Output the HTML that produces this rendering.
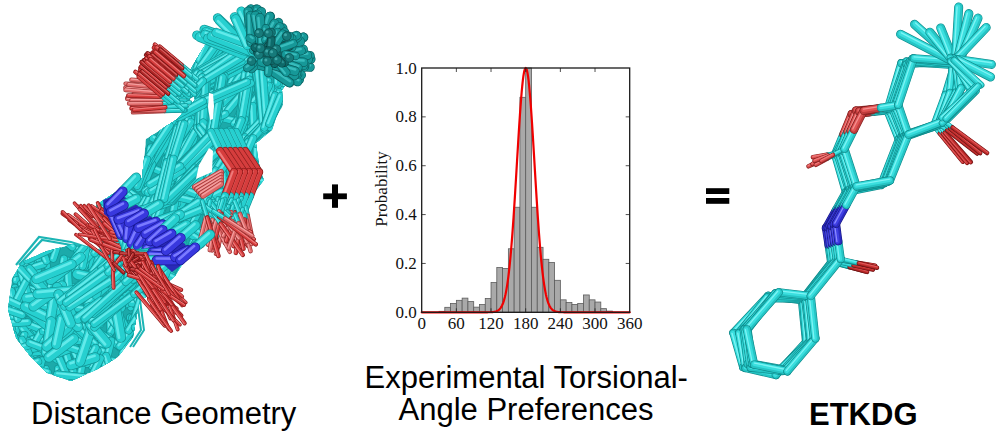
<!DOCTYPE html>
<html><head><meta charset="utf-8">
<style>
html,body{margin:0;padding:0;background:#fff;}
body{width:1000px;height:434px;overflow:hidden;position:relative;}
svg{position:absolute;left:0;top:0;}
.t{font-family:"Liberation Sans",sans-serif;font-size:31px;fill:#000;}
.s{font-family:"Liberation Serif",serif;font-size:17px;fill:#111;}
</style></head><body>
<svg width="1000" height="434" viewBox="0 0 1000 434">
<filter id="bl" filterUnits="userSpaceOnUse" x="0" y="0" width="1000" height="434"><feGaussianBlur stdDeviation="0.45"/></filter>
<g filter="url(#bl)">
<style>path{fill:none;stroke-linecap:round}.k0{stroke:#119595;stroke-width:8px}.k1{stroke:#28d0d0;stroke-width:6.6px}.k2{stroke:#62eaea;stroke-width:2.1px}.k3{stroke:#119595;stroke-width:10.5px}.k4{stroke:#28d0d0;stroke-width:9.1px}.k5{stroke:#62eaea;stroke-width:2.7px}.k6{stroke:#119595;stroke-width:9.5px}.k7{stroke:#28d0d0;stroke-width:8.1px}.k8{stroke:#62eaea;stroke-width:2.5px}.k9{stroke:#086060;stroke-width:9.5px}.k10{stroke:#159898;stroke-width:8.1px}.k11{stroke:#38bcbc;stroke-width:2.5px}.k12{stroke:#086060;stroke-width:8.5px}.k13{stroke:#159898;stroke-width:7.1px}.k14{stroke:#38bcbc;stroke-width:2.2px}.k15{stroke:#063f3f;stroke-width:8.5px}.k16{stroke:#0f6a6a;stroke-width:7.1px}.k17{stroke:#2a8f8f;stroke-width:2.2px}.k18{stroke:#119595;stroke-width:4.5px}.k19{stroke:#28d0d0;stroke-width:3.1px}.k20{stroke:#62eaea;stroke-width:1.2px}.k21{stroke:#a03a3a;stroke-width:4.5px}.k22{stroke:#e06a6a;stroke-width:3.1px}.k23{stroke:#f4a0a0;stroke-width:1.2px}.k24{stroke:#8e1a1a;stroke-width:4.5px}.k25{stroke:#d63e3e;stroke-width:3.1px}.k26{stroke:#ee7a7a;stroke-width:1.2px}.k27{stroke:#6e1010;stroke-width:4.5px}.k28{stroke:#b02828;stroke-width:3.1px}.k29{stroke:#d86060;stroke-width:1.2px}.k30{stroke:#a03a3a;stroke-width:6px}.k31{stroke:#e06a6a;stroke-width:4.6px}.k32{stroke:#f4a0a0;stroke-width:1.6px}.k33{stroke:#8e1a1a;stroke-width:8px}.k34{stroke:#d63e3e;stroke-width:6.6px}.k35{stroke:#ee7a7a;stroke-width:2.1px}.k36{stroke:#8e1a1a;stroke-width:3.9px}.k37{stroke:#d63e3e;stroke-width:2.5px}.k38{stroke:#ee7a7a;stroke-width:1.0px}.k39{stroke:#8e1a1a;stroke-width:3.6px}.k40{stroke:#d63e3e;stroke-width:2.2px}.k41{stroke:#ee7a7a;stroke-width:0.9px}.k42{stroke:#8e1a1a;stroke-width:3.7px}.k43{stroke:#d63e3e;stroke-width:2.3px}.k44{stroke:#8e1a1a;stroke-width:3.8px}.k45{stroke:#d63e3e;stroke-width:2.4px}.k46{stroke:#8e1a1a;stroke-width:4.0px}.k47{stroke:#d63e3e;stroke-width:2.6px}.k48{stroke:#8e1a1a;stroke-width:4.1px}.k49{stroke:#d63e3e;stroke-width:2.7px}.k50{stroke:#ee7a7a;stroke-width:1.1px}.k51{stroke:#8e1a1a;stroke-width:3.4px}.k52{stroke:#d63e3e;stroke-width:2.0px}.k53{stroke:#8e1a1a;stroke-width:3.5px}.k54{stroke:#d63e3e;stroke-width:2.1px}.k55{stroke:#8e1a1a;stroke-width:4.2px}.k56{stroke:#d63e3e;stroke-width:2.8px}.k57{stroke:#119595;stroke-width:10px}.k58{stroke:#28d0d0;stroke-width:8.6px}.k59{stroke:#62eaea;stroke-width:2.6px}.k60{stroke:#1a1a96;stroke-width:10px}.k61{stroke:#3838de;stroke-width:8.6px}.k62{stroke:#7a7aff;stroke-width:2.6px}.k63{stroke:#6e1010;stroke-width:3.8px}.k64{stroke:#b02828;stroke-width:2.4px}.k65{stroke:#d86060;stroke-width:1.0px}.k66{stroke:#0e8888;stroke-width:8.2px}.k67{stroke:#26c4c4;stroke-width:7.0px}.k68{stroke:#3adfdf;stroke-width:4.5px}.k69{stroke:#7ef4f4;stroke-width:1.3px}.k70{stroke:#0e8888;stroke-width:4.5px}.k71{stroke:#26c4c4;stroke-width:3.3px}.k72{stroke:#3adfdf;stroke-width:2.5px}.k73{stroke:#7ef4f4;stroke-width:0.7px}.k74{stroke:#6a1010;stroke-width:4.5px}.k75{stroke:#a82424;stroke-width:3.3px}.k76{stroke:#c83232;stroke-width:2.5px}.k77{stroke:#e87070;stroke-width:0.7px}.k78{stroke:#181880;stroke-width:8.2px}.k79{stroke:#2c2cc0;stroke-width:7.0px}.k80{stroke:#4040e4;stroke-width:4.5px}.k81{stroke:#8a8aff;stroke-width:1.3px}.k82{stroke:#802020;stroke-width:4.5px}.k83{stroke:#c03c3c;stroke-width:3.3px}.k84{stroke:#e05656;stroke-width:2.5px}.k85{stroke:#f59090;stroke-width:0.7px}.k86{stroke:#802020;stroke-width:8.2px}.k87{stroke:#c03c3c;stroke-width:7.0px}.k88{stroke:#e05656;stroke-width:4.5px}.k89{stroke:#f59090;stroke-width:1.3px}.k90{stroke:#0e8888;stroke-width:9px}.k91{stroke:#26c4c4;stroke-width:7.8px}.k92{stroke:#3adfdf;stroke-width:5.0px}.k93{stroke:#7ef4f4;stroke-width:1.4px}.k94{stroke:#0e8888;stroke-width:7px}.k95{stroke:#26c4c4;stroke-width:5.8px}.k96{stroke:#3adfdf;stroke-width:3.9px}.k97{stroke:#7ef4f4;stroke-width:1.1px}</style>
<clipPath id="cl"><polygon points="205,45 222,32 240,22 262,22 280,32 296,45 300,60 292,76 282,90 283,105 276,118 272,130 256,143 259,164 264,180 254,193 248,205 240,230 220,240 198,244 191,246 182,265 175,276 160,290 140,300 137,314 133,337 118,357 98,369 71,381 47,373 31,357 16,338 8,310 12,279 22,262 47,251 74,244 94,248 100,250 96,205 122,188 142,178 146,139 176,120 195,100 190,70"/></clipPath><g clip-path="url(#cl)">
<polygon points="205,45 222,32 240,22 262,22 280,32 296,45 300,60 292,76 282,90 283,105 276,118 272,130 256,143 259,164 264,180 254,193 248,205 240,230 220,240 198,244 191,246 182,265 175,276 160,290 140,300 137,314 133,337 118,357 98,369 71,381 47,373 31,357 16,338 8,310 12,279 22,262 47,251 74,244 94,248 100,250 96,205 122,188 142,178 146,139 176,120 195,100 190,70" fill="#1aaaaa"/>
</g>
<polyline points="16,265 39,237 71,242 96,250" fill="none" stroke="#1fb5b5" stroke-width="2.2"/>
<polyline points="137,300 141,330 130,347" fill="none" stroke="#1fb5b5" stroke-width="2"/>
<polyline points="19,265 42,240 71,245 96,253" fill="none" stroke="#1fb5b5" stroke-width="2.2"/>
<polyline points="140,300 144,330 133,347" fill="none" stroke="#1fb5b5" stroke-width="2"/>
<g clip-path="url(#cl)">
<path class="k0" d="M67.5 301.9L68.2 332.7"/>
<path class="k1" d="M67.5 301.9L68.2 332.7"/>
<path class="k2" d="M66.1 302.0L66.9 332.8"/>
<path class="k0" d="M29.5 340.7L27.5 370.1"/>
<path class="k1" d="M29.5 340.7L27.5 370.1"/>
<path class="k2" d="M28.1 340.6L26.1 370.0"/>
<path class="k0" d="M-1.7 277.0L29.9 277.7"/>
<path class="k1" d="M-1.7 277.0L29.9 277.7"/>
<path class="k2" d="M-1.6 275.7L29.9 276.3"/>
<path class="k0" d="M98.3 310.1L92.0 335.7"/>
<path class="k1" d="M98.3 310.1L92.0 335.7"/>
<path class="k2" d="M97.0 309.8L90.7 335.4"/>
<path class="k0" d="M85.7 253.4L98.9 255.7"/>
<path class="k1" d="M85.7 253.4L98.9 255.7"/>
<path class="k2" d="M86.0 252.1L99.2 254.4"/>
<path class="k0" d="M81.9 338.4L98.0 364.4"/>
<path class="k1" d="M81.9 338.4L98.0 364.4"/>
<path class="k2" d="M80.7 339.1L96.8 365.1"/>
<path class="k0" d="M76.1 323.2L79.6 336.6"/>
<path class="k1" d="M76.1 323.2L79.6 336.6"/>
<path class="k2" d="M74.8 323.5L78.3 336.9"/>
<path class="k0" d="M109.0 282.7L87.5 304.3"/>
<path class="k1" d="M109.0 282.7L87.5 304.3"/>
<path class="k2" d="M108.0 281.7L86.5 303.3"/>
<path class="k0" d="M100.7 276.0L111.6 282.4"/>
<path class="k1" d="M100.7 276.0L111.6 282.4"/>
<path class="k2" d="M101.4 274.8L112.3 281.2"/>
<path class="k0" d="M74.4 245.0L94.6 248.7"/>
<path class="k1" d="M74.4 245.0L94.6 248.7"/>
<path class="k2" d="M74.6 243.6L94.8 247.3"/>
<path class="k0" d="M142.2 299.6L130.8 307.0"/>
<path class="k1" d="M142.2 299.6L130.8 307.0"/>
<path class="k2" d="M141.5 298.5L130.1 305.9"/>
<path class="k0" d="M89.0 343.7L99.8 359.2"/>
<path class="k1" d="M89.0 343.7L99.8 359.2"/>
<path class="k2" d="M87.9 344.5L98.7 360.0"/>
<path class="k0" d="M79.4 300.8L60.1 311.1"/>
<path class="k1" d="M79.4 300.8L60.1 311.1"/>
<path class="k2" d="M78.7 299.6L59.5 309.9"/>
<path class="k0" d="M19.5 339.4L37.7 348.9"/>
<path class="k1" d="M19.5 339.4L37.7 348.9"/>
<path class="k2" d="M20.2 338.2L38.3 347.7"/>
<path class="k0" d="M42.7 386.5L75.8 382.4"/>
<path class="k1" d="M42.7 386.5L75.8 382.4"/>
<path class="k2" d="M42.5 385.1L75.6 381.1"/>
<path class="k0" d="M110.3 279.0L130.7 275.9"/>
<path class="k1" d="M110.3 279.0L130.7 275.9"/>
<path class="k2" d="M110.1 277.7L130.5 274.5"/>
<path class="k0" d="M120.8 331.9L135.5 328.3"/>
<path class="k1" d="M120.8 331.9L135.5 328.3"/>
<path class="k2" d="M120.4 330.6L135.2 327.0"/>
<path class="k0" d="M90.0 352.7L93.1 366.3"/>
<path class="k1" d="M90.0 352.7L93.1 366.3"/>
<path class="k2" d="M88.7 353.0L91.8 366.6"/>
<path class="k0" d="M93.1 256.4L81.8 279.4"/>
<path class="k1" d="M93.1 256.4L81.8 279.4"/>
<path class="k2" d="M91.8 255.8L80.5 278.9"/>
<path class="k0" d="M22.4 311.9L15.7 331.3"/>
<path class="k1" d="M22.4 311.9L15.7 331.3"/>
<path class="k2" d="M21.1 311.5L14.4 330.9"/>
<path class="k0" d="M87.3 272.9L100.8 284.1"/>
<path class="k1" d="M87.3 272.9L100.8 284.1"/>
<path class="k2" d="M88.2 271.9L101.7 283.0"/>
<path class="k0" d="M34.3 330.0L22.6 360.7"/>
<path class="k1" d="M34.3 330.0L22.6 360.7"/>
<path class="k2" d="M33.1 329.5L21.3 360.2"/>
<path class="k0" d="M130.6 317.2L134.0 331.1"/>
<path class="k1" d="M130.6 317.2L134.0 331.1"/>
<path class="k2" d="M129.3 317.5L132.7 331.5"/>
<path class="k0" d="M84.9 266.2L68.8 273.4"/>
<path class="k1" d="M84.9 266.2L68.8 273.4"/>
<path class="k2" d="M84.4 265.0L68.2 272.1"/>
<path class="k0" d="M115.6 308.9L131.5 337.2"/>
<path class="k1" d="M115.6 308.9L131.5 337.2"/>
<path class="k2" d="M114.4 309.6L130.3 337.8"/>
<path class="k0" d="M76.9 324.4L66.9 339.5"/>
<path class="k1" d="M76.9 324.4L66.9 339.5"/>
<path class="k2" d="M75.8 323.6L65.8 338.8"/>
<path class="k0" d="M56.0 234.7L77.7 244.1"/>
<path class="k1" d="M56.0 234.7L77.7 244.1"/>
<path class="k2" d="M56.5 233.5L78.3 242.9"/>
<path class="k0" d="M14.9 288.0L26.6 312.6"/>
<path class="k1" d="M14.9 288.0L26.6 312.6"/>
<path class="k2" d="M13.7 288.5L25.3 313.1"/>
<path class="k0" d="M76.7 249.4L98.6 254.4"/>
<path class="k1" d="M76.7 249.4L98.6 254.4"/>
<path class="k2" d="M77.0 248.1L98.9 253.0"/>
<path class="k0" d="M41.0 281.9L66.2 275.4"/>
<path class="k1" d="M41.0 281.9L66.2 275.4"/>
<path class="k2" d="M40.7 280.5L65.9 274.1"/>
<path class="k0" d="M67.9 338.8L76.8 349.1"/>
<path class="k1" d="M67.9 338.8L76.8 349.1"/>
<path class="k2" d="M66.9 339.7L75.8 350.0"/>
<path class="k0" d="M54.2 284.4L81.8 290.3"/>
<path class="k1" d="M54.2 284.4L81.8 290.3"/>
<path class="k2" d="M54.4 283.1L82.0 289.0"/>
<path class="k0" d="M97.9 342.6L113.2 364.9"/>
<path class="k1" d="M97.9 342.6L113.2 364.9"/>
<path class="k2" d="M96.8 343.4L112.1 365.7"/>
<path class="k0" d="M63.1 340.5L62.1 366.2"/>
<path class="k1" d="M63.1 340.5L62.1 366.2"/>
<path class="k2" d="M61.7 340.4L60.7 366.1"/>
<path class="k0" d="M59.4 314.2L55.3 327.6"/>
<path class="k1" d="M59.4 314.2L55.3 327.6"/>
<path class="k2" d="M58.1 313.8L54.0 327.2"/>
<path class="k0" d="M18.6 259.9L16.1 280.3"/>
<path class="k1" d="M18.6 259.9L16.1 280.3"/>
<path class="k2" d="M17.2 259.8L14.8 280.2"/>
<path class="k0" d="M110.0 308.7L110.5 332.6"/>
<path class="k1" d="M110.0 308.7L110.5 332.6"/>
<path class="k2" d="M108.7 308.7L109.1 332.6"/>
<path class="k0" d="M72.7 300.2L82.9 320.3"/>
<path class="k1" d="M72.7 300.2L82.9 320.3"/>
<path class="k2" d="M71.5 300.8L81.7 320.9"/>
<path class="k0" d="M36.5 325.8L32.6 352.1"/>
<path class="k1" d="M36.5 325.8L32.6 352.1"/>
<path class="k2" d="M35.1 325.6L31.3 351.9"/>
<path class="k0" d="M65.0 358.9L80.9 380.7"/>
<path class="k1" d="M65.0 358.9L80.9 380.7"/>
<path class="k2" d="M63.9 359.7L79.7 381.5"/>
<path class="k0" d="M25.8 246.6L35.0 266.3"/>
<path class="k1" d="M25.8 246.6L35.0 266.3"/>
<path class="k2" d="M24.5 247.2L33.8 266.9"/>
<path class="k0" d="M144.1 273.1L123.5 288.9"/>
<path class="k1" d="M144.1 273.1L123.5 288.9"/>
<path class="k2" d="M143.2 272.0L122.6 287.8"/>
<path class="k0" d="M112.9 341.0L128.2 354.5"/>
<path class="k1" d="M112.9 341.0L128.2 354.5"/>
<path class="k2" d="M113.8 339.9L129.1 353.5"/>
<path class="k0" d="M78.1 276.2L96.8 282.6"/>
<path class="k1" d="M78.1 276.2L96.8 282.6"/>
<path class="k2" d="M78.6 274.9L97.2 281.3"/>
<path class="k0" d="M70.0 362.7L71.4 386.1"/>
<path class="k1" d="M70.0 362.7L71.4 386.1"/>
<path class="k2" d="M68.6 362.8L70.1 386.2"/>
<path class="k0" d="M104.1 335.7L97.6 347.7"/>
<path class="k1" d="M104.1 335.7L97.6 347.7"/>
<path class="k2" d="M102.9 335.1L96.4 347.1"/>
<path class="k0" d="M11.9 328.7L0.5 352.4"/>
<path class="k1" d="M11.9 328.7L0.5 352.4"/>
<path class="k2" d="M10.7 328.1L-0.7 351.8"/>
<path class="k0" d="M84.5 323.7L84.8 336.3"/>
<path class="k1" d="M84.5 323.7L84.8 336.3"/>
<path class="k2" d="M83.1 323.8L83.4 336.3"/>
<path class="k0" d="M111.4 256.5L137.5 277.6"/>
<path class="k1" d="M111.4 256.5L137.5 277.6"/>
<path class="k2" d="M112.2 255.4L138.4 276.5"/>
<path class="k0" d="M76.5 316.8L84.1 342.8"/>
<path class="k1" d="M76.5 316.8L84.1 342.8"/>
<path class="k2" d="M75.2 317.2L82.8 343.2"/>
<path class="k0" d="M18.4 295.6L41.4 312.6"/>
<path class="k1" d="M18.4 295.6L41.4 312.6"/>
<path class="k2" d="M19.2 294.5L42.2 311.5"/>
<path class="k0" d="M40.8 342.0L27.1 361.0"/>
<path class="k1" d="M40.8 342.0L27.1 361.0"/>
<path class="k2" d="M39.7 341.2L26.0 360.2"/>
<path class="k0" d="M94.7 334.5L89.7 361.4"/>
<path class="k1" d="M94.7 334.5L89.7 361.4"/>
<path class="k2" d="M93.3 334.3L88.3 361.2"/>
<path class="k0" d="M42.7 288.0L24.4 300.1"/>
<path class="k1" d="M42.7 288.0L24.4 300.1"/>
<path class="k2" d="M42.0 286.9L23.7 298.9"/>
<path class="k0" d="M17.3 369.2L41.8 367.6"/>
<path class="k1" d="M17.3 369.2L41.8 367.6"/>
<path class="k2" d="M17.2 367.9L41.7 366.3"/>
<path class="k0" d="M148.5 300.4L134.8 304.2"/>
<path class="k1" d="M148.5 300.4L134.8 304.2"/>
<path class="k2" d="M148.1 299.1L134.4 302.9"/>
<path class="k0" d="M24.8 287.9L47.9 293.8"/>
<path class="k1" d="M24.8 287.9L47.9 293.8"/>
<path class="k2" d="M25.1 286.6L48.2 292.5"/>
<path class="k0" d="M127.9 276.7L109.3 283.2"/>
<path class="k1" d="M127.9 276.7L109.3 283.2"/>
<path class="k2" d="M127.4 275.4L108.9 282.0"/>
<path class="k0" d="M16.6 290.8L8.2 306.8"/>
<path class="k1" d="M16.6 290.8L8.2 306.8"/>
<path class="k2" d="M15.4 290.2L7.0 306.1"/>
<path class="k0" d="M120.6 298.6L139.7 295.3"/>
<path class="k1" d="M120.6 298.6L139.7 295.3"/>
<path class="k2" d="M120.4 297.2L139.4 293.9"/>
<path class="k0" d="M34.0 304.0L10.6 317.2"/>
<path class="k1" d="M34.0 304.0L10.6 317.2"/>
<path class="k2" d="M33.4 302.8L9.9 316.0"/>
<path class="k0" d="M70.8 362.2L61.2 372.3"/>
<path class="k1" d="M70.8 362.2L61.2 372.3"/>
<path class="k2" d="M69.8 361.3L60.3 371.4"/>
<path class="k0" d="M29.0 300.7L37.4 323.6"/>
<path class="k1" d="M29.0 300.7L37.4 323.6"/>
<path class="k2" d="M27.8 301.2L36.1 324.1"/>
<path class="k0" d="M29.8 297.9L19.5 322.6"/>
<path class="k1" d="M29.8 297.9L19.5 322.6"/>
<path class="k2" d="M28.6 297.3L18.2 322.0"/>
<path class="k0" d="M83.0 269.3L99.9 285.7"/>
<path class="k1" d="M83.0 269.3L99.9 285.7"/>
<path class="k2" d="M83.9 268.3L100.8 284.7"/>
<path class="k0" d="M87.9 255.6L84.0 267.1"/>
<path class="k1" d="M87.9 255.6L84.0 267.1"/>
<path class="k2" d="M86.6 255.2L82.7 266.7"/>
<path class="k0" d="M46.1 313.9L67.0 314.1"/>
<path class="k1" d="M46.1 313.9L67.0 314.1"/>
<path class="k2" d="M46.2 312.5L67.0 312.7"/>
<path class="k0" d="M118.5 310.1L121.8 325.5"/>
<path class="k1" d="M118.5 310.1L121.8 325.5"/>
<path class="k2" d="M117.2 310.4L120.5 325.8"/>
<path class="k0" d="M138.3 290.5L141.0 312.7"/>
<path class="k1" d="M138.3 290.5L141.0 312.7"/>
<path class="k2" d="M136.9 290.6L139.6 312.9"/>
<path class="k0" d="M19.1 290.5L19.0 304.8"/>
<path class="k1" d="M19.1 290.5L19.0 304.8"/>
<path class="k2" d="M17.8 290.4L17.6 304.8"/>
<path class="k0" d="M53.3 223.6L72.5 245.6"/>
<path class="k1" d="M53.3 223.6L72.5 245.6"/>
<path class="k2" d="M52.3 224.5L71.5 246.5"/>
<path class="k0" d="M30.7 329.2L37.5 345.2"/>
<path class="k1" d="M30.7 329.2L37.5 345.2"/>
<path class="k2" d="M29.4 329.7L36.3 345.7"/>
<path class="k0" d="M78.5 296.9L71.1 319.0"/>
<path class="k1" d="M78.5 296.9L71.1 319.0"/>
<path class="k2" d="M77.3 296.5L69.8 318.5"/>
<path class="k0" d="M41.7 256.2L33.4 265.5"/>
<path class="k1" d="M41.7 256.2L33.4 265.5"/>
<path class="k2" d="M40.7 255.3L32.4 264.6"/>
<path class="k0" d="M97.7 351.0L92.2 366.5"/>
<path class="k1" d="M97.7 351.0L92.2 366.5"/>
<path class="k2" d="M96.5 350.5L90.9 366.0"/>
<path class="k0" d="M99.1 318.5L90.3 340.7"/>
<path class="k1" d="M99.1 318.5L90.3 340.7"/>
<path class="k2" d="M97.8 318.0L89.0 340.2"/>
<path class="k0" d="M96.8 247.0L79.2 255.6"/>
<path class="k1" d="M96.8 247.0L79.2 255.6"/>
<path class="k2" d="M96.2 245.7L78.6 254.4"/>
<path class="k0" d="M11.4 317.9L43.0 330.3"/>
<path class="k1" d="M11.4 317.9L43.0 330.3"/>
<path class="k2" d="M11.9 316.6L43.5 329.1"/>
<path class="k0" d="M30.0 334.3L41.8 352.4"/>
<path class="k1" d="M30.0 334.3L41.8 352.4"/>
<path class="k2" d="M28.8 335.1L40.7 353.1"/>
<path class="k0" d="M149.0 307.9L133.3 321.6"/>
<path class="k1" d="M149.0 307.9L133.3 321.6"/>
<path class="k2" d="M148.1 306.9L132.4 320.6"/>
<path class="k0" d="M22.5 327.8L37.8 345.1"/>
<path class="k1" d="M22.5 327.8L37.8 345.1"/>
<path class="k2" d="M21.5 328.7L36.8 346.0"/>
<path class="k0" d="M127.7 303.4L99.8 313.5"/>
<path class="k1" d="M127.7 303.4L99.8 313.5"/>
<path class="k2" d="M127.2 302.1L99.3 312.2"/>
<path class="k0" d="M118.3 318.6L110.3 332.7"/>
<path class="k1" d="M118.3 318.6L110.3 332.7"/>
<path class="k2" d="M117.1 318.0L109.1 332.1"/>
<path class="k0" d="M5.7 245.5L28.8 268.3"/>
<path class="k1" d="M5.7 245.5L28.8 268.3"/>
<path class="k2" d="M6.7 244.5L29.7 267.3"/>
<path class="k0" d="M131.6 303.1L153.8 301.1"/>
<path class="k1" d="M131.6 303.1L153.8 301.1"/>
<path class="k2" d="M131.5 301.7L153.7 299.7"/>
<path class="k0" d="M83.0 285.5L71.6 308.7"/>
<path class="k1" d="M83.0 285.5L71.6 308.7"/>
<path class="k2" d="M81.8 284.9L70.3 308.1"/>
<path class="k0" d="M56.8 279.2L65.6 292.9"/>
<path class="k1" d="M56.8 279.2L65.6 292.9"/>
<path class="k2" d="M55.6 280.0L64.5 293.7"/>
<path class="k0" d="M17.9 310.6L31.7 309.3"/>
<path class="k1" d="M17.9 310.6L31.7 309.3"/>
<path class="k2" d="M17.7 309.2L31.5 308.0"/>
<path class="k0" d="M95.9 249.2L75.0 270.4"/>
<path class="k1" d="M95.9 249.2L75.0 270.4"/>
<path class="k2" d="M94.9 248.2L74.1 269.4"/>
<path class="k0" d="M45.9 369.2L31.6 375.2"/>
<path class="k1" d="M45.9 369.2L31.6 375.2"/>
<path class="k2" d="M45.4 367.9L31.1 373.9"/>
<path class="k0" d="M44.1 300.7L54.9 327.4"/>
<path class="k1" d="M44.1 300.7L54.9 327.4"/>
<path class="k2" d="M42.8 301.2L53.6 327.9"/>
<path class="k0" d="M51.7 341.3L70.1 344.2"/>
<path class="k1" d="M51.7 341.3L70.1 344.2"/>
<path class="k2" d="M51.9 339.9L70.3 342.8"/>
<path class="k0" d="M23.6 288.1L41.2 298.7"/>
<path class="k1" d="M23.6 288.1L41.2 298.7"/>
<path class="k2" d="M24.3 286.9L41.9 297.5"/>
<path class="k0" d="M108.6 336.5L101.7 361.1"/>
<path class="k1" d="M108.6 336.5L101.7 361.1"/>
<path class="k2" d="M107.3 336.2L100.4 360.8"/>
<path class="k0" d="M110.9 255.7L110.8 284.4"/>
<path class="k1" d="M110.9 255.7L110.8 284.4"/>
<path class="k2" d="M109.5 255.7L109.4 284.4"/>
<path class="k0" d="M33.3 262.8L44.3 283.2"/>
<path class="k1" d="M33.3 262.8L44.3 283.2"/>
<path class="k2" d="M32.1 263.5L43.1 283.8"/>
<path class="k0" d="M130.2 317.5L159.9 319.7"/>
<path class="k1" d="M130.2 317.5L159.9 319.7"/>
<path class="k2" d="M130.3 316.2L160.0 318.3"/>
<path class="k0" d="M-4.9 324.2L27.7 322.2"/>
<path class="k1" d="M-4.9 324.2L27.7 322.2"/>
<path class="k2" d="M-4.9 322.8L27.6 320.9"/>
<path class="k0" d="M58.2 368.8L57.6 393.9"/>
<path class="k1" d="M58.2 368.8L57.6 393.9"/>
<path class="k2" d="M56.8 368.7L56.2 393.9"/>
<path class="k0" d="M58.3 296.2L70.6 318.1"/>
<path class="k1" d="M58.3 296.2L70.6 318.1"/>
<path class="k2" d="M57.1 296.8L69.4 318.8"/>
<path class="k0" d="M67.8 264.8L41.9 284.3"/>
<path class="k1" d="M67.8 264.8L41.9 284.3"/>
<path class="k2" d="M67.0 263.7L41.0 283.2"/>
<path class="k0" d="M91.1 348.8L108.0 344.5"/>
<path class="k1" d="M91.1 348.8L108.0 344.5"/>
<path class="k2" d="M90.8 347.5L107.6 343.1"/>
<path class="k0" d="M110.7 284.8L115.7 296.9"/>
<path class="k1" d="M110.7 284.8L115.7 296.9"/>
<path class="k2" d="M109.4 285.3L114.5 297.4"/>
<path class="k0" d="M57.6 302.5L71.2 306.5"/>
<path class="k1" d="M57.6 302.5L71.2 306.5"/>
<path class="k2" d="M58.0 301.2L71.6 305.2"/>
<path class="k0" d="M25.8 339.5L47.8 340.9"/>
<path class="k1" d="M25.8 339.5L47.8 340.9"/>
<path class="k2" d="M25.9 338.1L47.9 339.6"/>
<path class="k0" d="M33.9 228.7L27.2 247.5"/>
<path class="k1" d="M33.9 228.7L27.2 247.5"/>
<path class="k2" d="M32.6 228.2L25.9 247.1"/>
<path class="k0" d="M25.8 283.6L16.1 306.5"/>
<path class="k1" d="M25.8 283.6L16.1 306.5"/>
<path class="k2" d="M24.5 283.1L14.9 305.9"/>
<path class="k0" d="M67.7 345.6L58.2 357.2"/>
<path class="k1" d="M67.7 345.6L58.2 357.2"/>
<path class="k2" d="M66.6 344.7L57.1 356.3"/>
<path class="k0" d="M40.3 234.6L46.7 265.6"/>
<path class="k1" d="M40.3 234.6L46.7 265.6"/>
<path class="k2" d="M39.0 234.9L45.4 265.9"/>
<path class="k0" d="M110.0 317.3L125.3 337.7"/>
<path class="k1" d="M110.0 317.3L125.3 337.7"/>
<path class="k2" d="M109.0 318.1L124.2 338.5"/>
<path class="k0" d="M96.9 331.1L120.6 347.0"/>
<path class="k1" d="M96.9 331.1L120.6 347.0"/>
<path class="k2" d="M97.7 329.9L121.4 345.9"/>
<path class="k0" d="M43.4 264.1L13.5 273.6"/>
<path class="k1" d="M43.4 264.1L13.5 273.6"/>
<path class="k2" d="M43.0 262.8L13.1 272.3"/>
<path class="k0" d="M43.0 288.2L38.3 304.4"/>
<path class="k1" d="M43.0 288.2L38.3 304.4"/>
<path class="k2" d="M41.7 287.8L37.0 304.1"/>
<path class="k0" d="M48.3 342.4L35.2 353.4"/>
<path class="k1" d="M48.3 342.4L35.2 353.4"/>
<path class="k2" d="M47.4 341.3L34.3 352.4"/>
<path class="k0" d="M141.1 297.9L153.3 313.1"/>
<path class="k1" d="M141.1 297.9L153.3 313.1"/>
<path class="k2" d="M140.0 298.7L152.3 314.0"/>
<path class="k0" d="M100.9 359.1L122.5 362.5"/>
<path class="k1" d="M100.9 359.1L122.5 362.5"/>
<path class="k2" d="M101.2 357.8L122.7 361.2"/>
<path class="k0" d="M127.2 290.3L103.5 308.3"/>
<path class="k1" d="M127.2 290.3L103.5 308.3"/>
<path class="k2" d="M126.4 289.2L102.7 307.3"/>
<path class="k0" d="M60.4 321.0L50.3 342.9"/>
<path class="k1" d="M60.4 321.0L50.3 342.9"/>
<path class="k2" d="M59.1 320.5L49.1 342.3"/>
<path class="k0" d="M54.6 287.8L73.7 287.4"/>
<path class="k1" d="M54.6 287.8L73.7 287.4"/>
<path class="k2" d="M54.6 286.4L73.7 286.1"/>
<path class="k0" d="M88.2 285.6L74.9 309.2"/>
<path class="k1" d="M88.2 285.6L74.9 309.2"/>
<path class="k2" d="M87.0 284.9L73.7 308.5"/>
<path class="k0" d="M28.9 352.6L60.8 349.4"/>
<path class="k1" d="M28.9 352.6L60.8 349.4"/>
<path class="k2" d="M28.8 351.2L60.6 348.0"/>
<path class="k0" d="M92.2 324.9L89.0 352.0"/>
<path class="k1" d="M92.2 324.9L89.0 352.0"/>
<path class="k2" d="M90.8 324.7L87.6 351.8"/>
<path class="k0" d="M38.3 243.6L46.5 261.0"/>
<path class="k1" d="M38.3 243.6L46.5 261.0"/>
<path class="k2" d="M37.1 244.2L45.3 261.6"/>
<path class="k0" d="M136.5 264.2L135.4 296.4"/>
<path class="k1" d="M136.5 264.2L135.4 296.4"/>
<path class="k2" d="M135.2 264.2L134.0 296.3"/>
<path class="k0" d="M61.3 348.1L70.1 362.5"/>
<path class="k1" d="M61.3 348.1L70.1 362.5"/>
<path class="k2" d="M60.2 348.8L68.9 363.2"/>
<path class="k0" d="M149.0 334.6L141.4 353.1"/>
<path class="k1" d="M149.0 334.6L141.4 353.1"/>
<path class="k2" d="M147.7 334.1L140.1 352.5"/>
<path class="k0" d="M55.5 271.9L54.2 301.4"/>
<path class="k1" d="M55.5 271.9L54.2 301.4"/>
<path class="k2" d="M54.1 271.9L52.8 301.4"/>
<path class="k0" d="M111.1 272.2L110.5 302.6"/>
<path class="k1" d="M111.1 272.2L110.5 302.6"/>
<path class="k2" d="M109.8 272.2L109.1 302.6"/>
<path class="k0" d="M86.2 248.6L82.6 266.5"/>
<path class="k1" d="M86.2 248.6L82.6 266.5"/>
<path class="k2" d="M84.9 248.4L81.3 266.2"/>
<path class="k0" d="M6.5 301.7L0.2 319.1"/>
<path class="k1" d="M6.5 301.7L0.2 319.1"/>
<path class="k2" d="M5.2 301.3L-1.1 318.7"/>
<path class="k0" d="M60.9 314.3L65.9 327.2"/>
<path class="k1" d="M60.9 314.3L65.9 327.2"/>
<path class="k2" d="M59.6 314.8L64.7 327.7"/>
<path class="k0" d="M3.5 335.4L21.0 354.6"/>
<path class="k1" d="M3.5 335.4L21.0 354.6"/>
<path class="k2" d="M2.5 336.3L20.0 355.5"/>
<path class="k0" d="M33.3 338.9L9.9 353.7"/>
<path class="k1" d="M33.3 338.9L9.9 353.7"/>
<path class="k2" d="M32.5 337.8L9.2 352.6"/>
<path class="k0" d="M69.5 362.0L77.2 381.2"/>
<path class="k1" d="M69.5 362.0L77.2 381.2"/>
<path class="k2" d="M68.2 362.5L76.0 381.7"/>
<path class="k0" d="M59.3 373.6L42.1 388.5"/>
<path class="k1" d="M59.3 373.6L42.1 388.5"/>
<path class="k2" d="M58.4 372.6L41.2 387.5"/>
<path class="k0" d="M59.8 231.3L53.6 256.6"/>
<path class="k1" d="M59.8 231.3L53.6 256.6"/>
<path class="k2" d="M58.5 230.9L52.3 256.3"/>
<path class="k0" d="M68.0 341.2L89.2 340.3"/>
<path class="k1" d="M68.0 341.2L89.2 340.3"/>
<path class="k2" d="M67.9 339.9L89.1 339.0"/>
<path class="k0" d="M28.5 341.3L15.4 350.0"/>
<path class="k1" d="M28.5 341.3L15.4 350.0"/>
<path class="k2" d="M27.7 340.1L14.6 348.9"/>
<path class="k0" d="M21.2 283.7L40.1 308.9"/>
<path class="k1" d="M21.2 283.7L40.1 308.9"/>
<path class="k2" d="M20.1 284.5L39.0 309.7"/>
<path class="k0" d="M64.4 330.9L77.0 357.1"/>
<path class="k1" d="M64.4 330.9L77.0 357.1"/>
<path class="k2" d="M63.2 331.5L75.8 357.7"/>
<path class="k0" d="M24.1 228.8L29.7 250.7"/>
<path class="k1" d="M24.1 228.8L29.7 250.7"/>
<path class="k2" d="M22.8 229.1L28.4 251.0"/>
<path class="k0" d="M112.2 275.8L127.9 281.7"/>
<path class="k1" d="M112.2 275.8L127.9 281.7"/>
<path class="k2" d="M112.7 274.5L128.4 280.4"/>
<path class="k0" d="M40.8 332.5L29.8 351.3"/>
<path class="k1" d="M40.8 332.5L29.8 351.3"/>
<path class="k2" d="M39.6 331.8L28.7 350.6"/>
<path class="k0" d="M127.0 278.1L141.4 307.5"/>
<path class="k1" d="M127.0 278.1L141.4 307.5"/>
<path class="k2" d="M125.7 278.7L140.2 308.1"/>
<path class="k0" d="M85.8 347.4L79.3 378.9"/>
<path class="k1" d="M85.8 347.4L79.3 378.9"/>
<path class="k2" d="M84.5 347.1L78.0 378.6"/>
<path class="k0" d="M42.9 315.5L59.7 315.3"/>
<path class="k1" d="M42.9 315.5L59.7 315.3"/>
<path class="k2" d="M42.9 314.1L59.7 313.9"/>
<path class="k0" d="M129.3 278.8L111.1 301.4"/>
<path class="k1" d="M129.3 278.8L111.1 301.4"/>
<path class="k2" d="M128.3 277.9L110.0 300.5"/>
<path class="k0" d="M67.9 260.7L67.1 276.2"/>
<path class="k1" d="M67.9 260.7L67.1 276.2"/>
<path class="k2" d="M66.6 260.7L65.7 276.1"/>
<path class="k0" d="M19.0 266.0L28.1 294.4"/>
<path class="k1" d="M19.0 266.0L28.1 294.4"/>
<path class="k2" d="M17.7 266.4L26.8 294.8"/>
<path class="k0" d="M24.3 334.8L15.0 356.6"/>
<path class="k1" d="M24.3 334.8L15.0 356.6"/>
<path class="k2" d="M23.1 334.2L13.8 356.1"/>
<path class="k0" d="M6.7 352.7L38.5 347.7"/>
<path class="k1" d="M6.7 352.7L38.5 347.7"/>
<path class="k2" d="M6.5 351.3L38.3 346.4"/>
<path class="k0" d="M14.0 238.9L30.7 261.1"/>
<path class="k1" d="M14.0 238.9L30.7 261.1"/>
<path class="k2" d="M12.9 239.7L29.6 262.0"/>
<path class="k0" d="M11.5 291.0L17.7 318.8"/>
<path class="k1" d="M11.5 291.0L17.7 318.8"/>
<path class="k2" d="M10.2 291.3L16.3 319.1"/>
<path class="k0" d="M71.0 307.3L92.0 310.5"/>
<path class="k1" d="M71.0 307.3L92.0 310.5"/>
<path class="k2" d="M71.3 306.0L92.2 309.2"/>
<path class="k0" d="M129.2 252.4L118.7 272.7"/>
<path class="k1" d="M129.2 252.4L118.7 272.7"/>
<path class="k2" d="M128.0 251.7L117.5 272.0"/>
<path class="k0" d="M52.0 283.1L42.9 303.4"/>
<path class="k1" d="M52.0 283.1L42.9 303.4"/>
<path class="k2" d="M50.7 282.5L41.6 302.9"/>
<path class="k0" d="M117.4 277.4L97.2 294.8"/>
<path class="k1" d="M117.4 277.4L97.2 294.8"/>
<path class="k2" d="M116.5 276.4L96.3 293.8"/>
<path class="k0" d="M95.3 346.0L107.5 347.0"/>
<path class="k1" d="M95.3 346.0L107.5 347.0"/>
<path class="k2" d="M95.4 344.6L107.6 345.6"/>
<path class="k0" d="M49.9 337.8L63.2 343.7"/>
<path class="k1" d="M49.9 337.8L63.2 343.7"/>
<path class="k2" d="M50.5 336.6L63.7 342.4"/>
<path class="k0" d="M131.0 330.0L122.4 354.4"/>
<path class="k1" d="M131.0 330.0L122.4 354.4"/>
<path class="k2" d="M129.7 329.6L121.1 353.9"/>
<path class="k0" d="M136.0 335.8L145.2 358.2"/>
<path class="k1" d="M136.0 335.8L145.2 358.2"/>
<path class="k2" d="M134.8 336.3L144.0 358.7"/>
<path class="k0" d="M14.2 249.9L11.9 269.0"/>
<path class="k1" d="M14.2 249.9L11.9 269.0"/>
<path class="k2" d="M12.9 249.7L10.5 268.8"/>
<path class="k0" d="M151.6 313.0L131.9 322.5"/>
<path class="k1" d="M151.6 313.0L131.9 322.5"/>
<path class="k2" d="M151.0 311.8L131.3 321.3"/>
<path class="k0" d="M61.5 233.1L53.2 258.7"/>
<path class="k1" d="M61.5 233.1L53.2 258.7"/>
<path class="k2" d="M60.2 232.7L52.0 258.3"/>
<path class="k0" d="M103.6 247.3L108.9 268.8"/>
<path class="k1" d="M103.6 247.3L108.9 268.8"/>
<path class="k2" d="M102.3 247.6L107.6 269.2"/>
<path class="k0" d="M61.9 340.1L68.3 360.5"/>
<path class="k1" d="M61.9 340.1L68.3 360.5"/>
<path class="k2" d="M60.6 340.5L67.0 360.9"/>
<path class="k0" d="M68.8 324.4L84.6 337.5"/>
<path class="k1" d="M68.8 324.4L84.6 337.5"/>
<path class="k2" d="M69.7 323.4L85.5 336.5"/>
<path class="k0" d="M37.1 292.8L62.4 295.8"/>
<path class="k1" d="M37.1 292.8L62.4 295.8"/>
<path class="k2" d="M37.2 291.4L62.5 294.5"/>
<path class="k0" d="M37.2 345.8L58.1 360.3"/>
<path class="k1" d="M37.2 345.8L58.1 360.3"/>
<path class="k2" d="M38.0 344.7L58.9 359.2"/>
<path class="k0" d="M43.1 331.3L59.6 331.8"/>
<path class="k1" d="M43.1 331.3L59.6 331.8"/>
<path class="k2" d="M43.1 329.9L59.6 330.4"/>
<path class="k0" d="M42.2 275.3L57.6 276.2"/>
<path class="k1" d="M42.2 275.3L57.6 276.2"/>
<path class="k2" d="M42.3 274.0L57.7 274.9"/>
<path class="k0" d="M88.5 274.4L76.0 295.6"/>
<path class="k1" d="M88.5 274.4L76.0 295.6"/>
<path class="k2" d="M87.3 273.7L74.8 294.9"/>
<path class="k0" d="M132.2 318.0L148.5 319.1"/>
<path class="k1" d="M132.2 318.0L148.5 319.1"/>
<path class="k2" d="M132.3 316.6L148.6 317.7"/>
<path class="k0" d="M17.0 259.6L8.0 276.7"/>
<path class="k1" d="M17.0 259.6L8.0 276.7"/>
<path class="k2" d="M15.7 259.0L6.8 276.1"/>
<path class="k0" d="M41.8 360.5L38.1 375.0"/>
<path class="k1" d="M41.8 360.5L38.1 375.0"/>
<path class="k2" d="M40.4 360.1L36.8 374.7"/>
<path class="k0" d="M140.3 299.4L130.9 330.1"/>
<path class="k1" d="M140.3 299.4L130.9 330.1"/>
<path class="k2" d="M139.0 299.0L129.6 329.8"/>
<path class="k0" d="M21.9 339.8L28.6 352.9"/>
<path class="k1" d="M21.9 339.8L28.6 352.9"/>
<path class="k2" d="M20.7 340.4L27.4 353.5"/>
<path class="k0" d="M116.2 265.3L131.2 284.7"/>
<path class="k1" d="M116.2 265.3L131.2 284.7"/>
<path class="k2" d="M115.1 266.1L130.2 285.6"/>
<path class="k0" d="M67.6 242.6L96.8 241.2"/>
<path class="k1" d="M67.6 242.6L96.8 241.2"/>
<path class="k2" d="M67.5 241.3L96.7 239.8"/>
<path class="k0" d="M32.9 344.0L8.6 351.9"/>
<path class="k1" d="M32.9 344.0L8.6 351.9"/>
<path class="k2" d="M32.5 342.8L8.2 350.6"/>
<path class="k0" d="M85.6 345.1L106.5 353.1"/>
<path class="k1" d="M85.6 345.1L106.5 353.1"/>
<path class="k2" d="M86.1 343.8L106.9 351.8"/>
<path class="k0" d="M25.9 281.6L17.0 298.9"/>
<path class="k1" d="M25.9 281.6L17.0 298.9"/>
<path class="k2" d="M24.7 281.0L15.8 298.3"/>
<path class="k0" d="M9.7 257.5L29.8 278.7"/>
<path class="k1" d="M9.7 257.5L29.8 278.7"/>
<path class="k2" d="M8.7 258.4L28.8 279.6"/>
<path class="k0" d="M111.2 340.6L105.2 365.1"/>
<path class="k1" d="M111.2 340.6L105.2 365.1"/>
<path class="k2" d="M109.9 340.3L103.9 364.8"/>
<path class="k0" d="M78.7 285.2L62.3 303.2"/>
<path class="k1" d="M78.7 285.2L62.3 303.2"/>
<path class="k2" d="M77.7 284.2L61.2 302.3"/>
<path class="k0" d="M63.8 258.8L58.3 289.1"/>
<path class="k1" d="M63.8 258.8L58.3 289.1"/>
<path class="k2" d="M62.4 258.5L57.0 288.8"/>
<path class="k0" d="M66.5 282.2L56.2 313.2"/>
<path class="k1" d="M66.5 282.2L56.2 313.2"/>
<path class="k2" d="M65.2 281.8L54.9 312.8"/>
<path class="k0" d="M51.6 301.9L47.6 320.5"/>
<path class="k1" d="M51.6 301.9L47.6 320.5"/>
<path class="k2" d="M50.2 301.6L46.2 320.3"/>
<path class="k0" d="M9.7 330.7L6.7 355.7"/>
<path class="k1" d="M9.7 330.7L6.7 355.7"/>
<path class="k2" d="M8.4 330.5L5.3 355.5"/>
<path class="k0" d="M118.5 271.0L107.0 284.1"/>
<path class="k1" d="M118.5 271.0L107.0 284.1"/>
<path class="k2" d="M117.5 270.1L106.0 283.2"/>
<path class="k0" d="M129.4 256.9L123.9 278.7"/>
<path class="k1" d="M129.4 256.9L123.9 278.7"/>
<path class="k2" d="M128.1 256.6L122.6 278.4"/>
<path class="k0" d="M69.0 321.2L94.5 343.7"/>
<path class="k1" d="M69.0 321.2L94.5 343.7"/>
<path class="k2" d="M69.9 320.2L95.4 342.7"/>
<path class="k0" d="M106.2 355.9L113.1 376.0"/>
<path class="k1" d="M106.2 355.9L113.1 376.0"/>
<path class="k2" d="M104.9 356.3L111.8 376.4"/>
<path class="k0" d="M127.0 260.7L114.6 268.5"/>
<path class="k1" d="M127.0 260.7L114.6 268.5"/>
<path class="k2" d="M126.3 259.5L113.9 267.4"/>
<path class="k0" d="M-0.5 307.2L22.0 314.9"/>
<path class="k1" d="M-0.5 307.2L22.0 314.9"/>
<path class="k2" d="M-0.1 306.0L22.5 313.6"/>
<path class="k0" d="M29.6 268.4L43.5 285.0"/>
<path class="k1" d="M29.6 268.4L43.5 285.0"/>
<path class="k2" d="M28.6 269.2L42.5 285.9"/>
<path class="k0" d="M56.3 307.4L78.7 318.1"/>
<path class="k1" d="M56.3 307.4L78.7 318.1"/>
<path class="k2" d="M56.9 306.1L79.3 316.9"/>
<path class="k0" d="M132.1 263.7L137.5 292.3"/>
<path class="k1" d="M132.1 263.7L137.5 292.3"/>
<path class="k2" d="M130.7 264.0L136.1 292.6"/>
<path class="k0" d="M38.2 361.5L22.7 366.5"/>
<path class="k1" d="M38.2 361.5L22.7 366.5"/>
<path class="k2" d="M37.7 360.2L22.2 365.2"/>
<path class="k0" d="M122.4 272.7L128.9 297.8"/>
<path class="k1" d="M122.4 272.7L128.9 297.8"/>
<path class="k2" d="M121.1 273.0L127.6 298.2"/>
<path class="k0" d="M109.2 310.6L100.2 324.1"/>
<path class="k1" d="M109.2 310.6L100.2 324.1"/>
<path class="k2" d="M108.1 309.9L99.0 323.3"/>
<path class="k0" d="M13.4 334.6L18.4 351.9"/>
<path class="k1" d="M13.4 334.6L18.4 351.9"/>
<path class="k2" d="M12.1 334.9L17.1 352.3"/>
<path class="k0" d="M56.4 352.2L69.7 382.0"/>
<path class="k1" d="M56.4 352.2L69.7 382.0"/>
<path class="k2" d="M55.1 352.8L68.5 382.6"/>
<path class="k0" d="M61.2 237.5L72.3 247.1"/>
<path class="k1" d="M61.2 237.5L72.3 247.1"/>
<path class="k2" d="M62.1 236.5L73.2 246.1"/>
<path class="k0" d="M114.2 263.8L93.2 280.1"/>
<path class="k1" d="M114.2 263.8L93.2 280.1"/>
<path class="k2" d="M113.3 262.7L92.3 279.1"/>
<path class="k0" d="M124.9 284.6L112.2 291.7"/>
<path class="k1" d="M124.9 284.6L112.2 291.7"/>
<path class="k2" d="M124.3 283.4L111.6 290.5"/>
<path class="k0" d="M46.3 239.4L21.5 262.0"/>
<path class="k1" d="M46.3 239.4L21.5 262.0"/>
<path class="k2" d="M45.4 238.4L20.5 261.0"/>
<path class="k0" d="M70.1 307.9L62.0 316.9"/>
<path class="k1" d="M70.1 307.9L62.0 316.9"/>
<path class="k2" d="M69.1 307.0L61.0 316.0"/>
<path class="k0" d="M89.1 306.9L86.9 320.7"/>
<path class="k1" d="M89.1 306.9L86.9 320.7"/>
<path class="k2" d="M87.7 306.7L85.5 320.5"/>
<path class="k0" d="M29.6 343.0L56.0 352.8"/>
<path class="k1" d="M29.6 343.0L56.0 352.8"/>
<path class="k2" d="M30.1 341.7L56.4 351.5"/>
<path class="k0" d="M100.5 358.4L86.0 387.5"/>
<path class="k1" d="M100.5 358.4L86.0 387.5"/>
<path class="k2" d="M99.3 357.8L84.8 386.9"/>
<path class="k0" d="M84.9 245.5L65.1 270.6"/>
<path class="k1" d="M84.9 245.5L65.1 270.6"/>
<path class="k2" d="M83.8 244.7L64.0 269.8"/>
<path class="k0" d="M36.6 305.3L59.7 305.5"/>
<path class="k1" d="M36.6 305.3L59.7 305.5"/>
<path class="k2" d="M36.6 304.0L59.7 304.2"/>
<path class="k0" d="M134.0 327.3L119.6 346.2"/>
<path class="k1" d="M134.0 327.3L119.6 346.2"/>
<path class="k2" d="M132.9 326.5L118.5 345.3"/>
<path class="k0" d="M80.5 349.8L97.7 350.8"/>
<path class="k1" d="M80.5 349.8L97.7 350.8"/>
<path class="k2" d="M80.6 348.5L97.7 349.4"/>
<path class="k0" d="M74.1 347.5L58.1 353.7"/>
<path class="k1" d="M74.1 347.5L58.1 353.7"/>
<path class="k2" d="M73.6 346.2L57.6 352.4"/>
<path class="k0" d="M78.2 257.1L68.5 271.9"/>
<path class="k1" d="M78.2 257.1L68.5 271.9"/>
<path class="k2" d="M77.1 256.3L67.4 271.2"/>
<path class="k0" d="M-3.6 294.6L19.4 305.3"/>
<path class="k1" d="M-3.6 294.6L19.4 305.3"/>
<path class="k2" d="M-3.1 293.4L20.0 304.0"/>
<path class="k0" d="M95.5 347.9L87.1 363.6"/>
<path class="k1" d="M95.5 347.9L87.1 363.6"/>
<path class="k2" d="M94.3 347.3L85.9 363.0"/>
<path class="k0" d="M143.6 307.0L128.6 330.5"/>
<path class="k1" d="M143.6 307.0L128.6 330.5"/>
<path class="k2" d="M142.4 306.2L127.5 329.8"/>
<path class="k0" d="M72.6 326.9L55.0 350.1"/>
<path class="k1" d="M72.6 326.9L55.0 350.1"/>
<path class="k2" d="M71.5 326.1L53.9 349.3"/>
<path class="k0" d="M122.2 305.0L107.4 310.5"/>
<path class="k1" d="M122.2 305.0L107.4 310.5"/>
<path class="k2" d="M121.7 303.7L106.9 309.2"/>
<path class="k0" d="M49.6 249.6L26.9 260.3"/>
<path class="k1" d="M49.6 249.6L26.9 260.3"/>
<path class="k2" d="M49.0 248.3L26.3 259.1"/>
<path class="k0" d="M67.6 270.9L68.8 287.6"/>
<path class="k1" d="M67.6 270.9L68.8 287.6"/>
<path class="k2" d="M66.2 271.0L67.4 287.7"/>
<path class="k0" d="M63.0 345.1L83.8 352.4"/>
<path class="k1" d="M63.0 345.1L83.8 352.4"/>
<path class="k2" d="M63.5 343.8L84.3 351.1"/>
<path class="k0" d="M24.6 365.2L47.6 372.5"/>
<path class="k1" d="M24.6 365.2L47.6 372.5"/>
<path class="k2" d="M25.0 363.9L48.0 371.3"/>
<path class="k0" d="M57.0 374.6L84.6 377.3"/>
<path class="k1" d="M57.0 374.6L84.6 377.3"/>
<path class="k2" d="M57.1 373.3L84.7 375.9"/>
<path class="k0" d="M139.1 316.0L153.7 335.1"/>
<path class="k1" d="M139.1 316.0L153.7 335.1"/>
<path class="k2" d="M138.0 316.8L152.7 336.0"/>
<path class="k0" d="M27.5 297.8L45.0 306.2"/>
<path class="k1" d="M27.5 297.8L45.0 306.2"/>
<path class="k2" d="M28.1 296.5L45.6 305.0"/>
<path class="k0" d="M134.9 327.5L159.4 323.1"/>
<path class="k1" d="M134.9 327.5L159.4 323.1"/>
<path class="k2" d="M134.7 326.2L159.2 321.8"/>
<path class="k3" d="M95.1 357.5L71.1 365.0"/>
<path class="k4" d="M95.1 357.5L71.1 365.0"/>
<path class="k5" d="M94.6 355.8L70.5 363.3"/>
<path class="k3" d="M26.6 298.3L54.6 294.1"/>
<path class="k4" d="M26.6 298.3L54.6 294.1"/>
<path class="k5" d="M26.4 296.5L54.3 292.3"/>
<path class="k3" d="M25.8 307.8L48.3 326.3"/>
<path class="k4" d="M25.8 307.8L48.3 326.3"/>
<path class="k5" d="M26.9 306.4L49.4 324.9"/>
<path class="k3" d="M92.6 323.8L80.0 361.6"/>
<path class="k4" d="M92.6 323.8L80.0 361.6"/>
<path class="k5" d="M90.9 323.2L78.3 361.0"/>
<path class="k3" d="M120.6 307.3L87.3 317.7"/>
<path class="k4" d="M120.6 307.3L87.3 317.7"/>
<path class="k5" d="M120.1 305.6L86.8 316.0"/>
<path class="k3" d="M34.9 280.9L59.5 307.2"/>
<path class="k4" d="M34.9 280.9L59.5 307.2"/>
<path class="k5" d="M33.6 282.2L58.2 308.4"/>
<path class="k3" d="M25.1 306.7L49.9 318.7"/>
<path class="k4" d="M25.1 306.7L49.9 318.7"/>
<path class="k5" d="M25.9 305.0L50.7 317.1"/>
<path class="k3" d="M53.8 306.0L78.0 326.7"/>
<path class="k4" d="M53.8 306.0L78.0 326.7"/>
<path class="k5" d="M54.9 304.7L79.2 325.4"/>
<path class="k3" d="M54.8 292.4L50.6 317.8"/>
<path class="k4" d="M54.8 292.4L50.6 317.8"/>
<path class="k5" d="M53.0 292.1L48.8 317.5"/>
<path class="k3" d="M51.1 321.5L46.2 352.4"/>
<path class="k4" d="M51.1 321.5L46.2 352.4"/>
<path class="k5" d="M49.4 321.2L44.4 352.1"/>
<path class="k3" d="M88.6 307.6L92.7 330.5"/>
<path class="k4" d="M88.6 307.6L92.7 330.5"/>
<path class="k5" d="M86.8 307.9L90.9 330.8"/>
<path class="k3" d="M114.0 298.8L120.8 337.4"/>
<path class="k4" d="M114.0 298.8L120.8 337.4"/>
<path class="k5" d="M112.2 299.1L119.0 337.7"/>
<path class="k3" d="M112.4 265.4L126.0 291.8"/>
<path class="k4" d="M112.4 265.4L126.0 291.8"/>
<path class="k5" d="M110.8 266.2L124.4 292.6"/>
<path class="k3" d="M102.8 259.5L96.0 294.6"/>
<path class="k4" d="M102.8 259.5L96.0 294.6"/>
<path class="k5" d="M101.1 259.1L94.2 294.3"/>
<path class="k3" d="M67.5 327.4L46.7 346.4"/>
<path class="k4" d="M67.5 327.4L46.7 346.4"/>
<path class="k5" d="M66.3 326.1L45.5 345.0"/>
<path class="k3" d="M80.5 257.1L50.8 279.7"/>
<path class="k4" d="M80.5 257.1L50.8 279.7"/>
<path class="k5" d="M79.5 255.7L49.7 278.3"/>
<path class="k3" d="M61.8 285.7L33.5 306.3"/>
<path class="k4" d="M61.8 285.7L33.5 306.3"/>
<path class="k5" d="M60.7 284.3L32.5 304.8"/>
<path class="k3" d="M99.2 259.2L91.2 286.2"/>
<path class="k4" d="M99.2 259.2L91.2 286.2"/>
<path class="k5" d="M97.5 258.7L89.5 285.7"/>
<path class="k3" d="M83.3 275.3L116.4 277.5"/>
<path class="k4" d="M83.3 275.3L116.4 277.5"/>
<path class="k5" d="M83.4 273.5L116.5 275.7"/>
<path class="k3" d="M57.2 287.3L71.4 314.1"/>
<path class="k4" d="M57.2 287.3L71.4 314.1"/>
<path class="k5" d="M55.6 288.1L69.9 314.9"/>
<path class="k3" d="M73.6 338.8L48.8 357.3"/>
<path class="k4" d="M73.6 338.8L48.8 357.3"/>
<path class="k5" d="M72.5 337.4L47.8 355.9"/>
<path class="k3" d="M77.3 274.2L115.9 283.0"/>
<path class="k4" d="M77.3 274.2L115.9 283.0"/>
<path class="k5" d="M77.7 272.5L116.3 281.3"/>
<path class="k3" d="M37.7 294.0L72.4 290.6"/>
<path class="k4" d="M37.7 294.0L72.4 290.6"/>
<path class="k5" d="M37.5 292.2L72.2 288.8"/>
<path class="k3" d="M90.4 324.3L106.5 343.2"/>
<path class="k4" d="M90.4 324.3L106.5 343.2"/>
<path class="k5" d="M89.0 325.4L105.1 344.4"/>
<path class="k3" d="M101.5 301.2L77.7 318.6"/>
<path class="k4" d="M101.5 301.2L77.7 318.6"/>
<path class="k5" d="M100.4 299.7L76.6 317.1"/>
<path class="k3" d="M61.8 318.5L56.2 344.4"/>
<path class="k4" d="M61.8 318.5L56.2 344.4"/>
<path class="k5" d="M60.1 318.2L54.5 344.1"/>
<path class="k3" d="M71.4 264.3L36.6 279.0"/>
<path class="k4" d="M71.4 264.3L36.6 279.0"/>
<path class="k5" d="M70.7 262.7L35.9 277.4"/>
<path class="k3" d="M58.6 294.4L70.5 323.2"/>
<path class="k4" d="M58.6 294.4L70.5 323.2"/>
<path class="k5" d="M56.9 295.1L68.8 323.9"/>
<path class="k0" d="M215.2 240.6L223.9 212.7"/>
<path class="k1" d="M215.2 240.6L223.9 212.7"/>
<path class="k2" d="M213.9 240.2L222.6 212.3"/>
<path class="k0" d="M186.5 187.5L217.5 214.0"/>
<path class="k1" d="M186.5 187.5L217.5 214.0"/>
<path class="k2" d="M187.4 186.5L218.4 212.9"/>
<path class="k0" d="M181.2 249.2L187.2 211.1"/>
<path class="k1" d="M181.2 249.2L187.2 211.1"/>
<path class="k2" d="M179.8 249.0L185.8 210.9"/>
<path class="k0" d="M122.7 187.9L153.4 208.0"/>
<path class="k1" d="M122.7 187.9L153.4 208.0"/>
<path class="k2" d="M123.4 186.8L154.2 206.8"/>
<path class="k0" d="M116.8 190.3L147.6 211.5"/>
<path class="k1" d="M116.8 190.3L147.6 211.5"/>
<path class="k2" d="M117.6 189.2L148.3 210.4"/>
<path class="k0" d="M130.0 224.3L145.9 198.9"/>
<path class="k1" d="M130.0 224.3L145.9 198.9"/>
<path class="k2" d="M128.8 223.6L144.7 198.2"/>
<path class="k0" d="M122.9 256.9L158.5 280.4"/>
<path class="k1" d="M122.9 256.9L158.5 280.4"/>
<path class="k2" d="M123.7 255.8L159.2 279.3"/>
<path class="k0" d="M191.2 224.5L202.5 187.0"/>
<path class="k1" d="M191.2 224.5L202.5 187.0"/>
<path class="k2" d="M189.9 224.1L201.2 186.6"/>
<path class="k0" d="M245.6 239.6L250.5 213.0"/>
<path class="k1" d="M245.6 239.6L250.5 213.0"/>
<path class="k2" d="M244.3 239.3L249.2 212.7"/>
<path class="k0" d="M213.2 220.4L247.6 245.3"/>
<path class="k1" d="M213.2 220.4L247.6 245.3"/>
<path class="k2" d="M214.0 219.3L248.4 244.2"/>
<path class="k0" d="M223.9 226.2L241.2 237.1"/>
<path class="k1" d="M223.9 226.2L241.2 237.1"/>
<path class="k2" d="M224.6 225.0L241.9 235.9"/>
<path class="k0" d="M180.7 209.5L187.2 182.2"/>
<path class="k1" d="M180.7 209.5L187.2 182.2"/>
<path class="k2" d="M179.4 209.1L185.9 181.9"/>
<path class="k0" d="M107.0 213.4L111.1 192.5"/>
<path class="k1" d="M107.0 213.4L111.1 192.5"/>
<path class="k2" d="M105.6 213.1L109.7 192.2"/>
<path class="k0" d="M134.4 181.4L154.2 194.0"/>
<path class="k1" d="M134.4 181.4L154.2 194.0"/>
<path class="k2" d="M135.1 180.3L154.9 192.9"/>
<path class="k0" d="M148.5 264.1L153.1 230.7"/>
<path class="k1" d="M148.5 264.1L153.1 230.7"/>
<path class="k2" d="M147.1 263.9L151.8 230.5"/>
<path class="k0" d="M127.9 283.8L150.7 305.0"/>
<path class="k1" d="M127.9 283.8L150.7 305.0"/>
<path class="k2" d="M128.9 282.8L151.6 304.0"/>
<path class="k0" d="M113.8 187.4L131.4 198.1"/>
<path class="k1" d="M113.8 187.4L131.4 198.1"/>
<path class="k2" d="M114.5 186.2L132.1 196.9"/>
<path class="k0" d="M103.8 236.0L108.9 210.4"/>
<path class="k1" d="M103.8 236.0L108.9 210.4"/>
<path class="k2" d="M102.5 235.7L107.6 210.1"/>
<path class="k0" d="M227.7 256.1L251.0 222.7"/>
<path class="k1" d="M227.7 256.1L251.0 222.7"/>
<path class="k2" d="M226.6 255.3L249.8 221.9"/>
<path class="k0" d="M148.1 279.8L169.2 251.1"/>
<path class="k1" d="M148.1 279.8L169.2 251.1"/>
<path class="k2" d="M147.0 279.0L168.1 250.3"/>
<path class="k0" d="M91.1 208.3L104.9 182.6"/>
<path class="k1" d="M91.1 208.3L104.9 182.6"/>
<path class="k2" d="M89.9 207.7L103.7 181.9"/>
<path class="k0" d="M147.9 266.8L157.8 247.5"/>
<path class="k1" d="M147.9 266.8L157.8 247.5"/>
<path class="k2" d="M146.7 266.2L156.5 246.8"/>
<path class="k0" d="M188.6 268.8L206.3 234.6"/>
<path class="k1" d="M188.6 268.8L206.3 234.6"/>
<path class="k2" d="M187.4 268.2L205.1 233.9"/>
<path class="k0" d="M126.6 282.5L131.7 257.9"/>
<path class="k1" d="M126.6 282.5L131.7 257.9"/>
<path class="k2" d="M125.2 282.2L130.4 257.6"/>
<path class="k0" d="M143.1 210.9L157.3 183.7"/>
<path class="k1" d="M143.1 210.9L157.3 183.7"/>
<path class="k2" d="M141.9 210.3L156.1 183.0"/>
<path class="k0" d="M152.0 236.2L165.6 199.6"/>
<path class="k1" d="M152.0 236.2L165.6 199.6"/>
<path class="k2" d="M150.7 235.7L164.4 199.1"/>
<path class="k0" d="M90.9 192.5L108.5 206.8"/>
<path class="k1" d="M90.9 192.5L108.5 206.8"/>
<path class="k2" d="M91.8 191.4L109.4 205.7"/>
<path class="k0" d="M233.3 222.6L257.2 187.8"/>
<path class="k1" d="M233.3 222.6L257.2 187.8"/>
<path class="k2" d="M232.2 221.9L256.1 187.1"/>
<path class="k0" d="M144.0 281.7L169.6 302.7"/>
<path class="k1" d="M144.0 281.7L169.6 302.7"/>
<path class="k2" d="M144.8 280.6L170.4 301.7"/>
<path class="k0" d="M92.8 271.1L117.3 237.7"/>
<path class="k1" d="M92.8 271.1L117.3 237.7"/>
<path class="k2" d="M91.7 270.3L116.2 236.9"/>
<path class="k0" d="M189.3 251.3L197.9 229.9"/>
<path class="k1" d="M189.3 251.3L197.9 229.9"/>
<path class="k2" d="M188.1 250.8L196.6 229.4"/>
<path class="k0" d="M156.5 248.7L171.2 223.2"/>
<path class="k1" d="M156.5 248.7L171.2 223.2"/>
<path class="k2" d="M155.4 248.0L170.1 222.5"/>
<path class="k0" d="M230.1 258.7L247.1 228.3"/>
<path class="k1" d="M230.1 258.7L247.1 228.3"/>
<path class="k2" d="M229.0 258.0L245.9 227.6"/>
<path class="k0" d="M112.2 247.7L127.7 224.6"/>
<path class="k1" d="M112.2 247.7L127.7 224.6"/>
<path class="k2" d="M111.1 246.9L126.6 223.8"/>
<path class="k0" d="M142.1 272.2L175.1 298.9"/>
<path class="k1" d="M142.1 272.2L175.1 298.9"/>
<path class="k2" d="M143.0 271.1L176.0 297.9"/>
<path class="k0" d="M109.7 212.3L117.6 190.1"/>
<path class="k1" d="M109.7 212.3L117.6 190.1"/>
<path class="k2" d="M108.4 211.8L116.3 189.6"/>
<path class="k0" d="M107.6 199.5L120.8 182.4"/>
<path class="k1" d="M107.6 199.5L120.8 182.4"/>
<path class="k2" d="M106.5 198.6L119.8 181.6"/>
<path class="k0" d="M130.9 287.3L139.6 268.9"/>
<path class="k1" d="M130.9 287.3L139.6 268.9"/>
<path class="k2" d="M129.7 286.7L138.4 268.3"/>
<path class="k0" d="M160.3 249.8L164.6 227.5"/>
<path class="k1" d="M160.3 249.8L164.6 227.5"/>
<path class="k2" d="M159.0 249.5L163.2 227.2"/>
<path class="k0" d="M150.3 264.2L178.8 279.5"/>
<path class="k1" d="M150.3 264.2L178.8 279.5"/>
<path class="k2" d="M150.9 263.0L179.5 278.3"/>
<path class="k0" d="M116.4 229.5L131.8 209.2"/>
<path class="k1" d="M116.4 229.5L131.8 209.2"/>
<path class="k2" d="M115.3 228.7L130.7 208.4"/>
<path class="k0" d="M136.4 249.7L145.8 209.5"/>
<path class="k1" d="M136.4 249.7L145.8 209.5"/>
<path class="k2" d="M135.0 249.3L144.5 209.2"/>
<path class="k0" d="M121.9 271.7L135.0 240.3"/>
<path class="k1" d="M121.9 271.7L135.0 240.3"/>
<path class="k2" d="M120.7 271.2L133.7 239.8"/>
<path class="k0" d="M188.1 198.1L208.3 209.6"/>
<path class="k1" d="M188.1 198.1L208.3 209.6"/>
<path class="k2" d="M188.8 196.9L208.9 208.5"/>
<path class="k0" d="M192.4 228.9L215.0 242.7"/>
<path class="k1" d="M192.4 228.9L215.0 242.7"/>
<path class="k2" d="M193.1 227.8L215.7 241.6"/>
<path class="k0" d="M140.1 275.5L159.2 234.9"/>
<path class="k1" d="M140.1 275.5L159.2 234.9"/>
<path class="k2" d="M138.9 275.0L157.9 234.3"/>
<path class="k0" d="M147.5 226.3L156.8 206.6"/>
<path class="k1" d="M147.5 226.3L156.8 206.6"/>
<path class="k2" d="M146.3 225.8L155.6 206.0"/>
<path class="k0" d="M133.9 239.7L141.3 209.2"/>
<path class="k1" d="M133.9 239.7L141.3 209.2"/>
<path class="k2" d="M132.6 239.4L139.9 208.9"/>
<path class="k0" d="M140.6 258.7L159.4 271.8"/>
<path class="k1" d="M140.6 258.7L159.4 271.8"/>
<path class="k2" d="M141.4 257.6L160.2 270.7"/>
<path class="k0" d="M187.6 223.0L205.8 189.0"/>
<path class="k1" d="M187.6 223.0L205.8 189.0"/>
<path class="k2" d="M186.4 222.3L204.6 188.3"/>
<path class="k0" d="M177.5 225.9L201.3 241.3"/>
<path class="k1" d="M177.5 225.9L201.3 241.3"/>
<path class="k2" d="M178.2 224.8L202.0 240.1"/>
<path class="k0" d="M178.4 276.3L195.2 243.0"/>
<path class="k1" d="M178.4 276.3L195.2 243.0"/>
<path class="k2" d="M177.2 275.7L194.0 242.3"/>
<path class="k0" d="M192.2 223.7L208.5 193.0"/>
<path class="k1" d="M192.2 223.7L208.5 193.0"/>
<path class="k2" d="M191.0 223.1L207.3 192.3"/>
<path class="k0" d="M221.0 244.1L239.7 208.2"/>
<path class="k1" d="M221.0 244.1L239.7 208.2"/>
<path class="k2" d="M219.8 243.5L238.5 207.5"/>
<path class="k0" d="M147.4 242.4L158.0 206.5"/>
<path class="k1" d="M147.4 242.4L158.0 206.5"/>
<path class="k2" d="M146.1 242.0L156.7 206.1"/>
<path class="k0" d="M113.3 255.5L132.3 225.9"/>
<path class="k1" d="M113.3 255.5L132.3 225.9"/>
<path class="k2" d="M112.2 254.8L131.2 225.2"/>
<path class="k0" d="M94.5 253.1L119.1 217.5"/>
<path class="k1" d="M94.5 253.1L119.1 217.5"/>
<path class="k2" d="M93.4 252.4L118.0 216.7"/>
<path class="k0" d="M171.0 260.9L182.0 240.0"/>
<path class="k1" d="M171.0 260.9L182.0 240.0"/>
<path class="k2" d="M169.8 260.2L180.8 239.4"/>
<path class="k0" d="M137.9 260.0L177.0 280.0"/>
<path class="k1" d="M137.9 260.0L177.0 280.0"/>
<path class="k2" d="M138.5 258.8L177.7 278.8"/>
<path class="k0" d="M214.6 222.2L251.5 241.2"/>
<path class="k1" d="M214.6 222.2L251.5 241.2"/>
<path class="k2" d="M215.3 221.0L252.1 240.0"/>
<path class="k0" d="M94.1 242.9L106.3 200.2"/>
<path class="k1" d="M94.1 242.9L106.3 200.2"/>
<path class="k2" d="M92.8 242.5L105.0 199.8"/>
<path class="k0" d="M104.6 223.7L109.4 191.3"/>
<path class="k1" d="M104.6 223.7L109.4 191.3"/>
<path class="k2" d="M103.2 223.5L108.0 191.1"/>
<path class="k0" d="M129.2 265.0L154.7 283.8"/>
<path class="k1" d="M129.2 265.0L154.7 283.8"/>
<path class="k2" d="M130.0 263.9L155.5 282.7"/>
<path class="k0" d="M114.2 183.6L131.4 198.3"/>
<path class="k1" d="M114.2 183.6L131.4 198.3"/>
<path class="k2" d="M115.1 182.6L132.3 197.3"/>
<path class="k0" d="M153.5 267.9L165.1 239.9"/>
<path class="k1" d="M153.5 267.9L165.1 239.9"/>
<path class="k2" d="M152.3 267.4L163.8 239.4"/>
<path class="k0" d="M83.4 185.2L112.9 208.9"/>
<path class="k1" d="M83.4 185.2L112.9 208.9"/>
<path class="k2" d="M84.3 184.2L113.8 207.8"/>
<path class="k0" d="M107.2 234.9L134.2 252.8"/>
<path class="k1" d="M107.2 234.9L134.2 252.8"/>
<path class="k2" d="M108.0 233.8L134.9 251.6"/>
<path class="k0" d="M225.9 237.8L248.9 252.9"/>
<path class="k1" d="M225.9 237.8L248.9 252.9"/>
<path class="k2" d="M226.7 236.7L249.7 251.8"/>
<path class="k0" d="M124.4 257.7L134.9 231.4"/>
<path class="k1" d="M124.4 257.7L134.9 231.4"/>
<path class="k2" d="M123.2 257.2L133.6 230.9"/>
<path class="k0" d="M165.6 274.9L178.5 243.3"/>
<path class="k1" d="M165.6 274.9L178.5 243.3"/>
<path class="k2" d="M164.3 274.4L177.2 242.7"/>
<path class="k0" d="M211.2 208.1L229.1 188.3"/>
<path class="k1" d="M211.2 208.1L229.1 188.3"/>
<path class="k2" d="M210.2 207.2L228.1 187.4"/>
<path class="k0" d="M228.7 92.7L243.2 64.3"/>
<path class="k1" d="M228.7 92.7L243.2 64.3"/>
<path class="k2" d="M227.5 92.1L242.0 63.7"/>
<path class="k0" d="M189.6 126.9L205.1 103.8"/>
<path class="k1" d="M189.6 126.9L205.1 103.8"/>
<path class="k2" d="M188.5 126.1L204.0 103.0"/>
<path class="k0" d="M215.2 79.9L234.8 57.2"/>
<path class="k1" d="M215.2 79.9L234.8 57.2"/>
<path class="k2" d="M214.2 79.0L233.7 56.3"/>
<path class="k0" d="M187.4 106.2L211.6 83.8"/>
<path class="k1" d="M187.4 106.2L211.6 83.8"/>
<path class="k2" d="M186.5 105.2L210.7 82.8"/>
<path class="k0" d="M226.8 190.2L221.8 146.4"/>
<path class="k1" d="M226.8 190.2L221.8 146.4"/>
<path class="k2" d="M225.4 190.4L220.4 146.5"/>
<path class="k0" d="M137.2 160.9L145.0 126.8"/>
<path class="k1" d="M137.2 160.9L145.0 126.8"/>
<path class="k2" d="M135.9 160.6L143.7 126.5"/>
<path class="k0" d="M189.3 88.3L208.8 97.1"/>
<path class="k1" d="M189.3 88.3L208.8 97.1"/>
<path class="k2" d="M189.8 87.1L209.3 95.9"/>
<path class="k0" d="M254.5 116.3L268.3 84.4"/>
<path class="k1" d="M254.5 116.3L268.3 84.4"/>
<path class="k2" d="M253.2 115.7L267.0 83.8"/>
<path class="k0" d="M235.9 122.2L251.2 88.5"/>
<path class="k1" d="M235.9 122.2L251.2 88.5"/>
<path class="k2" d="M234.6 121.6L250.0 87.9"/>
<path class="k0" d="M275.2 109.2L270.8 85.7"/>
<path class="k1" d="M275.2 109.2L270.8 85.7"/>
<path class="k2" d="M273.9 109.4L269.5 85.9"/>
<path class="k0" d="M176.0 104.4L195.3 74.4"/>
<path class="k1" d="M176.0 104.4L195.3 74.4"/>
<path class="k2" d="M174.9 103.7L194.2 73.7"/>
<path class="k0" d="M211.4 207.3L245.3 197.2"/>
<path class="k1" d="M211.4 207.3L245.3 197.2"/>
<path class="k2" d="M211.0 206.0L244.9 195.9"/>
<path class="k0" d="M230.5 73.0L268.0 81.0"/>
<path class="k1" d="M230.5 73.0L268.0 81.0"/>
<path class="k2" d="M230.8 71.7L268.3 79.7"/>
<path class="k0" d="M202.7 169.1L211.2 148.8"/>
<path class="k1" d="M202.7 169.1L211.2 148.8"/>
<path class="k2" d="M201.4 168.6L210.0 148.2"/>
<path class="k0" d="M236.0 79.2L263.3 49.8"/>
<path class="k1" d="M236.0 79.2L263.3 49.8"/>
<path class="k2" d="M235.0 78.3L262.3 48.9"/>
<path class="k0" d="M201.0 202.2L221.4 191.9"/>
<path class="k1" d="M201.0 202.2L221.4 191.9"/>
<path class="k2" d="M200.4 201.0L220.8 190.6"/>
<path class="k0" d="M219.4 76.5L236.0 43.1"/>
<path class="k1" d="M219.4 76.5L236.0 43.1"/>
<path class="k2" d="M218.2 75.9L234.8 42.5"/>
<path class="k0" d="M242.4 73.8L246.5 46.0"/>
<path class="k1" d="M242.4 73.8L246.5 46.0"/>
<path class="k2" d="M241.0 73.6L245.2 45.8"/>
<path class="k0" d="M156.7 220.7L168.1 190.9"/>
<path class="k1" d="M156.7 220.7L168.1 190.9"/>
<path class="k2" d="M155.4 220.2L166.8 190.5"/>
<path class="k0" d="M188.5 172.3L212.3 143.7"/>
<path class="k1" d="M188.5 172.3L212.3 143.7"/>
<path class="k2" d="M187.4 171.4L211.3 142.9"/>
<path class="k0" d="M192.1 194.4L212.0 158.1"/>
<path class="k1" d="M192.1 194.4L212.0 158.1"/>
<path class="k2" d="M190.9 193.7L210.9 157.5"/>
<path class="k0" d="M258.5 107.6L268.9 85.8"/>
<path class="k1" d="M258.5 107.6L268.9 85.8"/>
<path class="k2" d="M257.3 107.0L267.6 85.3"/>
<path class="k0" d="M181.5 137.4L210.4 149.6"/>
<path class="k1" d="M181.5 137.4L210.4 149.6"/>
<path class="k2" d="M182.1 136.1L210.9 148.3"/>
<path class="k0" d="M216.0 116.2L252.4 125.6"/>
<path class="k1" d="M216.0 116.2L252.4 125.6"/>
<path class="k2" d="M216.3 114.9L252.8 124.2"/>
<path class="k0" d="M195.7 66.6L211.2 45.1"/>
<path class="k1" d="M195.7 66.6L211.2 45.1"/>
<path class="k2" d="M194.6 65.8L210.1 44.3"/>
<path class="k0" d="M256.3 160.6L257.5 120.6"/>
<path class="k1" d="M256.3 160.6L257.5 120.6"/>
<path class="k2" d="M254.9 160.6L256.1 120.6"/>
<path class="k0" d="M176.5 99.8L185.0 65.4"/>
<path class="k1" d="M176.5 99.8L185.0 65.4"/>
<path class="k2" d="M175.2 99.4L183.7 65.0"/>
<path class="k0" d="M214.3 205.4L244.7 216.1"/>
<path class="k1" d="M214.3 205.4L244.7 216.1"/>
<path class="k2" d="M214.8 204.2L245.2 214.8"/>
<path class="k0" d="M168.7 185.8L185.4 157.8"/>
<path class="k1" d="M168.7 185.8L185.4 157.8"/>
<path class="k2" d="M167.5 185.1L184.2 157.1"/>
<path class="k0" d="M189.1 77.4L203.5 58.5"/>
<path class="k1" d="M189.1 77.4L203.5 58.5"/>
<path class="k2" d="M188.0 76.6L202.4 57.6"/>
<path class="k0" d="M266.6 69.4L271.2 44.8"/>
<path class="k1" d="M266.6 69.4L271.2 44.8"/>
<path class="k2" d="M265.3 69.1L269.9 44.6"/>
<path class="k0" d="M220.8 158.1L230.4 135.3"/>
<path class="k1" d="M220.8 158.1L230.4 135.3"/>
<path class="k2" d="M219.6 157.6L229.1 134.8"/>
<path class="k0" d="M188.0 112.3L209.9 81.3"/>
<path class="k1" d="M188.0 112.3L209.9 81.3"/>
<path class="k2" d="M186.9 111.5L208.8 80.5"/>
<path class="k0" d="M175.4 192.5L197.7 187.7"/>
<path class="k1" d="M175.4 192.5L197.7 187.7"/>
<path class="k2" d="M175.1 191.2L197.4 186.3"/>
<path class="k0" d="M197.8 83.8L196.7 56.6"/>
<path class="k1" d="M197.8 83.8L196.7 56.6"/>
<path class="k2" d="M196.5 83.8L195.4 56.7"/>
<path class="k0" d="M224.1 98.3L235.3 73.6"/>
<path class="k1" d="M224.1 98.3L235.3 73.6"/>
<path class="k2" d="M222.9 97.8L234.1 73.0"/>
<path class="k0" d="M172.6 146.2L196.2 112.0"/>
<path class="k1" d="M172.6 146.2L196.2 112.0"/>
<path class="k2" d="M171.5 145.4L195.1 111.3"/>
<path class="k0" d="M209.8 160.8L244.2 176.1"/>
<path class="k1" d="M209.8 160.8L244.2 176.1"/>
<path class="k2" d="M210.4 159.6L244.7 174.8"/>
<path class="k0" d="M238.8 173.0L229.7 130.5"/>
<path class="k1" d="M238.8 173.0L229.7 130.5"/>
<path class="k2" d="M237.5 173.2L228.4 130.8"/>
<path class="k0" d="M193.3 195.7L202.7 159.8"/>
<path class="k1" d="M193.3 195.7L202.7 159.8"/>
<path class="k2" d="M192.0 195.4L201.4 159.5"/>
<path class="k0" d="M179.2 83.6L211.4 72.0"/>
<path class="k1" d="M179.2 83.6L211.4 72.0"/>
<path class="k2" d="M178.8 82.4L210.9 70.7"/>
<path class="k0" d="M174.7 75.5L216.9 85.8"/>
<path class="k1" d="M174.7 75.5L216.9 85.8"/>
<path class="k2" d="M175.0 74.1L217.3 84.5"/>
<path class="k0" d="M238.9 68.4L251.4 36.7"/>
<path class="k1" d="M238.9 68.4L251.4 36.7"/>
<path class="k2" d="M237.6 67.9L250.2 36.2"/>
<path class="k0" d="M178.9 207.6L200.0 177.7"/>
<path class="k1" d="M178.9 207.6L200.0 177.7"/>
<path class="k2" d="M177.8 206.8L198.9 176.9"/>
<path class="k0" d="M148.4 192.4L177.3 203.3"/>
<path class="k1" d="M148.4 192.4L177.3 203.3"/>
<path class="k2" d="M148.9 191.1L177.8 202.0"/>
<path class="k0" d="M233.7 61.2L263.7 48.9"/>
<path class="k1" d="M233.7 61.2L263.7 48.9"/>
<path class="k2" d="M233.2 60.0L263.2 47.6"/>
<path class="k0" d="M164.6 173.6L178.6 153.1"/>
<path class="k1" d="M164.6 173.6L178.6 153.1"/>
<path class="k2" d="M163.5 172.9L177.5 152.4"/>
<path class="k0" d="M230.3 40.2L271.6 50.1"/>
<path class="k1" d="M230.3 40.2L271.6 50.1"/>
<path class="k2" d="M230.6 38.9L271.9 48.8"/>
<path class="k0" d="M180.2 100.6L181.8 56.2"/>
<path class="k1" d="M180.2 100.6L181.8 56.2"/>
<path class="k2" d="M178.8 100.5L180.4 56.2"/>
<path class="k0" d="M222.0 153.8L247.0 166.2"/>
<path class="k1" d="M222.0 153.8L247.0 166.2"/>
<path class="k2" d="M222.6 152.6L247.6 165.0"/>
<path class="k0" d="M163.2 184.2L171.1 165.0"/>
<path class="k1" d="M163.2 184.2L171.1 165.0"/>
<path class="k2" d="M161.9 183.7L169.8 164.5"/>
<path class="k0" d="M152.6 202.7L163.2 181.5"/>
<path class="k1" d="M152.6 202.7L163.2 181.5"/>
<path class="k2" d="M151.3 202.1L162.0 180.9"/>
<path class="k0" d="M153.1 138.3L186.6 153.4"/>
<path class="k1" d="M153.1 138.3L186.6 153.4"/>
<path class="k2" d="M153.6 137.0L187.1 152.1"/>
<path class="k0" d="M282.6 88.4L304.0 67.2"/>
<path class="k1" d="M282.6 88.4L304.0 67.2"/>
<path class="k2" d="M281.6 87.5L303.1 66.3"/>
<path class="k0" d="M186.3 111.4L201.0 89.9"/>
<path class="k1" d="M186.3 111.4L201.0 89.9"/>
<path class="k2" d="M185.2 110.7L199.9 89.2"/>
<path class="k0" d="M256.9 144.1L254.4 118.3"/>
<path class="k1" d="M256.9 144.1L254.4 118.3"/>
<path class="k2" d="M255.6 144.2L253.0 118.5"/>
<path class="k0" d="M278.3 86.1L283.9 55.4"/>
<path class="k1" d="M278.3 86.1L283.9 55.4"/>
<path class="k2" d="M276.9 85.9L282.6 55.1"/>
<path class="k0" d="M171.9 218.6L178.8 182.9"/>
<path class="k1" d="M171.9 218.6L178.8 182.9"/>
<path class="k2" d="M170.6 218.4L177.4 182.7"/>
<path class="k0" d="M182.3 141.7L181.0 121.2"/>
<path class="k1" d="M182.3 141.7L181.0 121.2"/>
<path class="k2" d="M181.0 141.8L179.6 121.3"/>
<path class="k0" d="M171.5 45.8L208.0 57.2"/>
<path class="k1" d="M171.5 45.8L208.0 57.2"/>
<path class="k2" d="M171.9 44.5L208.4 55.9"/>
<path class="k0" d="M229.8 174.0L265.9 182.6"/>
<path class="k1" d="M229.8 174.0L265.9 182.6"/>
<path class="k2" d="M230.1 172.7L266.2 181.3"/>
<path class="k0" d="M210.6 137.3L230.6 97.3"/>
<path class="k1" d="M210.6 137.3L230.6 97.3"/>
<path class="k2" d="M209.3 136.7L229.4 96.7"/>
<path class="k0" d="M190.6 114.4L208.0 90.4"/>
<path class="k1" d="M190.6 114.4L208.0 90.4"/>
<path class="k2" d="M189.5 113.6L206.9 89.6"/>
<path class="k0" d="M157.4 197.6L166.0 158.8"/>
<path class="k1" d="M157.4 197.6L166.0 158.8"/>
<path class="k2" d="M156.1 197.3L164.6 158.5"/>
<path class="k0" d="M191.1 85.3L210.4 95.2"/>
<path class="k1" d="M191.1 85.3L210.4 95.2"/>
<path class="k2" d="M191.7 84.1L211.0 94.0"/>
<path class="k0" d="M160.2 139.5L170.9 113.0"/>
<path class="k1" d="M160.2 139.5L170.9 113.0"/>
<path class="k2" d="M159.0 139.0L169.6 112.5"/>
<path class="k0" d="M279.2 68.9L298.6 60.7"/>
<path class="k1" d="M279.2 68.9L298.6 60.7"/>
<path class="k2" d="M278.7 67.7L298.1 59.5"/>
<path class="k0" d="M171.1 180.6L184.8 145.0"/>
<path class="k1" d="M171.1 180.6L184.8 145.0"/>
<path class="k2" d="M169.8 180.1L183.6 144.5"/>
<path class="k0" d="M203.4 81.5L195.7 40.5"/>
<path class="k1" d="M203.4 81.5L195.7 40.5"/>
<path class="k2" d="M202.1 81.8L194.4 40.8"/>
<path class="k0" d="M250.2 72.9L246.2 50.2"/>
<path class="k1" d="M250.2 72.9L246.2 50.2"/>
<path class="k2" d="M248.9 73.1L244.9 50.4"/>
<path class="k0" d="M205.4 128.0L243.2 141.1"/>
<path class="k1" d="M205.4 128.0L243.2 141.1"/>
<path class="k2" d="M205.8 126.7L243.7 139.8"/>
<path class="k0" d="M171.9 60.7L191.9 51.6"/>
<path class="k1" d="M171.9 60.7L191.9 51.6"/>
<path class="k2" d="M171.4 59.4L191.3 50.4"/>
<path class="k0" d="M178.2 177.2L200.8 169.0"/>
<path class="k1" d="M178.2 177.2L200.8 169.0"/>
<path class="k2" d="M177.8 175.9L200.3 167.7"/>
<path class="k0" d="M194.8 160.6L190.9 118.4"/>
<path class="k1" d="M194.8 160.6L190.9 118.4"/>
<path class="k2" d="M193.5 160.7L189.6 118.5"/>
<path class="k0" d="M227.8 110.9L243.5 91.7"/>
<path class="k1" d="M227.8 110.9L243.5 91.7"/>
<path class="k2" d="M226.7 110.0L242.4 90.9"/>
<path class="k0" d="M135.1 183.7L152.7 163.2"/>
<path class="k1" d="M135.1 183.7L152.7 163.2"/>
<path class="k2" d="M134.1 182.8L151.7 162.3"/>
<path class="k0" d="M185.9 87.7L203.6 50.5"/>
<path class="k1" d="M185.9 87.7L203.6 50.5"/>
<path class="k2" d="M184.7 87.1L202.3 49.9"/>
<path class="k0" d="M230.6 174.3L229.2 146.4"/>
<path class="k1" d="M230.6 174.3L229.2 146.4"/>
<path class="k2" d="M229.3 174.4L227.8 146.5"/>
<path class="k0" d="M182.8 189.0L211.3 200.4"/>
<path class="k1" d="M182.8 189.0L211.3 200.4"/>
<path class="k2" d="M183.3 187.7L211.8 199.1"/>
<path class="k0" d="M221.2 102.5L246.6 67.3"/>
<path class="k1" d="M221.2 102.5L246.6 67.3"/>
<path class="k2" d="M220.1 101.7L245.5 66.5"/>
<path class="k0" d="M166.3 150.7L165.7 107.4"/>
<path class="k1" d="M166.3 150.7L165.7 107.4"/>
<path class="k2" d="M164.9 150.7L164.4 107.4"/>
<path class="k0" d="M177.8 155.1L202.5 119.1"/>
<path class="k1" d="M177.8 155.1L202.5 119.1"/>
<path class="k2" d="M176.7 154.3L201.4 118.3"/>
<path class="k0" d="M171.3 64.5L199.6 49.5"/>
<path class="k1" d="M171.3 64.5L199.6 49.5"/>
<path class="k2" d="M170.7 63.3L198.9 48.3"/>
<path class="k0" d="M140.8 163.3L175.1 177.5"/>
<path class="k1" d="M140.8 163.3L175.1 177.5"/>
<path class="k2" d="M141.3 162.1L175.6 176.2"/>
<path class="k0" d="M234.3 123.6L257.8 96.7"/>
<path class="k1" d="M234.3 123.6L257.8 96.7"/>
<path class="k2" d="M233.2 122.7L256.8 95.8"/>
<path class="k0" d="M206.7 63.7L221.2 47.8"/>
<path class="k1" d="M206.7 63.7L221.2 47.8"/>
<path class="k2" d="M205.7 62.8L220.2 46.8"/>
<path class="k0" d="M226.2 61.7L226.1 35.9"/>
<path class="k1" d="M226.2 61.7L226.1 35.9"/>
<path class="k2" d="M224.8 61.7L224.8 35.9"/>
<path class="k0" d="M166.7 194.6L194.8 201.4"/>
<path class="k1" d="M166.7 194.6L194.8 201.4"/>
<path class="k2" d="M167.1 193.3L195.1 200.1"/>
<path class="k0" d="M277.4 82.8L277.6 50.2"/>
<path class="k1" d="M277.4 82.8L277.6 50.2"/>
<path class="k2" d="M276.0 82.8L276.3 50.2"/>
<path class="k0" d="M190.0 89.2L199.6 59.6"/>
<path class="k1" d="M190.0 89.2L199.6 59.6"/>
<path class="k2" d="M188.7 88.8L198.3 59.2"/>
<path class="k0" d="M181.6 175.9L194.0 137.9"/>
<path class="k1" d="M181.6 175.9L194.0 137.9"/>
<path class="k2" d="M180.4 175.5L192.7 137.5"/>
<path class="k0" d="M251.4 197.4L256.3 165.9"/>
<path class="k1" d="M251.4 197.4L256.3 165.9"/>
<path class="k2" d="M250.1 197.2L255.0 165.7"/>
<path class="k0" d="M243.8 62.6L264.8 32.9"/>
<path class="k1" d="M243.8 62.6L264.8 32.9"/>
<path class="k2" d="M242.7 61.8L263.7 32.1"/>
<path class="k0" d="M194.3 157.7L236.4 147.7"/>
<path class="k1" d="M194.3 157.7L236.4 147.7"/>
<path class="k2" d="M194.0 156.4L236.1 146.4"/>
<path class="k0" d="M231.1 57.0L255.0 45.6"/>
<path class="k1" d="M231.1 57.0L255.0 45.6"/>
<path class="k2" d="M230.5 55.8L254.5 44.4"/>
<path class="k0" d="M189.3 126.6L182.8 89.8"/>
<path class="k1" d="M189.3 126.6L182.8 89.8"/>
<path class="k2" d="M188.0 126.9L181.5 90.1"/>
<path class="k0" d="M224.9 66.5L254.4 57.3"/>
<path class="k1" d="M224.9 66.5L254.4 57.3"/>
<path class="k2" d="M224.5 65.2L254.0 56.0"/>
<path class="k0" d="M194.6 128.1L215.8 90.0"/>
<path class="k1" d="M194.6 128.1L215.8 90.0"/>
<path class="k2" d="M193.4 127.4L214.6 89.3"/>
<path class="k0" d="M235.1 133.7L249.5 118.5"/>
<path class="k1" d="M235.1 133.7L249.5 118.5"/>
<path class="k2" d="M234.1 132.8L248.5 117.5"/>
<path class="k0" d="M278.1 144.9L284.7 110.1"/>
<path class="k1" d="M278.1 144.9L284.7 110.1"/>
<path class="k2" d="M276.7 144.7L283.3 109.8"/>
<path class="k0" d="M192.6 129.3L225.4 114.0"/>
<path class="k1" d="M192.6 129.3L225.4 114.0"/>
<path class="k2" d="M192.0 128.1L224.8 112.8"/>
<path class="k0" d="M251.2 215.5L248.4 194.3"/>
<path class="k1" d="M251.2 215.5L248.4 194.3"/>
<path class="k2" d="M249.9 215.7L247.0 194.5"/>
<path class="k0" d="M223.0 103.1L242.8 82.9"/>
<path class="k1" d="M223.0 103.1L242.8 82.9"/>
<path class="k2" d="M222.0 102.2L241.8 81.9"/>
<path class="k0" d="M178.6 140.8L190.8 122.1"/>
<path class="k1" d="M178.6 140.8L190.8 122.1"/>
<path class="k2" d="M177.4 140.1L189.7 121.3"/>
<path class="k0" d="M240.0 53.4L265.6 44.2"/>
<path class="k1" d="M240.0 53.4L265.6 44.2"/>
<path class="k2" d="M239.5 52.1L265.2 43.0"/>
<path class="k0" d="M212.5 123.8L206.4 95.6"/>
<path class="k1" d="M212.5 123.8L206.4 95.6"/>
<path class="k2" d="M211.2 124.1L205.1 95.9"/>
<path class="k0" d="M212.3 210.3L236.3 201.8"/>
<path class="k1" d="M212.3 210.3L236.3 201.8"/>
<path class="k2" d="M211.9 209.0L235.8 200.5"/>
<path class="k0" d="M275.0 68.3L298.3 39.4"/>
<path class="k1" d="M275.0 68.3L298.3 39.4"/>
<path class="k2" d="M273.9 67.4L297.3 38.5"/>
<path class="k0" d="M246.2 140.9L277.8 133.4"/>
<path class="k1" d="M246.2 140.9L277.8 133.4"/>
<path class="k2" d="M245.9 139.5L277.5 132.1"/>
<path class="k0" d="M199.5 60.2L214.8 24.1"/>
<path class="k1" d="M199.5 60.2L214.8 24.1"/>
<path class="k2" d="M198.2 59.6L213.6 23.6"/>
<path class="k0" d="M207.7 94.6L248.8 80.8"/>
<path class="k1" d="M207.7 94.6L248.8 80.8"/>
<path class="k2" d="M207.2 93.3L248.3 79.5"/>
<path class="k0" d="M174.7 192.9L191.1 166.1"/>
<path class="k1" d="M174.7 192.9L191.1 166.1"/>
<path class="k2" d="M173.6 192.2L189.9 165.4"/>
<path class="k0" d="M201.6 69.4L216.8 47.9"/>
<path class="k1" d="M201.6 69.4L216.8 47.9"/>
<path class="k2" d="M200.5 68.6L215.6 47.1"/>
<path class="k0" d="M225.7 207.2L251.1 176.8"/>
<path class="k1" d="M225.7 207.2L251.1 176.8"/>
<path class="k2" d="M224.6 206.3L250.1 175.9"/>
<path class="k0" d="M173.7 199.4L184.6 165.8"/>
<path class="k1" d="M173.7 199.4L184.6 165.8"/>
<path class="k2" d="M172.4 199.0L183.3 165.3"/>
<path class="k0" d="M144.2 181.2L150.7 147.5"/>
<path class="k1" d="M144.2 181.2L150.7 147.5"/>
<path class="k2" d="M142.8 180.9L149.3 147.3"/>
<path class="k0" d="M189.7 112.9L219.2 101.2"/>
<path class="k1" d="M189.7 112.9L219.2 101.2"/>
<path class="k2" d="M189.2 111.7L218.6 99.9"/>
<path class="k0" d="M140.6 212.9L173.2 200.9"/>
<path class="k1" d="M140.6 212.9L173.2 200.9"/>
<path class="k2" d="M140.1 211.6L172.7 199.6"/>
<path class="k0" d="M186.1 221.4L194.9 202.9"/>
<path class="k1" d="M186.1 221.4L194.9 202.9"/>
<path class="k2" d="M184.9 220.8L193.7 202.3"/>
<path class="k0" d="M228.5 188.9L236.2 149.8"/>
<path class="k1" d="M228.5 188.9L236.2 149.8"/>
<path class="k2" d="M227.1 188.6L234.8 149.6"/>
<path class="k0" d="M253.8 131.0L252.8 105.9"/>
<path class="k1" d="M253.8 131.0L252.8 105.9"/>
<path class="k2" d="M252.5 131.1L251.4 106.0"/>
<path class="k0" d="M203.5 89.3L215.8 64.6"/>
<path class="k1" d="M203.5 89.3L215.8 64.6"/>
<path class="k2" d="M202.2 88.7L214.6 64.0"/>
<path class="k0" d="M252.3 132.2L274.9 107.1"/>
<path class="k1" d="M252.3 132.2L274.9 107.1"/>
<path class="k2" d="M251.3 131.3L273.9 106.2"/>
<path class="k0" d="M227.9 149.4L263.0 167.8"/>
<path class="k1" d="M227.9 149.4L263.0 167.8"/>
<path class="k2" d="M228.6 148.2L263.7 166.6"/>
<path class="k0" d="M192.5 162.8L215.9 152.1"/>
<path class="k1" d="M192.5 162.8L215.9 152.1"/>
<path class="k2" d="M192.0 161.5L215.4 150.9"/>
<path class="k0" d="M224.8 149.1L248.5 140.2"/>
<path class="k1" d="M224.8 149.1L248.5 140.2"/>
<path class="k2" d="M224.3 147.9L248.0 138.9"/>
<path class="k0" d="M177.1 164.7L198.4 125.6"/>
<path class="k1" d="M177.1 164.7L198.4 125.6"/>
<path class="k2" d="M175.9 164.0L197.2 124.9"/>
<path class="k0" d="M186.8 176.5L202.6 152.6"/>
<path class="k1" d="M186.8 176.5L202.6 152.6"/>
<path class="k2" d="M185.7 175.7L201.4 151.9"/>
<path class="k0" d="M199.6 68.0L217.0 43.6"/>
<path class="k1" d="M199.6 68.0L217.0 43.6"/>
<path class="k2" d="M198.4 67.2L215.9 42.8"/>
<path class="k0" d="M248.6 58.8L207.3 81.9"/>
<path class="k1" d="M248.6 58.8L207.3 81.9"/>
<path class="k2" d="M247.9 57.6L206.6 80.7"/>
<path class="k0" d="M207.3 81.9L193.3 89.1"/>
<path class="k1" d="M207.3 81.9L193.3 89.1"/>
<path class="k2" d="M206.7 80.7L192.7 87.9"/>
<path class="k0" d="M244.8 65.7L204.0 83.7"/>
<path class="k1" d="M244.8 65.7L204.0 83.7"/>
<path class="k2" d="M244.2 64.4L203.5 82.5"/>
<path class="k0" d="M204.0 83.7L189.5 93.9"/>
<path class="k1" d="M204.0 83.7L189.5 93.9"/>
<path class="k2" d="M203.3 82.6L188.8 92.8"/>
<path class="k0" d="M241.9 68.0L202.7 87.8"/>
<path class="k1" d="M241.9 68.0L202.7 87.8"/>
<path class="k2" d="M241.3 66.8L202.0 86.6"/>
<path class="k0" d="M202.7 87.8L190.2 95.0"/>
<path class="k1" d="M202.7 87.8L190.2 95.0"/>
<path class="k2" d="M202.0 86.6L189.5 93.8"/>
<path class="k0" d="M243.5 61.9L204.0 84.8"/>
<path class="k1" d="M243.5 61.9L204.0 84.8"/>
<path class="k2" d="M242.8 60.7L203.4 83.6"/>
<path class="k0" d="M204.0 84.8L189.2 91.4"/>
<path class="k1" d="M204.0 84.8L189.2 91.4"/>
<path class="k2" d="M203.5 83.6L188.6 90.1"/>
<path class="k0" d="M244.0 62.8L205.3 82.5"/>
<path class="k1" d="M244.0 62.8L205.3 82.5"/>
<path class="k2" d="M243.4 61.6L204.7 81.3"/>
<path class="k0" d="M205.3 82.5L192.4 91.6"/>
<path class="k1" d="M205.3 82.5L192.4 91.6"/>
<path class="k2" d="M204.5 81.4L191.6 90.5"/>
<path class="k0" d="M247.7 60.1L205.8 82.6"/>
<path class="k1" d="M247.7 60.1L205.8 82.6"/>
<path class="k2" d="M247.0 58.9L205.2 81.4"/>
<path class="k0" d="M205.8 82.6L192.4 92.1"/>
<path class="k1" d="M205.8 82.6L192.4 92.1"/>
<path class="k2" d="M205.0 81.5L191.6 91.0"/>
<path class="k0" d="M241.5 61.3L200.1 80.7"/>
<path class="k1" d="M241.5 61.3L200.1 80.7"/>
<path class="k2" d="M240.9 60.1L199.6 79.5"/>
<path class="k0" d="M200.1 80.7L187.7 88.8"/>
<path class="k1" d="M200.1 80.7L187.7 88.8"/>
<path class="k2" d="M199.4 79.5L186.9 87.6"/>
<path class="k0" d="M203.2 85.0L197.2 127.5"/>
<path class="k1" d="M203.2 85.0L197.2 127.5"/>
<path class="k2" d="M201.9 84.8L195.9 127.3"/>
<path class="k0" d="M197.2 127.5L207.8 143.2"/>
<path class="k1" d="M197.2 127.5L207.8 143.2"/>
<path class="k2" d="M196.1 128.2L206.7 143.9"/>
<path class="k0" d="M204.9 81.9L200.0 125.4"/>
<path class="k1" d="M204.9 81.9L200.0 125.4"/>
<path class="k2" d="M203.5 81.7L198.7 125.2"/>
<path class="k0" d="M200.0 125.4L214.4 136.0"/>
<path class="k1" d="M200.0 125.4L214.4 136.0"/>
<path class="k2" d="M200.8 124.3L215.2 134.9"/>
<path class="k0" d="M204.0 86.1L200.5 127.5"/>
<path class="k1" d="M204.0 86.1L200.5 127.5"/>
<path class="k2" d="M202.6 86.0L199.1 127.4"/>
<path class="k0" d="M200.5 127.5L211.9 140.4"/>
<path class="k1" d="M200.5 127.5L211.9 140.4"/>
<path class="k2" d="M199.5 128.4L210.9 141.3"/>
<path class="k0" d="M205.9 85.5L201.4 125.5"/>
<path class="k1" d="M205.9 85.5L201.4 125.5"/>
<path class="k2" d="M204.6 85.4L200.0 125.3"/>
<path class="k0" d="M201.4 125.5L214.0 138.2"/>
<path class="k1" d="M201.4 125.5L214.0 138.2"/>
<path class="k2" d="M200.4 126.4L213.0 139.1"/>
<path class="k0" d="M206.5 81.5L205.0 126.4"/>
<path class="k1" d="M206.5 81.5L205.0 126.4"/>
<path class="k2" d="M205.1 81.4L203.7 126.3"/>
<path class="k0" d="M205.0 126.4L215.4 136.4"/>
<path class="k1" d="M205.0 126.4L215.4 136.4"/>
<path class="k2" d="M206.0 125.4L216.4 135.4"/>
<path class="k0" d="M200.7 86.2L200.3 126.6"/>
<path class="k1" d="M200.7 86.2L200.3 126.6"/>
<path class="k2" d="M199.3 86.2L199.0 126.5"/>
<path class="k0" d="M200.3 126.6L209.3 139.6"/>
<path class="k1" d="M200.3 126.6L209.3 139.6"/>
<path class="k2" d="M199.2 127.3L208.2 140.3"/>
<path class="k0" d="M205.5 77.6L203.1 122.5"/>
<path class="k1" d="M205.5 77.6L203.1 122.5"/>
<path class="k2" d="M204.2 77.6L201.8 122.5"/>
<path class="k0" d="M203.1 122.5L213.1 133.8"/>
<path class="k1" d="M203.1 122.5L213.1 133.8"/>
<path class="k2" d="M202.1 123.5L212.1 134.7"/>
<path class="k0" d="M221.3 77.2L210.8 133.1"/>
<path class="k1" d="M221.3 77.2L210.8 133.1"/>
<path class="k2" d="M220.0 77.0L209.5 132.8"/>
<path class="k0" d="M220.6 72.9L208.9 132.8"/>
<path class="k1" d="M220.6 72.9L208.9 132.8"/>
<path class="k2" d="M219.3 72.6L207.6 132.6"/>
<path class="k0" d="M224.4 75.7L214.8 134.0"/>
<path class="k1" d="M224.4 75.7L214.8 134.0"/>
<path class="k2" d="M223.1 75.5L213.5 133.8"/>
<path class="k0" d="M221.0 75.0L209.9 133.2"/>
<path class="k1" d="M221.0 75.0L209.9 133.2"/>
<path class="k2" d="M219.7 74.8L208.6 133.0"/>
<path class="k0" d="M222.2 77.5L213.6 134.2"/>
<path class="k1" d="M222.2 77.5L213.6 134.2"/>
<path class="k2" d="M220.8 77.3L212.3 134.0"/>
<path class="k0" d="M222.5 81.6L212.1 139.9"/>
<path class="k1" d="M222.5 81.6L212.1 139.9"/>
<path class="k2" d="M221.2 81.3L210.8 139.6"/>
<path class="k0" d="M222.6 77.3L212.9 135.4"/>
<path class="k1" d="M222.6 77.3L212.9 135.4"/>
<path class="k2" d="M221.2 77.1L211.5 135.2"/>
<path class="k0" d="M247.8 74.2L239.4 122.5"/>
<path class="k1" d="M247.8 74.2L239.4 122.5"/>
<path class="k2" d="M246.5 74.0L238.0 122.3"/>
<path class="k0" d="M239.4 122.5L231.4 142.5"/>
<path class="k1" d="M239.4 122.5L231.4 142.5"/>
<path class="k2" d="M238.1 122.0L230.1 142.0"/>
<path class="k0" d="M231.4 142.5L226.7 157.5"/>
<path class="k1" d="M231.4 142.5L226.7 157.5"/>
<path class="k2" d="M230.1 142.1L225.4 157.0"/>
<path class="k0" d="M244.9 76.7L239.3 124.9"/>
<path class="k1" d="M244.9 76.7L239.3 124.9"/>
<path class="k2" d="M243.5 76.5L237.9 124.8"/>
<path class="k0" d="M239.3 124.9L230.3 141.5"/>
<path class="k1" d="M239.3 124.9L230.3 141.5"/>
<path class="k2" d="M238.1 124.3L229.2 140.9"/>
<path class="k0" d="M230.3 141.5L223.7 160.5"/>
<path class="k1" d="M230.3 141.5L223.7 160.5"/>
<path class="k2" d="M229.1 141.1L222.5 160.0"/>
<path class="k0" d="M251.3 74.6L243.9 126.2"/>
<path class="k1" d="M251.3 74.6L243.9 126.2"/>
<path class="k2" d="M249.9 74.4L242.6 126.0"/>
<path class="k0" d="M243.9 126.2L237.1 142.4"/>
<path class="k1" d="M243.9 126.2L237.1 142.4"/>
<path class="k2" d="M242.7 125.7L235.9 141.9"/>
<path class="k0" d="M237.1 142.4L229.2 160.8"/>
<path class="k1" d="M237.1 142.4L229.2 160.8"/>
<path class="k2" d="M235.9 141.9L227.9 160.2"/>
<path class="k0" d="M244.4 78.9L239.2 123.5"/>
<path class="k1" d="M244.4 78.9L239.2 123.5"/>
<path class="k2" d="M243.1 78.7L237.8 123.4"/>
<path class="k0" d="M239.2 123.5L232.7 143.5"/>
<path class="k1" d="M239.2 123.5L232.7 143.5"/>
<path class="k2" d="M237.9 123.1L231.4 143.1"/>
<path class="k0" d="M232.7 143.5L224.6 160.2"/>
<path class="k1" d="M232.7 143.5L224.6 160.2"/>
<path class="k2" d="M231.5 142.9L223.4 159.6"/>
<path class="k0" d="M250.6 72.9L244.8 119.2"/>
<path class="k1" d="M250.6 72.9L244.8 119.2"/>
<path class="k2" d="M249.2 72.7L243.5 119.0"/>
<path class="k0" d="M244.8 119.2L236.4 140.1"/>
<path class="k1" d="M244.8 119.2L236.4 140.1"/>
<path class="k2" d="M243.6 118.7L235.1 139.6"/>
<path class="k0" d="M236.4 140.1L230.2 154.4"/>
<path class="k1" d="M236.4 140.1L230.2 154.4"/>
<path class="k2" d="M235.1 139.5L229.0 153.8"/>
<path class="k0" d="M244.9 73.7L241.1 119.4"/>
<path class="k1" d="M244.9 73.7L241.1 119.4"/>
<path class="k2" d="M243.6 73.5L239.7 119.3"/>
<path class="k0" d="M241.1 119.4L231.5 140.0"/>
<path class="k1" d="M241.1 119.4L231.5 140.0"/>
<path class="k2" d="M239.9 118.8L230.2 139.4"/>
<path class="k0" d="M231.5 140.0L224.4 154.6"/>
<path class="k1" d="M231.5 140.0L224.4 154.6"/>
<path class="k2" d="M230.2 139.4L223.2 154.1"/>
<path class="k0" d="M249.9 71.9L241.5 120.2"/>
<path class="k1" d="M249.9 71.9L241.5 120.2"/>
<path class="k2" d="M248.6 71.7L240.2 120.0"/>
<path class="k0" d="M241.5 120.2L234.1 138.9"/>
<path class="k1" d="M241.5 120.2L234.1 138.9"/>
<path class="k2" d="M240.2 119.7L232.9 138.4"/>
<path class="k0" d="M234.1 138.9L229.0 155.7"/>
<path class="k1" d="M234.1 138.9L229.0 155.7"/>
<path class="k2" d="M232.8 138.5L227.7 155.3"/>
<path class="k0" d="M256.6 64.8L261.3 120.4"/>
<path class="k1" d="M256.6 64.8L261.3 120.4"/>
<path class="k2" d="M255.3 64.9L259.9 120.5"/>
<path class="k0" d="M261.3 120.4L245.1 137.2"/>
<path class="k1" d="M261.3 120.4L245.1 137.2"/>
<path class="k2" d="M260.3 119.5L244.1 136.2"/>
<path class="k0" d="M245.1 137.2L241.3 152.6"/>
<path class="k1" d="M245.1 137.2L241.3 152.6"/>
<path class="k2" d="M243.8 136.8L240.0 152.2"/>
<path class="k0" d="M255.8 73.2L264.5 130.4"/>
<path class="k1" d="M255.8 73.2L264.5 130.4"/>
<path class="k2" d="M254.5 73.4L263.2 130.6"/>
<path class="k0" d="M264.5 130.4L246.2 143.9"/>
<path class="k1" d="M264.5 130.4L246.2 143.9"/>
<path class="k2" d="M263.7 129.3L245.4 142.8"/>
<path class="k0" d="M246.2 143.9L240.6 160.9"/>
<path class="k1" d="M246.2 143.9L240.6 160.9"/>
<path class="k2" d="M245.0 143.4L239.3 160.5"/>
<path class="k0" d="M255.8 71.7L265.9 126.7"/>
<path class="k1" d="M255.8 71.7L265.9 126.7"/>
<path class="k2" d="M254.4 71.9L264.6 126.9"/>
<path class="k0" d="M265.9 126.7L247.1 144.4"/>
<path class="k1" d="M265.9 126.7L247.1 144.4"/>
<path class="k2" d="M265.0 125.7L246.2 143.4"/>
<path class="k0" d="M247.1 144.4L241.7 157.0"/>
<path class="k1" d="M247.1 144.4L241.7 157.0"/>
<path class="k2" d="M245.9 143.9L240.5 156.4"/>
<path class="k0" d="M255.7 69.3L264.3 125.8"/>
<path class="k1" d="M255.7 69.3L264.3 125.8"/>
<path class="k2" d="M254.3 69.5L262.9 126.0"/>
<path class="k0" d="M264.3 125.8L248.2 139.4"/>
<path class="k1" d="M264.3 125.8L248.2 139.4"/>
<path class="k2" d="M263.4 124.8L247.3 138.4"/>
<path class="k0" d="M248.2 139.4L240.0 155.8"/>
<path class="k1" d="M248.2 139.4L240.0 155.8"/>
<path class="k2" d="M247.0 138.8L238.8 155.2"/>
<path class="k0" d="M258.9 66.0L266.1 120.7"/>
<path class="k1" d="M258.9 66.0L266.1 120.7"/>
<path class="k2" d="M257.6 66.2L264.7 120.8"/>
<path class="k0" d="M266.1 120.7L248.1 139.4"/>
<path class="k1" d="M266.1 120.7L248.1 139.4"/>
<path class="k2" d="M265.1 119.7L247.1 138.5"/>
<path class="k0" d="M248.1 139.4L242.4 152.8"/>
<path class="k1" d="M248.1 139.4L242.4 152.8"/>
<path class="k2" d="M246.8 138.9L241.2 152.3"/>
<path class="k0" d="M257.8 69.5L263.2 126.7"/>
<path class="k1" d="M257.8 69.5L263.2 126.7"/>
<path class="k2" d="M256.5 69.6L261.8 126.9"/>
<path class="k0" d="M263.2 126.7L248.2 142.0"/>
<path class="k1" d="M263.2 126.7L248.2 142.0"/>
<path class="k2" d="M262.2 125.8L247.3 141.0"/>
<path class="k0" d="M248.2 142.0L239.1 156.5"/>
<path class="k1" d="M248.2 142.0L239.1 156.5"/>
<path class="k2" d="M247.1 141.3L238.0 155.8"/>
<path class="k0" d="M262.3 64.8L266.6 122.5"/>
<path class="k1" d="M262.3 64.8L266.6 122.5"/>
<path class="k2" d="M260.9 64.9L265.2 122.6"/>
<path class="k0" d="M266.6 122.5L253.2 138.1"/>
<path class="k1" d="M266.6 122.5L253.2 138.1"/>
<path class="k2" d="M265.5 121.6L252.1 137.2"/>
<path class="k0" d="M253.2 138.1L245.8 154.7"/>
<path class="k1" d="M253.2 138.1L245.8 154.7"/>
<path class="k2" d="M251.9 137.5L244.5 154.1"/>
<path class="k0" d="M283.1 90.0L270.4 119.6"/>
<path class="k1" d="M283.1 90.0L270.4 119.6"/>
<path class="k2" d="M281.8 89.5L269.2 119.0"/>
<path class="k0" d="M275.8 96.4L264.4 129.4"/>
<path class="k1" d="M275.8 96.4L264.4 129.4"/>
<path class="k2" d="M274.5 95.9L263.1 129.0"/>
<path class="k0" d="M279.0 96.8L270.0 127.1"/>
<path class="k1" d="M279.0 96.8L270.0 127.1"/>
<path class="k2" d="M277.7 96.4L268.7 126.7"/>
<path class="k0" d="M277.5 91.3L265.6 122.7"/>
<path class="k1" d="M277.5 91.3L265.6 122.7"/>
<path class="k2" d="M276.2 90.8L264.3 122.3"/>
<path class="k0" d="M279.3 92.2L268.6 122.1"/>
<path class="k1" d="M279.3 92.2L268.6 122.1"/>
<path class="k2" d="M278.0 91.8L267.3 121.6"/>
<path class="k0" d="M275.1 95.3L264.4 127.5"/>
<path class="k1" d="M275.1 95.3L264.4 127.5"/>
<path class="k2" d="M273.8 94.8L263.1 127.0"/>
<path class="k0" d="M280.9 95.9L269.2 123.7"/>
<path class="k1" d="M280.9 95.9L269.2 123.7"/>
<path class="k2" d="M279.6 95.4L268.0 123.1"/>
<path class="k0" d="M197.5 88.6L169.8 124.1"/>
<path class="k1" d="M197.5 88.6L169.8 124.1"/>
<path class="k2" d="M196.4 87.8L168.8 123.3"/>
<path class="k0" d="M169.8 124.1L150.8 160.0"/>
<path class="k1" d="M169.8 124.1L150.8 160.0"/>
<path class="k2" d="M168.6 123.5L149.6 159.3"/>
<path class="k0" d="M150.8 160.0L142.8 184.8"/>
<path class="k1" d="M150.8 160.0L142.8 184.8"/>
<path class="k2" d="M149.5 159.6L141.5 184.4"/>
<path class="k0" d="M198.0 86.9L174.5 121.9"/>
<path class="k1" d="M198.0 86.9L174.5 121.9"/>
<path class="k2" d="M196.8 86.1L173.3 121.2"/>
<path class="k0" d="M174.5 121.9L155.3 158.4"/>
<path class="k1" d="M174.5 121.9L155.3 158.4"/>
<path class="k2" d="M173.3 121.3L154.1 157.8"/>
<path class="k0" d="M155.3 158.4L144.9 181.9"/>
<path class="k1" d="M155.3 158.4L144.9 181.9"/>
<path class="k2" d="M154.1 157.9L143.6 181.4"/>
<path class="k0" d="M197.4 92.0L172.4 131.7"/>
<path class="k1" d="M197.4 92.0L172.4 131.7"/>
<path class="k2" d="M196.3 91.3L171.3 130.9"/>
<path class="k0" d="M172.4 131.7L152.2 164.3"/>
<path class="k1" d="M172.4 131.7L152.2 164.3"/>
<path class="k2" d="M171.2 130.9L151.0 163.6"/>
<path class="k0" d="M152.2 164.3L142.7 187.2"/>
<path class="k1" d="M152.2 164.3L142.7 187.2"/>
<path class="k2" d="M150.9 163.8L141.4 186.7"/>
<path class="k0" d="M192.8 89.6L167.5 127.0"/>
<path class="k1" d="M192.8 89.6L167.5 127.0"/>
<path class="k2" d="M191.6 88.9L166.4 126.3"/>
<path class="k0" d="M167.5 127.0L148.3 159.8"/>
<path class="k1" d="M167.5 127.0L148.3 159.8"/>
<path class="k2" d="M166.3 126.3L147.2 159.1"/>
<path class="k0" d="M148.3 159.8L139.7 184.3"/>
<path class="k1" d="M148.3 159.8L139.7 184.3"/>
<path class="k2" d="M147.1 159.3L138.4 183.8"/>
<path class="k0" d="M196.5 89.9L169.0 129.6"/>
<path class="k1" d="M196.5 89.9L169.0 129.6"/>
<path class="k2" d="M195.4 89.1L167.9 128.9"/>
<path class="k0" d="M169.0 129.6L148.3 164.3"/>
<path class="k1" d="M169.0 129.6L148.3 164.3"/>
<path class="k2" d="M167.9 128.9L147.2 163.6"/>
<path class="k0" d="M148.3 164.3L138.4 188.1"/>
<path class="k1" d="M148.3 164.3L138.4 188.1"/>
<path class="k2" d="M147.1 163.7L137.1 187.6"/>
<path class="k0" d="M191.7 82.0L168.0 121.1"/>
<path class="k1" d="M191.7 82.0L168.0 121.1"/>
<path class="k2" d="M190.6 81.3L166.9 120.4"/>
<path class="k0" d="M168.0 121.1L150.7 156.6"/>
<path class="k1" d="M168.0 121.1L150.7 156.6"/>
<path class="k2" d="M166.8 120.5L149.5 156.0"/>
<path class="k0" d="M150.7 156.6L137.0 181.9"/>
<path class="k1" d="M150.7 156.6L137.0 181.9"/>
<path class="k2" d="M149.5 155.9L135.8 181.2"/>
<path class="k0" d="M193.8 89.3L169.6 125.5"/>
<path class="k1" d="M193.8 89.3L169.6 125.5"/>
<path class="k2" d="M192.6 88.5L168.5 124.8"/>
<path class="k0" d="M169.6 125.5L147.1 159.4"/>
<path class="k1" d="M169.6 125.5L147.1 159.4"/>
<path class="k2" d="M168.5 124.8L146.0 158.7"/>
<path class="k0" d="M147.1 159.4L137.1 185.8"/>
<path class="k1" d="M147.1 159.4L137.1 185.8"/>
<path class="k2" d="M145.9 159.0L135.8 185.3"/>
<path class="k0" d="M209.3 141.6L181.6 170.3"/>
<path class="k1" d="M209.3 141.6L181.6 170.3"/>
<path class="k2" d="M208.3 140.7L180.6 169.4"/>
<path class="k0" d="M181.6 170.3L150.2 190.1"/>
<path class="k1" d="M181.6 170.3L150.2 190.1"/>
<path class="k2" d="M180.8 169.1L149.4 189.0"/>
<path class="k0" d="M206.0 139.2L176.6 170.0"/>
<path class="k1" d="M206.0 139.2L176.6 170.0"/>
<path class="k2" d="M205.0 138.3L175.6 169.1"/>
<path class="k0" d="M176.6 170.0L148.2 187.5"/>
<path class="k1" d="M176.6 170.0L148.2 187.5"/>
<path class="k2" d="M175.9 168.9L147.4 186.4"/>
<path class="k0" d="M207.6 136.6L177.5 166.5"/>
<path class="k1" d="M207.6 136.6L177.5 166.5"/>
<path class="k2" d="M206.7 135.6L176.6 165.5"/>
<path class="k0" d="M177.5 166.5L148.2 185.8"/>
<path class="k1" d="M177.5 166.5L148.2 185.8"/>
<path class="k2" d="M176.8 165.3L147.5 184.6"/>
<path class="k0" d="M206.0 139.1L175.0 169.8"/>
<path class="k1" d="M206.0 139.1L175.0 169.8"/>
<path class="k2" d="M205.0 138.1L174.1 168.8"/>
<path class="k0" d="M175.0 169.8L145.2 191.3"/>
<path class="k1" d="M175.0 169.8L145.2 191.3"/>
<path class="k2" d="M174.2 168.7L144.4 190.2"/>
<path class="k0" d="M209.3 139.2L175.5 171.5"/>
<path class="k1" d="M209.3 139.2L175.5 171.5"/>
<path class="k2" d="M208.4 138.2L174.6 170.5"/>
<path class="k0" d="M175.5 171.5L147.9 192.4"/>
<path class="k1" d="M175.5 171.5L147.9 192.4"/>
<path class="k2" d="M174.7 170.4L147.1 191.3"/>
<path class="k0" d="M212.9 140.4L182.3 169.8"/>
<path class="k1" d="M212.9 140.4L182.3 169.8"/>
<path class="k2" d="M211.9 139.4L181.4 168.8"/>
<path class="k0" d="M182.3 169.8L151.5 191.2"/>
<path class="k1" d="M182.3 169.8L151.5 191.2"/>
<path class="k2" d="M181.6 168.7L150.8 190.1"/>
<path class="k0" d="M210.7 134.1L180.2 166.1"/>
<path class="k1" d="M210.7 134.1L180.2 166.1"/>
<path class="k2" d="M209.7 133.2L179.2 165.2"/>
<path class="k0" d="M180.2 166.1L149.8 184.3"/>
<path class="k1" d="M180.2 166.1L149.8 184.3"/>
<path class="k2" d="M179.5 165.0L149.1 183.2"/>
<path class="k0" d="M230.8 141.8L198.2 170.0"/>
<path class="k1" d="M230.8 141.8L198.2 170.0"/>
<path class="k2" d="M229.9 140.8L197.3 169.0"/>
<path class="k0" d="M198.2 170.0L166.9 200.9"/>
<path class="k1" d="M198.2 170.0L166.9 200.9"/>
<path class="k2" d="M197.3 169.0L165.9 199.9"/>
<path class="k0" d="M237.1 138.1L202.0 169.1"/>
<path class="k1" d="M237.1 138.1L202.0 169.1"/>
<path class="k2" d="M236.2 137.1L201.1 168.1"/>
<path class="k0" d="M202.0 169.1L171.9 201.2"/>
<path class="k1" d="M202.0 169.1L171.9 201.2"/>
<path class="k2" d="M201.0 168.1L170.9 200.2"/>
<path class="k0" d="M227.7 138.9L195.0 167.8"/>
<path class="k1" d="M227.7 138.9L195.0 167.8"/>
<path class="k2" d="M226.8 137.9L194.1 166.8"/>
<path class="k0" d="M195.0 167.8L166.1 199.6"/>
<path class="k1" d="M195.0 167.8L166.1 199.6"/>
<path class="k2" d="M194.0 166.9L165.1 198.7"/>
<path class="k0" d="M234.3 138.0L203.7 168.4"/>
<path class="k1" d="M234.3 138.0L203.7 168.4"/>
<path class="k2" d="M233.3 137.1L202.7 167.4"/>
<path class="k0" d="M203.7 168.4L170.2 201.1"/>
<path class="k1" d="M203.7 168.4L170.2 201.1"/>
<path class="k2" d="M202.7 167.4L169.2 200.1"/>
<path class="k0" d="M231.4 137.6L200.9 165.3"/>
<path class="k1" d="M231.4 137.6L200.9 165.3"/>
<path class="k2" d="M230.5 136.6L199.9 164.3"/>
<path class="k0" d="M200.9 165.3L170.6 195.9"/>
<path class="k1" d="M200.9 165.3L170.6 195.9"/>
<path class="k2" d="M199.9 164.4L169.6 195.0"/>
<path class="k0" d="M230.8 141.6L198.9 169.4"/>
<path class="k1" d="M230.8 141.6L198.9 169.4"/>
<path class="k2" d="M229.9 140.6L198.0 168.4"/>
<path class="k0" d="M198.9 169.4L170.7 199.3"/>
<path class="k1" d="M198.9 169.4L170.7 199.3"/>
<path class="k2" d="M197.9 168.5L169.7 198.3"/>
<path class="k0" d="M229.2 141.8L197.5 170.0"/>
<path class="k1" d="M229.2 141.8L197.5 170.0"/>
<path class="k2" d="M228.3 140.8L196.6 169.0"/>
<path class="k0" d="M197.5 170.0L164.5 201.6"/>
<path class="k1" d="M197.5 170.0L164.5 201.6"/>
<path class="k2" d="M196.5 169.1L163.5 200.6"/>
<path class="k0" d="M181.4 122.2L170.3 156.7"/>
<path class="k1" d="M181.4 122.2L170.3 156.7"/>
<path class="k2" d="M180.1 121.8L169.0 156.3"/>
<path class="k0" d="M170.3 156.7L161.5 200.2"/>
<path class="k1" d="M170.3 156.7L161.5 200.2"/>
<path class="k2" d="M169.0 156.4L160.1 199.9"/>
<path class="k0" d="M181.8 125.2L172.1 156.7"/>
<path class="k1" d="M181.8 125.2L172.1 156.7"/>
<path class="k2" d="M180.5 124.8L170.8 156.3"/>
<path class="k0" d="M172.1 156.7L161.0 197.1"/>
<path class="k1" d="M172.1 156.7L161.0 197.1"/>
<path class="k2" d="M170.8 156.4L159.6 196.8"/>
<path class="k0" d="M181.8 127.6L170.6 162.9"/>
<path class="k1" d="M181.8 127.6L170.6 162.9"/>
<path class="k2" d="M180.5 127.2L169.3 162.5"/>
<path class="k0" d="M170.6 162.9L159.0 204.6"/>
<path class="k1" d="M170.6 162.9L159.0 204.6"/>
<path class="k2" d="M169.3 162.5L157.7 204.2"/>
<path class="k0" d="M181.8 124.5L173.0 158.5"/>
<path class="k1" d="M181.8 124.5L173.0 158.5"/>
<path class="k2" d="M180.4 124.1L171.7 158.2"/>
<path class="k0" d="M173.0 158.5L160.5 197.1"/>
<path class="k1" d="M173.0 158.5L160.5 197.1"/>
<path class="k2" d="M171.7 158.1L159.3 196.7"/>
<path class="k0" d="M177.3 128.2L166.8 162.1"/>
<path class="k1" d="M177.3 128.2L166.8 162.1"/>
<path class="k2" d="M176.0 127.8L165.5 161.7"/>
<path class="k0" d="M166.8 162.1L156.1 204.5"/>
<path class="k1" d="M166.8 162.1L156.1 204.5"/>
<path class="k2" d="M165.5 161.8L154.7 204.2"/>
<path class="k0" d="M181.7 122.4L171.3 158.1"/>
<path class="k1" d="M181.7 122.4L171.3 158.1"/>
<path class="k2" d="M180.3 122.0L170.0 157.7"/>
<path class="k0" d="M171.3 158.1L161.3 198.5"/>
<path class="k1" d="M171.3 158.1L161.3 198.5"/>
<path class="k2" d="M170.0 157.8L160.0 198.2"/>
<path class="k0" d="M184.4 123.8L173.4 158.7"/>
<path class="k1" d="M184.4 123.8L173.4 158.7"/>
<path class="k2" d="M183.1 123.3L172.1 158.3"/>
<path class="k0" d="M173.4 158.7L164.3 198.7"/>
<path class="k1" d="M173.4 158.7L164.3 198.7"/>
<path class="k2" d="M172.1 158.4L163.0 198.4"/>
<path class="k0" d="M226.0 159.5L215.2 177.3"/>
<path class="k1" d="M226.0 159.5L215.2 177.3"/>
<path class="k2" d="M224.9 158.8L214.0 176.6"/>
<path class="k0" d="M215.2 177.3L199.4 206.8"/>
<path class="k1" d="M215.2 177.3L199.4 206.8"/>
<path class="k2" d="M214.0 176.7L198.2 206.1"/>
<path class="k0" d="M199.4 206.8L178.1 216.2"/>
<path class="k1" d="M199.4 206.8L178.1 216.2"/>
<path class="k2" d="M198.8 205.5L177.5 214.9"/>
<path class="k0" d="M227.6 158.9L215.9 176.9"/>
<path class="k1" d="M227.6 158.9L215.9 176.9"/>
<path class="k2" d="M226.5 158.1L214.7 176.2"/>
<path class="k0" d="M215.9 176.9L202.9 209.9"/>
<path class="k1" d="M215.9 176.9L202.9 209.9"/>
<path class="k2" d="M214.6 176.4L201.7 209.4"/>
<path class="k0" d="M202.9 209.9L180.7 217.4"/>
<path class="k1" d="M202.9 209.9L180.7 217.4"/>
<path class="k2" d="M202.5 208.6L180.3 216.1"/>
<path class="k0" d="M229.6 153.2L217.0 171.6"/>
<path class="k1" d="M229.6 153.2L217.0 171.6"/>
<path class="k2" d="M228.5 152.4L215.8 170.8"/>
<path class="k0" d="M217.0 171.6L201.2 202.5"/>
<path class="k1" d="M217.0 171.6L201.2 202.5"/>
<path class="k2" d="M215.8 171.0L200.0 201.9"/>
<path class="k0" d="M201.2 202.5L181.2 213.7"/>
<path class="k1" d="M201.2 202.5L181.2 213.7"/>
<path class="k2" d="M200.6 201.3L180.5 212.5"/>
<path class="k0" d="M223.5 156.4L210.0 174.6"/>
<path class="k1" d="M223.5 156.4L210.0 174.6"/>
<path class="k2" d="M222.4 155.6L208.9 173.8"/>
<path class="k0" d="M210.0 174.6L194.6 207.3"/>
<path class="k1" d="M210.0 174.6L194.6 207.3"/>
<path class="k2" d="M208.8 174.0L193.3 206.7"/>
<path class="k0" d="M194.6 207.3L176.7 214.2"/>
<path class="k1" d="M194.6 207.3L176.7 214.2"/>
<path class="k2" d="M194.1 206.0L176.2 212.9"/>
<path class="k0" d="M224.9 154.9L214.3 175.2"/>
<path class="k1" d="M224.9 154.9L214.3 175.2"/>
<path class="k2" d="M223.7 154.3L213.1 174.6"/>
<path class="k0" d="M214.3 175.2L201.5 205.2"/>
<path class="k1" d="M214.3 175.2L201.5 205.2"/>
<path class="k2" d="M213.1 174.7L200.3 204.7"/>
<path class="k0" d="M201.5 205.2L181.3 217.3"/>
<path class="k1" d="M201.5 205.2L181.3 217.3"/>
<path class="k2" d="M200.8 204.1L180.6 216.1"/>
<path class="k0" d="M227.8 151.4L215.8 170.4"/>
<path class="k1" d="M227.8 151.4L215.8 170.4"/>
<path class="k2" d="M226.7 150.6L214.7 169.7"/>
<path class="k0" d="M215.8 170.4L199.0 201.6"/>
<path class="k1" d="M215.8 170.4L199.0 201.6"/>
<path class="k2" d="M214.6 169.8L197.8 201.0"/>
<path class="k0" d="M199.0 201.6L179.2 214.0"/>
<path class="k1" d="M199.0 201.6L179.2 214.0"/>
<path class="k2" d="M198.2 200.5L178.5 212.8"/>
<path class="k0" d="M228.4 160.2L216.2 178.1"/>
<path class="k1" d="M228.4 160.2L216.2 178.1"/>
<path class="k2" d="M227.3 159.4L215.1 177.3"/>
<path class="k0" d="M216.2 178.1L201.7 208.9"/>
<path class="k1" d="M216.2 178.1L201.7 208.9"/>
<path class="k2" d="M215.0 177.5L200.5 208.3"/>
<path class="k0" d="M201.7 208.9L179.3 218.3"/>
<path class="k1" d="M201.7 208.9L179.3 218.3"/>
<path class="k2" d="M201.2 207.6L178.7 217.0"/>
<path class="k0" d="M243.2 157.9L254.6 176.3"/>
<path class="k1" d="M243.2 157.9L254.6 176.3"/>
<path class="k2" d="M242.0 158.6L253.4 177.0"/>
<path class="k0" d="M254.6 176.3L240.6 198.5"/>
<path class="k1" d="M254.6 176.3L240.6 198.5"/>
<path class="k2" d="M253.4 175.6L239.5 197.8"/>
<path class="k0" d="M240.6 198.5L207.9 208.3"/>
<path class="k1" d="M240.6 198.5L207.9 208.3"/>
<path class="k2" d="M240.2 197.2L207.5 207.0"/>
<path class="k0" d="M239.5 160.4L252.1 178.9"/>
<path class="k1" d="M239.5 160.4L252.1 178.9"/>
<path class="k2" d="M238.4 161.2L251.0 179.7"/>
<path class="k0" d="M252.1 178.9L236.4 204.8"/>
<path class="k1" d="M252.1 178.9L236.4 204.8"/>
<path class="k2" d="M251.0 178.2L235.2 204.1"/>
<path class="k0" d="M236.4 204.8L206.6 215.1"/>
<path class="k1" d="M236.4 204.8L206.6 215.1"/>
<path class="k2" d="M236.0 203.5L206.2 213.8"/>
<path class="k0" d="M245.6 151.4L259.0 169.3"/>
<path class="k1" d="M245.6 151.4L259.0 169.3"/>
<path class="k2" d="M244.5 152.2L257.9 170.1"/>
<path class="k0" d="M259.0 169.3L241.5 197.1"/>
<path class="k1" d="M259.0 169.3L241.5 197.1"/>
<path class="k2" d="M257.8 168.6L240.3 196.4"/>
<path class="k0" d="M241.5 197.1L212.8 206.7"/>
<path class="k1" d="M241.5 197.1L212.8 206.7"/>
<path class="k2" d="M241.1 195.8L212.4 205.4"/>
<path class="k0" d="M241.1 157.0L253.3 175.9"/>
<path class="k1" d="M241.1 157.0L253.3 175.9"/>
<path class="k2" d="M240.0 157.8L252.2 176.6"/>
<path class="k0" d="M253.3 175.9L237.7 198.7"/>
<path class="k1" d="M253.3 175.9L237.7 198.7"/>
<path class="k2" d="M252.2 175.1L236.6 197.9"/>
<path class="k0" d="M237.7 198.7L208.1 210.3"/>
<path class="k1" d="M237.7 198.7L208.1 210.3"/>
<path class="k2" d="M237.2 197.4L207.6 209.0"/>
<path class="k0" d="M245.6 154.4L255.2 169.7"/>
<path class="k1" d="M245.6 154.4L255.2 169.7"/>
<path class="k2" d="M244.4 155.1L254.0 170.4"/>
<path class="k0" d="M255.2 169.7L242.0 197.9"/>
<path class="k1" d="M255.2 169.7L242.0 197.9"/>
<path class="k2" d="M253.9 169.1L240.7 197.4"/>
<path class="k0" d="M242.0 197.9L209.4 207.0"/>
<path class="k1" d="M242.0 197.9L209.4 207.0"/>
<path class="k2" d="M241.6 196.6L209.0 205.7"/>
<path class="k0" d="M244.4 159.0L256.2 177.4"/>
<path class="k1" d="M244.4 159.0L256.2 177.4"/>
<path class="k2" d="M243.2 159.7L255.1 178.2"/>
<path class="k0" d="M256.2 177.4L244.1 205.1"/>
<path class="k1" d="M256.2 177.4L244.1 205.1"/>
<path class="k2" d="M255.0 176.9L242.9 204.6"/>
<path class="k0" d="M244.1 205.1L212.4 212.0"/>
<path class="k1" d="M244.1 205.1L212.4 212.0"/>
<path class="k2" d="M243.9 203.8L212.2 210.7"/>
<path class="k0" d="M242.4 155.8L254.9 172.7"/>
<path class="k1" d="M242.4 155.8L254.9 172.7"/>
<path class="k2" d="M241.3 156.6L253.8 173.5"/>
<path class="k0" d="M254.9 172.7L238.6 197.8"/>
<path class="k1" d="M254.9 172.7L238.6 197.8"/>
<path class="k2" d="M253.8 171.9L237.5 197.1"/>
<path class="k0" d="M238.6 197.8L208.3 207.7"/>
<path class="k1" d="M238.6 197.8L208.3 207.7"/>
<path class="k2" d="M238.2 196.5L207.9 206.5"/>
<path class="k0" d="M236.2 57.4L200.4 78.3"/>
<path class="k1" d="M236.2 57.4L200.4 78.3"/>
<path class="k2" d="M235.5 56.2L199.7 77.1"/>
<path class="k0" d="M200.4 78.3L186.4 96.6"/>
<path class="k1" d="M200.4 78.3L186.4 96.6"/>
<path class="k2" d="M199.4 77.5L185.3 95.7"/>
<path class="k0" d="M230.0 52.6L196.7 71.9"/>
<path class="k1" d="M230.0 52.6L196.7 71.9"/>
<path class="k2" d="M229.3 51.4L196.0 70.7"/>
<path class="k0" d="M196.7 71.9L179.6 90.3"/>
<path class="k1" d="M196.7 71.9L179.6 90.3"/>
<path class="k2" d="M195.7 71.0L178.6 89.3"/>
<path class="k0" d="M233.5 52.7L197.6 73.1"/>
<path class="k1" d="M233.5 52.7L197.6 73.1"/>
<path class="k2" d="M232.8 51.5L197.0 71.9"/>
<path class="k0" d="M197.6 73.1L181.5 89.4"/>
<path class="k1" d="M197.6 73.1L181.5 89.4"/>
<path class="k2" d="M196.7 72.1L180.6 88.5"/>
<path class="k0" d="M238.5 53.5L201.0 74.1"/>
<path class="k1" d="M238.5 53.5L201.0 74.1"/>
<path class="k2" d="M237.9 52.3L200.3 72.9"/>
<path class="k0" d="M201.0 74.1L186.9 93.4"/>
<path class="k1" d="M201.0 74.1L186.9 93.4"/>
<path class="k2" d="M199.9 73.3L185.8 92.6"/>
<path class="k0" d="M237.2 52.4L202.3 77.2"/>
<path class="k1" d="M237.2 52.4L202.3 77.2"/>
<path class="k2" d="M236.4 51.3L201.5 76.1"/>
<path class="k0" d="M202.3 77.2L186.4 94.3"/>
<path class="k1" d="M202.3 77.2L186.4 94.3"/>
<path class="k2" d="M201.3 76.3L185.4 93.3"/>
<path class="k0" d="M241.0 57.8L202.9 81.0"/>
<path class="k1" d="M241.0 57.8L202.9 81.0"/>
<path class="k2" d="M240.3 56.6L202.2 79.8"/>
<path class="k0" d="M202.9 81.0L188.0 97.2"/>
<path class="k1" d="M202.9 81.0L188.0 97.2"/>
<path class="k2" d="M201.9 80.1L187.0 96.3"/>
<path class="k0" d="M246.0 84.4L201.9 101.8"/>
<path class="k1" d="M246.0 84.4L201.9 101.8"/>
<path class="k2" d="M245.5 83.1L201.4 100.6"/>
<path class="k0" d="M201.9 101.8L177.8 117.5"/>
<path class="k1" d="M201.9 101.8L177.8 117.5"/>
<path class="k2" d="M201.2 100.7L177.1 116.3"/>
<path class="k0" d="M249.2 79.7L204.8 102.3"/>
<path class="k1" d="M249.2 79.7L204.8 102.3"/>
<path class="k2" d="M248.6 78.5L204.2 101.1"/>
<path class="k0" d="M204.8 102.3L180.5 114.8"/>
<path class="k1" d="M204.8 102.3L180.5 114.8"/>
<path class="k2" d="M204.2 101.1L179.9 113.6"/>
<path class="k0" d="M246.6 81.8L199.6 100.7"/>
<path class="k1" d="M246.6 81.8L199.6 100.7"/>
<path class="k2" d="M246.1 80.6L199.1 99.4"/>
<path class="k0" d="M199.6 100.7L173.9 115.1"/>
<path class="k1" d="M199.6 100.7L173.9 115.1"/>
<path class="k2" d="M199.0 99.5L173.3 113.9"/>
<path class="k0" d="M250.7 83.2L203.5 104.7"/>
<path class="k1" d="M250.7 83.2L203.5 104.7"/>
<path class="k2" d="M250.2 81.9L203.0 103.5"/>
<path class="k0" d="M203.5 104.7L179.8 117.0"/>
<path class="k1" d="M203.5 104.7L179.8 117.0"/>
<path class="k2" d="M202.9 103.5L179.2 115.8"/>
<path class="k0" d="M247.0 81.9L203.0 101.2"/>
<path class="k1" d="M247.0 81.9L203.0 101.2"/>
<path class="k2" d="M246.4 80.6L202.4 99.9"/>
<path class="k0" d="M203.0 101.2L176.9 115.6"/>
<path class="k1" d="M203.0 101.2L176.9 115.6"/>
<path class="k2" d="M202.3 100.0L176.2 114.4"/>
</g>
<path class="k6" d="M237.2 48.8L196.9 35.2"/>
<path class="k7" d="M237.2 48.8L196.9 35.2"/>
<path class="k8" d="M237.7 47.3L197.4 33.7"/>
<path class="k6" d="M242.9 54.7L199.5 37.0"/>
<path class="k7" d="M242.9 54.7L199.5 37.0"/>
<path class="k8" d="M243.5 53.2L200.1 35.5"/>
<path class="k6" d="M240.4 42.2L204.2 29.5"/>
<path class="k7" d="M240.4 42.2L204.2 29.5"/>
<path class="k8" d="M241.0 40.7L204.7 27.9"/>
<path class="k6" d="M247.7 50.9L205.9 31.7"/>
<path class="k7" d="M247.7 50.9L205.9 31.7"/>
<path class="k8" d="M248.4 49.5L206.6 30.3"/>
<path class="k6" d="M237.4 47.6L205.1 34.4"/>
<path class="k7" d="M237.4 47.6L205.1 34.4"/>
<path class="k8" d="M238.0 46.1L205.7 32.9"/>
<path class="k6" d="M247.5 46.1L217.6 18.0"/>
<path class="k7" d="M247.5 46.1L217.6 18.0"/>
<path class="k8" d="M248.6 44.9L218.7 16.8"/>
<path class="k9" d="M278.9 65.0L310.0 67.1"/>
<path class="k10" d="M278.9 65.0L310.0 67.1"/>
<path class="k11" d="M279.0 63.3L310.1 65.5"/>
<path class="k6" d="M244.7 50.8L207.9 38.2"/>
<path class="k7" d="M244.7 50.8L207.9 38.2"/>
<path class="k8" d="M245.2 49.3L208.5 36.7"/>
<path class="k6" d="M242.6 44.2L219.1 20.1"/>
<path class="k7" d="M242.6 44.2L219.1 20.1"/>
<path class="k8" d="M241.5 45.3L218.0 21.2"/>
<path class="k9" d="M285.8 59.9L310.8 59.2"/>
<path class="k10" d="M285.8 59.9L310.8 59.2"/>
<path class="k11" d="M285.8 58.3L310.8 57.6"/>
<path class="k9" d="M271.5 59.0L310.0 55.7"/>
<path class="k10" d="M271.5 59.0L310.0 55.7"/>
<path class="k11" d="M271.4 57.4L309.9 54.1"/>
<path class="k6" d="M252.3 52.2L211.5 36.3"/>
<path class="k7" d="M252.3 52.2L211.5 36.3"/>
<path class="k8" d="M252.9 50.6L212.1 34.8"/>
<path class="k9" d="M283.0 61.1L308.1 59.6"/>
<path class="k10" d="M283.0 61.1L308.1 59.6"/>
<path class="k11" d="M282.9 59.5L308.0 58.0"/>
<path class="k9" d="M276.6 58.6L307.4 55.2"/>
<path class="k10" d="M276.6 58.6L307.4 55.2"/>
<path class="k11" d="M276.4 57.0L307.3 53.6"/>
<path class="k9" d="M280.8 43.6L303.6 37.3"/>
<path class="k10" d="M280.8 43.6L303.6 37.3"/>
<path class="k11" d="M280.4 42.1L303.1 35.7"/>
<path class="k9" d="M276.2 54.8L303.2 37.2"/>
<path class="k10" d="M276.2 54.8L303.2 37.2"/>
<path class="k11" d="M275.3 53.5L302.3 35.8"/>
<path class="k6" d="M253.0 45.7L216.2 32.6"/>
<path class="k7" d="M253.0 45.7L216.2 32.6"/>
<path class="k8" d="M253.5 44.2L216.8 31.1"/>
<path class="k6" d="M255.3 41.6L241.3 11.2"/>
<path class="k7" d="M255.3 41.6L241.3 11.2"/>
<path class="k8" d="M253.8 42.3L239.8 11.9"/>
<path class="k9" d="M266.8 57.9L304.8 65.4"/>
<path class="k10" d="M266.8 57.9L304.8 65.4"/>
<path class="k11" d="M267.1 56.3L305.2 63.9"/>
<path class="k9" d="M261.9 53.5L250.8 9.0"/>
<path class="k10" d="M261.9 53.5L250.8 9.0"/>
<path class="k11" d="M260.3 53.9L249.2 9.3"/>
<path class="k9" d="M278.2 63.2L299.3 79.6"/>
<path class="k10" d="M278.2 63.2L299.3 79.6"/>
<path class="k11" d="M279.2 62.0L300.3 78.3"/>
<path class="k9" d="M269.1 53.2L304.1 67.0"/>
<path class="k10" d="M269.1 53.2L304.1 67.0"/>
<path class="k11" d="M269.7 51.7L304.7 65.5"/>
<path class="k9" d="M273.5 61.5L301.3 75.0"/>
<path class="k10" d="M273.5 61.5L301.3 75.0"/>
<path class="k11" d="M274.2 60.1L302.0 73.5"/>
<path class="k9" d="M270.7 65.8L297.6 81.6"/>
<path class="k10" d="M270.7 65.8L297.6 81.6"/>
<path class="k11" d="M271.5 64.4L298.4 80.2"/>
<path class="k9" d="M257.6 50.0L256.0 9.2"/>
<path class="k10" d="M257.6 50.0L256.0 9.2"/>
<path class="k11" d="M256.0 50.1L254.4 9.3"/>
<path class="k9" d="M256.6 30.2L257.3 9.3"/>
<path class="k10" d="M256.6 30.2L257.3 9.3"/>
<path class="k11" d="M255.0 30.1L255.7 9.3"/>
<path class="k9" d="M277.5 55.5L303.5 65.1"/>
<path class="k10" d="M277.5 55.5L303.5 65.1"/>
<path class="k11" d="M278.1 54.0L304.1 63.6"/>
<path class="k9" d="M264.0 60.0L303.5 62.2"/>
<path class="k10" d="M264.0 60.0L303.5 62.2"/>
<path class="k11" d="M264.1 58.4L303.6 60.6"/>
<path class="k9" d="M250.7 41.2L248.2 11.2"/>
<path class="k10" d="M250.7 41.2L248.2 11.2"/>
<path class="k11" d="M249.1 41.4L246.6 11.3"/>
<path class="k9" d="M267.8 51.8L303.2 49.3"/>
<path class="k10" d="M267.8 51.8L303.2 49.3"/>
<path class="k11" d="M267.7 50.2L303.1 47.7"/>
<path class="k6" d="M252.7 51.5L234.6 16.9"/>
<path class="k7" d="M252.7 51.5L234.6 16.9"/>
<path class="k8" d="M251.2 52.3L233.2 17.6"/>
<path class="k9" d="M267.4 47.1L300.3 41.7"/>
<path class="k10" d="M267.4 47.1L300.3 41.7"/>
<path class="k11" d="M267.2 45.5L300.0 40.1"/>
<path class="k9" d="M253.6 49.9L261.3 11.6"/>
<path class="k10" d="M253.6 49.9L261.3 11.6"/>
<path class="k11" d="M252.0 49.5L259.7 11.2"/>
<path class="k9" d="M279.7 49.9L297.6 37.2"/>
<path class="k10" d="M279.7 49.9L297.6 37.2"/>
<path class="k11" d="M278.8 48.6L296.7 35.9"/>
<path class="k9" d="M268.2 61.0L297.8 73.9"/>
<path class="k10" d="M268.2 61.0L297.8 73.9"/>
<path class="k11" d="M268.8 59.5L298.5 72.4"/>
<path class="k9" d="M265.6 47.8L296.5 35.6"/>
<path class="k10" d="M265.6 47.8L296.5 35.6"/>
<path class="k11" d="M265.0 46.3L295.9 34.1"/>
<path class="k9" d="M272.9 56.0L301.0 50.6"/>
<path class="k10" d="M272.9 56.0L301.0 50.6"/>
<path class="k11" d="M272.6 54.4L300.7 49.0"/>
<path class="k6" d="M247.2 45.1L235.7 19.0"/>
<path class="k7" d="M247.2 45.1L235.7 19.0"/>
<path class="k8" d="M245.8 45.7L234.3 19.6"/>
<path class="k9" d="M258.8 65.0L296.5 73.3"/>
<path class="k10" d="M258.8 65.0L296.5 73.3"/>
<path class="k11" d="M259.2 63.5L296.9 71.8"/>
<path class="k9" d="M261.6 48.6L257.3 14.4"/>
<path class="k10" d="M261.6 48.6L257.3 14.4"/>
<path class="k11" d="M260.0 48.8L255.7 14.6"/>
<path class="k9" d="M257.4 45.8L270.3 16.4"/>
<path class="k10" d="M257.4 45.8L270.3 16.4"/>
<path class="k11" d="M255.9 45.1L268.9 15.7"/>
<path class="k9" d="M263.7 55.4L297.8 67.7"/>
<path class="k10" d="M263.7 55.4L297.8 67.7"/>
<path class="k11" d="M264.2 53.9L298.4 66.1"/>
<path class="k9" d="M268.2 64.8L289.7 82.7"/>
<path class="k10" d="M268.2 64.8L289.7 82.7"/>
<path class="k11" d="M269.3 63.6L290.8 81.4"/>
<path class="k9" d="M259.1 50.5L269.7 16.4"/>
<path class="k10" d="M259.1 50.5L269.7 16.4"/>
<path class="k11" d="M257.6 50.0L268.1 15.9"/>
<path class="k9" d="M272.4 57.1L294.4 75.4"/>
<path class="k10" d="M272.4 57.1L294.4 75.4"/>
<path class="k11" d="M273.5 55.9L295.4 74.1"/>
<path class="k9" d="M251.2 42.6L250.4 15.6"/>
<path class="k10" d="M251.2 42.6L250.4 15.6"/>
<path class="k11" d="M249.6 42.7L248.8 15.6"/>
<path class="k9" d="M270.6 70.0L289.2 82.5"/>
<path class="k10" d="M270.6 70.0L289.2 82.5"/>
<path class="k11" d="M271.5 68.6L290.1 81.2"/>
<path class="k9" d="M260.1 41.4L255.2 15.7"/>
<path class="k10" d="M260.1 41.4L255.2 15.7"/>
<path class="k11" d="M258.5 41.7L253.6 16.0"/>
<path class="k9" d="M261.5 61.9L294.9 71.1"/>
<path class="k10" d="M261.5 61.9L294.9 71.1"/>
<path class="k11" d="M262.0 60.4L295.3 69.5"/>
<path class="k9" d="M262.6 48.9L278.5 22.6"/>
<path class="k10" d="M262.6 48.9L278.5 22.6"/>
<path class="k11" d="M261.2 48.0L277.2 21.8"/>
<path class="k9" d="M262.8 51.8L260.0 17.8"/>
<path class="k10" d="M262.8 51.8L260.0 17.8"/>
<path class="k11" d="M261.2 51.9L258.4 18.0"/>
<path class="k9" d="M267.9 56.6L291.6 38.2"/>
<path class="k10" d="M267.9 56.6L291.6 38.2"/>
<path class="k11" d="M266.9 55.3L290.6 36.9"/>
<path class="k9" d="M267.8 42.9L282.7 28.0"/>
<path class="k10" d="M267.8 42.9L282.7 28.0"/>
<path class="k11" d="M266.7 41.8L281.6 26.9"/>
<path class="k9" d="M266.3 46.9L289.2 36.4"/>
<path class="k10" d="M266.3 46.9L289.2 36.4"/>
<path class="k11" d="M265.6 45.5L288.5 35.0"/>
<path class="k9" d="M266.1 39.7L274.6 23.4"/>
<path class="k10" d="M266.1 39.7L274.6 23.4"/>
<path class="k11" d="M264.6 38.9L273.2 22.7"/>
<path class="k9" d="M269.6 43.5L279.7 27.0"/>
<path class="k10" d="M269.6 43.5L279.7 27.0"/>
<path class="k11" d="M268.2 42.6L278.4 26.1"/>
<path class="k9" d="M274.7 43.8L284.6 32.3"/>
<path class="k10" d="M274.7 43.8L284.6 32.3"/>
<path class="k11" d="M273.5 42.7L283.4 31.2"/>
<path class="k9" d="M267.0 46.4L285.3 35.3"/>
<path class="k10" d="M267.0 46.4L285.3 35.3"/>
<path class="k11" d="M266.1 45.0L284.4 33.9"/>
<path class="k12" d="M278.4 50.3L292.0 47.6"/>
<path class="k13" d="M278.4 50.3L292.0 47.6"/>
<path class="k14" d="M278.2 48.9L291.7 46.2"/>
<path class="k15" d="M271.9 53.0L268.4 51.2"/>
<path class="k16" d="M271.9 53.0L268.4 51.2"/>
<path class="k17" d="M272.6 51.7L269.1 49.9"/>
<path class="k15" d="M278.4 54.3L287.5 56.8"/>
<path class="k16" d="M278.4 54.3L287.5 56.8"/>
<path class="k17" d="M278.7 52.9L287.9 55.4"/>
<path class="k15" d="M273.9 51.1L278.5 49.9"/>
<path class="k16" d="M273.9 51.1L278.5 49.9"/>
<path class="k17" d="M273.5 49.7L278.2 48.5"/>
<path class="k15" d="M270.3 53.4L270.8 55.7"/>
<path class="k16" d="M270.3 53.4L270.8 55.7"/>
<path class="k17" d="M268.9 53.7L269.4 56.0"/>
<path class="k15" d="M263.8 52.2L257.4 52.4"/>
<path class="k16" d="M263.8 52.2L257.4 52.4"/>
<path class="k17" d="M263.8 50.8L257.4 51.0"/>
<path class="k15" d="M267.5 52.7L279.0 49.6"/>
<path class="k16" d="M267.5 52.7L279.0 49.6"/>
<path class="k17" d="M267.1 51.3L278.6 48.2"/>
<path class="k15" d="M269.3 51.9L267.0 51.5"/>
<path class="k16" d="M269.3 51.9L267.0 51.5"/>
<path class="k17" d="M269.5 50.5L267.2 50.0"/>
<path class="k12" d="M251.9 39.3L249.7 37.9"/>
<path class="k13" d="M251.9 39.3L249.7 37.9"/>
<path class="k14" d="M252.7 38.2L250.5 36.7"/>
<path class="k15" d="M271.4 56.0L267.9 46.3"/>
<path class="k16" d="M271.4 56.0L267.9 46.3"/>
<path class="k17" d="M270.1 56.5L266.6 46.8"/>
<path class="k15" d="M278.1 40.0L280.9 35.9"/>
<path class="k16" d="M278.1 40.0L280.9 35.9"/>
<path class="k17" d="M276.9 39.2L279.7 35.1"/>
<path class="k12" d="M278.1 62.3L286.2 72.5"/>
<path class="k13" d="M278.1 62.3L286.2 72.5"/>
<path class="k14" d="M277.0 63.2L285.0 73.4"/>
<path class="k15" d="M282.0 46.7L284.4 45.6"/>
<path class="k16" d="M282.0 46.7L284.4 45.6"/>
<path class="k17" d="M281.4 45.4L283.8 44.3"/>
<path class="k12" d="M253.5 67.1L251.5 69.0"/>
<path class="k13" d="M253.5 67.1L251.5 69.0"/>
<path class="k14" d="M252.5 66.1L250.5 68.0"/>
<path class="k15" d="M273.7 41.2L269.6 53.0"/>
<path class="k16" d="M273.7 41.2L269.6 53.0"/>
<path class="k17" d="M272.4 40.7L268.3 52.6"/>
<path class="k15" d="M272.7 49.0L268.5 53.7"/>
<path class="k16" d="M272.7 49.0L268.5 53.7"/>
<path class="k17" d="M271.6 48.0L267.4 52.7"/>
<path class="k15" d="M270.6 53.7L273.7 62.6"/>
<path class="k16" d="M270.6 53.7L273.7 62.6"/>
<path class="k17" d="M269.2 54.2L272.4 63.1"/>
<path class="k15" d="M273.5 56.6L268.4 49.9"/>
<path class="k16" d="M273.5 56.6L268.4 49.9"/>
<path class="k17" d="M272.4 57.5L267.3 50.8"/>
<path class="k15" d="M271.3 52.4L282.4 55.9"/>
<path class="k16" d="M271.3 52.4L282.4 55.9"/>
<path class="k17" d="M271.7 51.0L282.9 54.5"/>
<path class="k12" d="M268.5 68.0L268.1 72.9"/>
<path class="k13" d="M268.5 68.0L268.1 72.9"/>
<path class="k14" d="M267.1 67.9L266.6 72.8"/>
<path class="k12" d="M253.1 63.4L251.4 64.6"/>
<path class="k13" d="M253.1 63.4L251.4 64.6"/>
<path class="k14" d="M252.3 62.2L250.6 63.4"/>
<path class="k15" d="M265.0 50.5L254.8 47.4"/>
<path class="k16" d="M265.0 50.5L254.8 47.4"/>
<path class="k17" d="M265.4 49.1L255.2 46.1"/>
<path class="k15" d="M285.2 47.6L289.7 46.3"/>
<path class="k16" d="M285.2 47.6L289.7 46.3"/>
<path class="k17" d="M284.8 46.2L289.3 44.9"/>
<path class="k15" d="M272.6 58.7L274.5 63.7"/>
<path class="k16" d="M272.6 58.7L274.5 63.7"/>
<path class="k17" d="M271.2 59.2L273.2 64.2"/>
<path class="k15" d="M277.4 54.2L267.5 51.2"/>
<path class="k16" d="M277.4 54.2L267.5 51.2"/>
<path class="k17" d="M277.8 52.8L267.9 49.9"/>
<path class="k15" d="M271.8 51.1L268.7 52.6"/>
<path class="k16" d="M271.8 51.1L268.7 52.6"/>
<path class="k17" d="M271.2 49.8L268.1 51.3"/>
<path class="k12" d="M281.6 47.8L293.4 43.4"/>
<path class="k13" d="M281.6 47.8L293.4 43.4"/>
<path class="k14" d="M281.1 46.4L292.9 42.1"/>
<path class="k12" d="M250.6 65.7L247.3 68.0"/>
<path class="k13" d="M250.6 65.7L247.3 68.0"/>
<path class="k14" d="M249.7 64.5L246.4 66.9"/>
<path class="k12" d="M266.6 32.7L265.8 28.3"/>
<path class="k13" d="M266.6 32.7L265.8 28.3"/>
<path class="k14" d="M265.1 32.9L264.3 28.5"/>
<path class="k15" d="M270.8 52.0L273.8 52.1"/>
<path class="k16" d="M270.8 52.0L273.8 52.1"/>
<path class="k17" d="M270.8 50.6L273.8 50.6"/>
<path class="k15" d="M273.1 44.5L276.0 37.4"/>
<path class="k16" d="M273.1 44.5L276.0 37.4"/>
<path class="k17" d="M271.7 44.0L274.7 36.9"/>
<path class="k15" d="M281.6 60.6L284.5 62.8"/>
<path class="k16" d="M281.6 60.6L284.5 62.8"/>
<path class="k17" d="M282.4 59.5L285.4 61.6"/>
<path class="k15" d="M274.8 56.6L281.9 63.3"/>
<path class="k16" d="M274.8 56.6L281.9 63.3"/>
<path class="k17" d="M275.8 55.5L282.9 62.2"/>
<path class="k12" d="M276.5 35.4L277.8 32.0"/>
<path class="k13" d="M276.5 35.4L277.8 32.0"/>
<path class="k14" d="M275.1 34.9L276.4 31.5"/>
<path class="k15" d="M271.6 48.2L268.6 55.5"/>
<path class="k16" d="M271.6 48.2L268.6 55.5"/>
<path class="k17" d="M270.3 47.6L267.2 54.9"/>
<path class="k12" d="M285.6 54.4L295.6 55.9"/>
<path class="k13" d="M285.6 54.4L295.6 55.9"/>
<path class="k14" d="M285.8 53.0L295.8 54.5"/>
<path class="k15" d="M269.9 52.2L275.3 40.4"/>
<path class="k16" d="M269.9 52.2L275.3 40.4"/>
<path class="k17" d="M268.6 51.6L273.9 39.8"/>
<path class="k12" d="M276.0 43.4L282.6 33.8"/>
<path class="k13" d="M276.0 43.4L282.6 33.8"/>
<path class="k14" d="M274.8 42.6L281.5 33.0"/>
<path class="k15" d="M271.5 58.0L272.2 60.6"/>
<path class="k16" d="M271.5 58.0L272.2 60.6"/>
<path class="k17" d="M270.1 58.4L270.8 61.0"/>
<path class="k15" d="M269.8 53.7L271.3 40.0"/>
<path class="k16" d="M269.8 53.7L271.3 40.0"/>
<path class="k17" d="M268.4 53.6L269.8 39.8"/>
<circle cx="267.2" cy="61.2" r="4.4" fill="#147a7a" stroke="#0a5050" stroke-width="0.8"/><circle cx="265.9" cy="59.9" r="1.5" fill="#40a8a8"/>
<circle cx="286.8" cy="36.1" r="4.4" fill="#147a7a" stroke="#0a5050" stroke-width="0.8"/><circle cx="285.5" cy="34.8" r="1.5" fill="#40a8a8"/>
<circle cx="271.0" cy="32.5" r="4.4" fill="#147a7a" stroke="#0a5050" stroke-width="0.8"/><circle cx="269.7" cy="31.2" r="1.5" fill="#40a8a8"/>
<circle cx="276.3" cy="49.2" r="4.4" fill="#147a7a" stroke="#0a5050" stroke-width="0.8"/><circle cx="275.0" cy="47.9" r="1.5" fill="#40a8a8"/>
<circle cx="268.8" cy="51.1" r="4.4" fill="#147a7a" stroke="#0a5050" stroke-width="0.8"/><circle cx="267.5" cy="49.8" r="1.5" fill="#40a8a8"/>
<circle cx="259.0" cy="33.1" r="4.4" fill="#147a7a" stroke="#0a5050" stroke-width="0.8"/><circle cx="257.7" cy="31.8" r="1.5" fill="#40a8a8"/>
<circle cx="266.2" cy="51.9" r="4.4" fill="#147a7a" stroke="#0a5050" stroke-width="0.8"/><circle cx="264.9" cy="50.6" r="1.5" fill="#40a8a8"/>
<circle cx="268.5" cy="51.4" r="4.4" fill="#147a7a" stroke="#0a5050" stroke-width="0.8"/><circle cx="267.2" cy="50.1" r="1.5" fill="#40a8a8"/>
<circle cx="268.0" cy="52.4" r="4.4" fill="#147a7a" stroke="#0a5050" stroke-width="0.8"/><circle cx="266.7" cy="51.1" r="1.5" fill="#40a8a8"/>
<circle cx="251.5" cy="61.0" r="4.4" fill="#147a7a" stroke="#0a5050" stroke-width="0.8"/><circle cx="250.2" cy="59.7" r="1.5" fill="#40a8a8"/>
<circle cx="268.5" cy="33.2" r="4.4" fill="#147a7a" stroke="#0a5050" stroke-width="0.8"/><circle cx="267.2" cy="31.9" r="1.5" fill="#40a8a8"/>
<circle cx="258.9" cy="54.6" r="4.4" fill="#147a7a" stroke="#0a5050" stroke-width="0.8"/><circle cx="257.6" cy="53.3" r="1.5" fill="#40a8a8"/>
<circle cx="289.3" cy="57.9" r="4.4" fill="#147a7a" stroke="#0a5050" stroke-width="0.8"/><circle cx="288.0" cy="56.6" r="1.5" fill="#40a8a8"/>
<circle cx="260.4" cy="48.2" r="4.4" fill="#147a7a" stroke="#0a5050" stroke-width="0.8"/><circle cx="259.1" cy="46.9" r="1.5" fill="#40a8a8"/>
<circle cx="277.3" cy="60.0" r="4.4" fill="#147a7a" stroke="#0a5050" stroke-width="0.8"/><circle cx="276.0" cy="58.7" r="1.5" fill="#40a8a8"/>
<circle cx="272.9" cy="53.0" r="4.4" fill="#147a7a" stroke="#0a5050" stroke-width="0.8"/><circle cx="271.6" cy="51.7" r="1.5" fill="#40a8a8"/>
<path class="k18" d="M189.2 89.9L166.8 89.4"/>
<path class="k19" d="M189.2 89.9L166.8 89.4"/>
<path class="k20" d="M189.2 89.1L166.8 88.6"/>
<path class="k21" d="M166.8 89.4L133.3 88.6"/>
<path class="k22" d="M166.8 89.4L133.3 88.6"/>
<path class="k23" d="M166.8 88.6L133.3 87.8"/>
<path class="k18" d="M190.0 102.6L167.8 103.7"/>
<path class="k19" d="M190.0 102.6L167.8 103.7"/>
<path class="k20" d="M190.0 101.8L167.7 103.0"/>
<path class="k21" d="M167.8 103.7L134.4 105.4"/>
<path class="k22" d="M167.8 103.7L134.4 105.4"/>
<path class="k23" d="M167.7 103.0L134.3 104.6"/>
<path class="k18" d="M192.8 87.4L167.8 86.6"/>
<path class="k19" d="M192.8 87.4L167.8 86.6"/>
<path class="k20" d="M192.8 86.6L167.8 85.8"/>
<path class="k21" d="M167.8 86.6L130.2 85.4"/>
<path class="k22" d="M167.8 86.6L130.2 85.4"/>
<path class="k23" d="M167.8 85.8L130.2 84.6"/>
<path class="k18" d="M184.7 98.5L163.6 98.5"/>
<path class="k19" d="M184.7 98.5L163.6 98.5"/>
<path class="k20" d="M184.7 97.7L163.6 97.7"/>
<path class="k21" d="M163.6 98.5L132.0 98.5"/>
<path class="k22" d="M163.6 98.5L132.0 98.5"/>
<path class="k23" d="M163.6 97.7L132.0 97.7"/>
<path class="k18" d="M188.0 98.7L163.7 98.4"/>
<path class="k19" d="M188.0 98.7L163.7 98.4"/>
<path class="k20" d="M188.0 98.0L163.8 97.7"/>
<path class="k21" d="M163.7 98.4L127.3 98.0"/>
<path class="k22" d="M163.7 98.4L127.3 98.0"/>
<path class="k23" d="M163.8 97.7L127.3 97.2"/>
<path class="k18" d="M187.4 99.0L163.4 99.0"/>
<path class="k19" d="M187.4 99.0L163.4 99.0"/>
<path class="k20" d="M187.4 98.3L163.4 98.3"/>
<path class="k21" d="M163.4 99.0L127.4 99.0"/>
<path class="k22" d="M163.4 99.0L127.4 99.0"/>
<path class="k23" d="M163.4 98.3L127.4 98.3"/>
<path class="k18" d="M193.4 87.6L166.3 86.0"/>
<path class="k19" d="M193.4 87.6L166.3 86.0"/>
<path class="k20" d="M193.4 86.8L166.3 85.3"/>
<path class="k21" d="M166.3 86.0L125.6 83.7"/>
<path class="k22" d="M166.3 86.0L125.6 83.7"/>
<path class="k23" d="M166.3 85.3L125.7 83.0"/>
<path class="k18" d="M185.3 100.1L163.7 100.3"/>
<path class="k19" d="M185.3 100.1L163.7 100.3"/>
<path class="k20" d="M185.3 99.4L163.7 99.5"/>
<path class="k21" d="M163.7 100.3L131.3 100.4"/>
<path class="k22" d="M163.7 100.3L131.3 100.4"/>
<path class="k23" d="M163.7 99.5L131.3 99.7"/>
<path class="k18" d="M185.8 110.2L164.7 111.1"/>
<path class="k19" d="M185.8 110.2L164.7 111.1"/>
<path class="k20" d="M185.8 109.4L164.6 110.3"/>
<path class="k21" d="M164.7 111.1L133.0 112.3"/>
<path class="k22" d="M164.7 111.1L133.0 112.3"/>
<path class="k23" d="M164.6 110.3L132.9 111.6"/>
<path class="k18" d="M185.2 95.4L164.6 94.9"/>
<path class="k19" d="M185.2 95.4L164.6 94.9"/>
<path class="k20" d="M185.2 94.7L164.6 94.2"/>
<path class="k21" d="M164.6 94.9L133.7 94.1"/>
<path class="k22" d="M164.6 94.9L133.7 94.1"/>
<path class="k23" d="M164.6 94.2L133.7 93.4"/>
<path class="k18" d="M185.3 91.7L161.4 90.1"/>
<path class="k19" d="M185.3 91.7L161.4 90.1"/>
<path class="k20" d="M185.4 90.9L161.4 89.3"/>
<path class="k21" d="M161.4 90.1L125.4 87.7"/>
<path class="k22" d="M161.4 90.1L125.4 87.7"/>
<path class="k23" d="M161.4 89.3L125.5 86.9"/>
<path class="k18" d="M186.5 106.2L164.9 106.7"/>
<path class="k19" d="M186.5 106.2L164.9 106.7"/>
<path class="k20" d="M186.4 105.4L164.9 105.9"/>
<path class="k21" d="M164.9 106.7L132.7 107.5"/>
<path class="k22" d="M164.9 106.7L132.7 107.5"/>
<path class="k23" d="M164.9 105.9L132.6 106.7"/>
<path class="k18" d="M189.2 84.3L166.1 82.5"/>
<path class="k19" d="M189.2 84.3L166.1 82.5"/>
<path class="k20" d="M189.3 83.6L166.2 81.8"/>
<path class="k21" d="M166.1 82.5L131.4 79.8"/>
<path class="k22" d="M166.1 82.5L131.4 79.8"/>
<path class="k23" d="M166.2 81.8L131.5 79.1"/>
<path class="k18" d="M193.3 91.9L166.8 90.5"/>
<path class="k19" d="M193.3 91.9L166.8 90.5"/>
<path class="k20" d="M193.3 91.2L166.9 89.7"/>
<path class="k21" d="M166.8 90.5L127.1 88.3"/>
<path class="k22" d="M166.8 90.5L127.1 88.3"/>
<path class="k23" d="M166.9 89.7L127.1 87.5"/>
<path class="k18" d="M183.4 105.8L163.0 105.7"/>
<path class="k19" d="M183.4 105.8L163.0 105.7"/>
<path class="k20" d="M183.4 105.0L163.0 104.9"/>
<path class="k24" d="M163.0 105.7L132.4 105.6"/>
<path class="k25" d="M163.0 105.7L132.4 105.6"/>
<path class="k26" d="M163.0 104.9L132.4 104.8"/>
<path class="k18" d="M179.8 106.6L160.5 107.3"/>
<path class="k19" d="M179.8 106.6L160.5 107.3"/>
<path class="k20" d="M179.8 105.9L160.5 106.5"/>
<path class="k24" d="M160.5 107.3L131.5 108.3"/>
<path class="k25" d="M160.5 107.3L131.5 108.3"/>
<path class="k26" d="M160.5 106.5L131.5 107.6"/>
<path class="k18" d="M184.8 110.2L164.2 110.4"/>
<path class="k19" d="M184.8 110.2L164.2 110.4"/>
<path class="k20" d="M184.7 109.5L164.2 109.7"/>
<path class="k21" d="M164.2 110.4L133.3 110.7"/>
<path class="k22" d="M164.2 110.4L133.3 110.7"/>
<path class="k23" d="M164.2 109.7L133.3 109.9"/>
<path class="k18" d="M182.4 103.1L161.1 103.3"/>
<path class="k19" d="M182.4 103.1L161.1 103.3"/>
<path class="k20" d="M182.4 102.3L161.1 102.5"/>
<path class="k21" d="M161.1 103.3L129.1 103.5"/>
<path class="k22" d="M161.1 103.3L129.1 103.5"/>
<path class="k23" d="M161.1 102.5L129.1 102.8"/>
<path class="k18" d="M186.3 105.6L165.3 107.3"/>
<path class="k19" d="M186.3 105.6L165.3 107.3"/>
<path class="k20" d="M186.2 104.8L165.3 106.5"/>
<path class="k24" d="M165.3 107.3L133.9 109.9"/>
<path class="k25" d="M165.3 107.3L133.9 109.9"/>
<path class="k26" d="M165.3 106.5L133.8 109.1"/>
<path class="k18" d="M184.6 90.0L162.2 87.8"/>
<path class="k19" d="M184.6 90.0L162.2 87.8"/>
<path class="k20" d="M184.7 89.2L162.2 87.0"/>
<path class="k21" d="M162.2 87.8L128.5 84.5"/>
<path class="k22" d="M162.2 87.8L128.5 84.5"/>
<path class="k23" d="M162.2 87.0L128.5 83.7"/>
<path class="k18" d="M185.2 97.3L162.5 96.6"/>
<path class="k19" d="M185.2 97.3L162.5 96.6"/>
<path class="k20" d="M185.3 96.5L162.5 95.8"/>
<path class="k24" d="M162.5 96.6L128.3 95.5"/>
<path class="k25" d="M162.5 96.6L128.3 95.5"/>
<path class="k26" d="M162.5 95.8L128.3 94.7"/>
<path class="k18" d="M191.7 95.2L165.2 93.1"/>
<path class="k19" d="M191.7 95.2L165.2 93.1"/>
<path class="k20" d="M191.8 94.5L165.3 92.3"/>
<path class="k21" d="M165.2 93.1L125.5 89.9"/>
<path class="k22" d="M165.2 93.1L125.5 89.9"/>
<path class="k23" d="M165.3 92.3L125.5 89.2"/>
<path class="k18" d="M177.5 98.9L167.1 90.2"/>
<path class="k19" d="M177.5 98.9L167.1 90.2"/>
<path class="k20" d="M178.0 98.3L167.6 89.6"/>
<path class="k24" d="M167.1 90.2L140.4 67.7"/>
<path class="k25" d="M167.1 90.2L140.4 67.7"/>
<path class="k26" d="M167.6 89.6L140.8 67.1"/>
<path class="k18" d="M178.0 93.8L168.6 86.0"/>
<path class="k19" d="M178.0 93.8L168.6 86.0"/>
<path class="k20" d="M178.5 93.3L169.1 85.4"/>
<path class="k24" d="M168.6 86.0L144.6 65.9"/>
<path class="k25" d="M168.6 86.0L144.6 65.9"/>
<path class="k26" d="M169.1 85.4L145.1 65.3"/>
<path class="k18" d="M177.6 101.5L167.3 92.9"/>
<path class="k19" d="M177.6 101.5L167.3 92.9"/>
<path class="k20" d="M178.1 100.9L167.8 92.3"/>
<path class="k24" d="M167.3 92.9L140.9 70.8"/>
<path class="k25" d="M167.3 92.9L140.9 70.8"/>
<path class="k26" d="M167.8 92.3L141.4 70.2"/>
<path class="k18" d="M183.1 109.4L171.2 99.4"/>
<path class="k19" d="M183.1 109.4L171.2 99.4"/>
<path class="k20" d="M183.5 108.8L171.6 98.8"/>
<path class="k27" d="M171.2 99.4L140.6 73.8"/>
<path class="k28" d="M171.2 99.4L140.6 73.8"/>
<path class="k29" d="M171.6 98.8L141.1 73.2"/>
<path class="k18" d="M183.4 86.1L172.9 77.4"/>
<path class="k19" d="M183.4 86.1L172.9 77.4"/>
<path class="k20" d="M183.9 85.5L173.4 76.8"/>
<path class="k27" d="M172.9 77.4L146.1 54.9"/>
<path class="k28" d="M172.9 77.4L146.1 54.9"/>
<path class="k29" d="M173.4 76.8L146.6 54.3"/>
<path class="k18" d="M177.4 101.8L167.0 93.0"/>
<path class="k19" d="M177.4 101.8L167.0 93.0"/>
<path class="k20" d="M177.9 101.2L167.5 92.4"/>
<path class="k24" d="M167.0 93.0L140.0 70.4"/>
<path class="k25" d="M167.0 93.0L140.0 70.4"/>
<path class="k26" d="M167.5 92.4L140.5 69.8"/>
<path class="k18" d="M181.9 95.4L171.2 86.4"/>
<path class="k19" d="M181.9 95.4L171.2 86.4"/>
<path class="k20" d="M182.4 94.8L171.7 85.8"/>
<path class="k24" d="M171.2 86.4L143.6 63.3"/>
<path class="k25" d="M171.2 86.4L143.6 63.3"/>
<path class="k26" d="M171.7 85.8L144.1 62.7"/>
<path class="k18" d="M184.0 85.5L175.1 78.1"/>
<path class="k19" d="M184.0 85.5L175.1 78.1"/>
<path class="k20" d="M184.5 84.9L175.6 77.5"/>
<path class="k24" d="M175.1 78.1L152.2 58.9"/>
<path class="k25" d="M175.1 78.1L152.2 58.9"/>
<path class="k26" d="M175.6 77.5L152.7 58.3"/>
<path class="k18" d="M187.7 86.9L176.4 77.5"/>
<path class="k19" d="M187.7 86.9L176.4 77.5"/>
<path class="k20" d="M188.2 86.3L176.9 76.9"/>
<path class="k27" d="M176.4 77.5L147.6 53.3"/>
<path class="k28" d="M176.4 77.5L147.6 53.3"/>
<path class="k29" d="M176.9 76.9L148.1 52.7"/>
<path class="k18" d="M185.1 80.5L176.5 73.3"/>
<path class="k19" d="M185.1 80.5L176.5 73.3"/>
<path class="k20" d="M185.6 79.9L177.0 72.7"/>
<path class="k24" d="M176.5 73.3L154.3 54.8"/>
<path class="k25" d="M176.5 73.3L154.3 54.8"/>
<path class="k26" d="M177.0 72.7L154.8 54.2"/>
<path class="k18" d="M197.1 79.3L187.2 71.0"/>
<path class="k19" d="M197.1 79.3L187.2 71.0"/>
<path class="k20" d="M197.6 78.7L187.7 70.4"/>
<path class="k24" d="M187.2 71.0L161.7 49.6"/>
<path class="k25" d="M187.2 71.0L161.7 49.6"/>
<path class="k26" d="M187.7 70.4L162.2 49.0"/>
<path class="k18" d="M172.5 101.4L163.1 93.6"/>
<path class="k19" d="M172.5 101.4L163.1 93.6"/>
<path class="k20" d="M172.9 100.8L163.6 93.0"/>
<path class="k24" d="M163.1 93.6L139.2 73.5"/>
<path class="k25" d="M163.1 93.6L139.2 73.5"/>
<path class="k26" d="M163.6 93.0L139.6 72.9"/>
<path class="k18" d="M177.8 91.0L169.5 84.0"/>
<path class="k19" d="M177.8 91.0L169.5 84.0"/>
<path class="k20" d="M178.3 90.4L170.0 83.4"/>
<path class="k24" d="M169.5 84.0L148.2 66.1"/>
<path class="k25" d="M169.5 84.0L148.2 66.1"/>
<path class="k26" d="M170.0 83.4L148.7 65.5"/>
<path class="k18" d="M187.5 84.4L178.3 76.6"/>
<path class="k19" d="M187.5 84.4L178.3 76.6"/>
<path class="k20" d="M188.0 83.8L178.8 76.1"/>
<path class="k24" d="M178.3 76.6L154.4 56.7"/>
<path class="k25" d="M178.3 76.6L154.4 56.7"/>
<path class="k26" d="M178.8 76.1L154.9 56.1"/>
<path class="k18" d="M171.4 102.0L161.3 93.6"/>
<path class="k19" d="M171.4 102.0L161.3 93.6"/>
<path class="k20" d="M171.9 101.5L161.8 93.0"/>
<path class="k24" d="M161.3 93.6L135.4 71.9"/>
<path class="k25" d="M161.3 93.6L135.4 71.9"/>
<path class="k26" d="M161.8 93.0L135.9 71.3"/>
<path class="k18" d="M189.7 84.4L179.2 75.6"/>
<path class="k19" d="M189.7 84.4L179.2 75.6"/>
<path class="k20" d="M190.2 83.8L179.7 75.0"/>
<path class="k24" d="M179.2 75.6L152.3 53.0"/>
<path class="k25" d="M179.2 75.6L152.3 53.0"/>
<path class="k26" d="M179.7 75.0L152.8 52.5"/>
<path class="k18" d="M190.4 95.8L178.7 86.0"/>
<path class="k19" d="M190.4 95.8L178.7 86.0"/>
<path class="k20" d="M190.9 95.2L179.2 85.5"/>
<path class="k27" d="M178.7 86.0L148.7 60.9"/>
<path class="k28" d="M178.7 86.0L148.7 60.9"/>
<path class="k29" d="M179.2 85.5L149.2 60.3"/>
<path class="k18" d="M190.5 82.4L181.0 74.4"/>
<path class="k19" d="M190.5 82.4L181.0 74.4"/>
<path class="k20" d="M191.0 81.8L181.4 73.8"/>
<path class="k24" d="M181.0 74.4L156.5 53.9"/>
<path class="k25" d="M181.0 74.4L156.5 53.9"/>
<path class="k26" d="M181.4 73.8L157.0 53.4"/>
<path class="k18" d="M194.7 94.8L182.8 84.8"/>
<path class="k19" d="M194.7 94.8L182.8 84.8"/>
<path class="k20" d="M195.2 94.2L183.3 84.2"/>
<path class="k24" d="M182.8 84.8L152.2 59.2"/>
<path class="k25" d="M182.8 84.8L152.2 59.2"/>
<path class="k26" d="M183.3 84.2L152.7 58.6"/>
<path class="k18" d="M188.5 86.5L178.7 78.3"/>
<path class="k19" d="M188.5 86.5L178.7 78.3"/>
<path class="k20" d="M189.0 85.9L179.2 77.7"/>
<path class="k27" d="M178.7 78.3L153.4 57.1"/>
<path class="k28" d="M178.7 78.3L153.4 57.1"/>
<path class="k29" d="M179.2 77.7L153.9 56.5"/>
<path class="k18" d="M188.6 97.2L176.9 87.3"/>
<path class="k19" d="M188.6 97.2L176.9 87.3"/>
<path class="k20" d="M189.1 96.6L177.4 86.7"/>
<path class="k27" d="M176.9 87.3L146.7 62.0"/>
<path class="k28" d="M176.9 87.3L146.7 62.0"/>
<path class="k29" d="M177.4 86.7L147.2 61.5"/>
<path class="k18" d="M190.1 72.1L181.6 65.0"/>
<path class="k19" d="M190.1 72.1L181.6 65.0"/>
<path class="k20" d="M190.6 71.5L182.1 64.4"/>
<path class="k24" d="M181.6 65.0L159.8 46.7"/>
<path class="k25" d="M181.6 65.0L159.8 46.7"/>
<path class="k26" d="M182.1 64.4L160.3 46.1"/>
<path class="k18" d="M169.6 102.7L161.0 95.5"/>
<path class="k19" d="M169.6 102.7L161.0 95.5"/>
<path class="k20" d="M170.1 102.1L161.5 94.9"/>
<path class="k24" d="M161.0 95.5L138.7 76.8"/>
<path class="k25" d="M161.0 95.5L138.7 76.8"/>
<path class="k26" d="M161.5 94.9L139.2 76.2"/>
<path class="k18" d="M185.2 70.0L176.7 62.9"/>
<path class="k19" d="M185.2 70.0L176.7 62.9"/>
<path class="k20" d="M185.7 69.4L177.2 62.3"/>
<path class="k24" d="M176.7 62.9L154.9 44.6"/>
<path class="k25" d="M176.7 62.9L154.9 44.6"/>
<path class="k26" d="M177.2 62.3L155.4 44.0"/>
<path class="k18" d="M189.0 93.7L178.1 84.6"/>
<path class="k19" d="M189.0 93.7L178.1 84.6"/>
<path class="k20" d="M189.5 93.1L178.6 84.0"/>
<path class="k27" d="M178.1 84.6L150.0 61.0"/>
<path class="k28" d="M178.1 84.6L150.0 61.0"/>
<path class="k29" d="M178.6 84.0L150.5 60.4"/>
<path class="k18" d="M180.8 92.0L171.6 84.4"/>
<path class="k19" d="M180.8 92.0L171.6 84.4"/>
<path class="k20" d="M181.3 91.4L172.1 83.8"/>
<path class="k24" d="M171.6 84.4L148.1 64.6"/>
<path class="k25" d="M171.6 84.4L148.1 64.6"/>
<path class="k26" d="M172.1 83.8L148.6 64.0"/>
<path class="k18" d="M186.8 86.1L177.0 77.8"/>
<path class="k19" d="M186.8 86.1L177.0 77.8"/>
<path class="k20" d="M187.3 85.5L177.5 77.2"/>
<path class="k27" d="M177.0 77.8L151.7 56.6"/>
<path class="k28" d="M177.0 77.8L151.7 56.6"/>
<path class="k29" d="M177.5 77.2L152.2 56.1"/>
<path class="k18" d="M186.6 82.2L177.3 74.4"/>
<path class="k19" d="M186.6 82.2L177.3 74.4"/>
<path class="k20" d="M187.1 81.6L177.8 73.9"/>
<path class="k24" d="M177.3 74.4L153.5 54.5"/>
<path class="k25" d="M177.3 74.4L153.5 54.5"/>
<path class="k26" d="M177.8 73.9L154.0 53.9"/>
<path class="k18" d="M190.0 78.0L179.9 69.5"/>
<path class="k19" d="M190.0 78.0L179.9 69.5"/>
<path class="k20" d="M190.5 77.4L180.4 68.9"/>
<path class="k24" d="M179.9 69.5L153.9 47.7"/>
<path class="k25" d="M179.9 69.5L153.9 47.7"/>
<path class="k26" d="M180.4 68.9L154.4 47.1"/>
<path class="k18" d="M193.8 86.8L182.7 77.6"/>
<path class="k19" d="M193.8 86.8L182.7 77.6"/>
<path class="k20" d="M194.3 86.3L183.2 77.0"/>
<path class="k24" d="M182.7 77.6L154.4 53.9"/>
<path class="k25" d="M182.7 77.6L154.4 53.9"/>
<path class="k26" d="M183.2 77.0L154.9 53.3"/>
<path class="k18" d="M190.7 86.4L180.6 77.9"/>
<path class="k19" d="M190.7 86.4L180.6 77.9"/>
<path class="k20" d="M191.2 85.8L181.1 77.3"/>
<path class="k27" d="M180.6 77.9L154.5 56.1"/>
<path class="k28" d="M180.6 77.9L154.5 56.1"/>
<path class="k29" d="M181.1 77.3L155.0 55.5"/>
<path class="k18" d="M195.0 91.1L183.6 81.5"/>
<path class="k19" d="M195.0 91.1L183.6 81.5"/>
<path class="k20" d="M195.5 90.5L184.1 81.0"/>
<path class="k24" d="M183.6 81.5L154.3 57.0"/>
<path class="k25" d="M183.6 81.5L154.3 57.0"/>
<path class="k26" d="M184.1 81.0L154.8 56.4"/>
<path class="k18" d="M189.5 75.2L180.2 67.5"/>
<path class="k19" d="M189.5 75.2L180.2 67.5"/>
<path class="k20" d="M190.0 74.6L180.7 66.9"/>
<path class="k24" d="M180.2 67.5L156.5 47.5"/>
<path class="k25" d="M180.2 67.5L156.5 47.5"/>
<path class="k26" d="M180.7 66.9L157.0 47.0"/>
<path class="k18" d="M187.2 89.2L176.9 80.6"/>
<path class="k19" d="M187.2 89.2L176.9 80.6"/>
<path class="k20" d="M187.7 88.6L177.4 80.0"/>
<path class="k27" d="M176.9 80.6L150.4 58.4"/>
<path class="k28" d="M176.9 80.6L150.4 58.4"/>
<path class="k29" d="M177.4 80.0L150.9 57.8"/>
<path class="k18" d="M188.8 94.6L177.5 85.1"/>
<path class="k19" d="M188.8 94.6L177.5 85.1"/>
<path class="k20" d="M189.3 94.0L178.0 84.5"/>
<path class="k27" d="M177.5 85.1L148.4 60.7"/>
<path class="k28" d="M177.5 85.1L148.4 60.7"/>
<path class="k29" d="M178.0 84.5L148.9 60.1"/>
<path class="k18" d="M190.7 75.4L182.2 68.2"/>
<path class="k19" d="M190.7 75.4L182.2 68.2"/>
<path class="k20" d="M191.2 74.8L182.7 67.6"/>
<path class="k27" d="M182.2 68.2L160.1 49.7"/>
<path class="k28" d="M182.2 68.2L160.1 49.7"/>
<path class="k29" d="M182.7 67.6L160.6 49.1"/>
<path class="k18" d="M196.2 85.9L184.5 76.1"/>
<path class="k19" d="M196.2 85.9L184.5 76.1"/>
<path class="k20" d="M196.7 85.3L185.0 75.5"/>
<path class="k24" d="M184.5 76.1L154.4 50.9"/>
<path class="k25" d="M184.5 76.1L154.4 50.9"/>
<path class="k26" d="M185.0 75.5L154.9 50.3"/>
<path class="k18" d="M172.3 101.5L163.0 93.8"/>
<path class="k19" d="M172.3 101.5L163.0 93.8"/>
<path class="k20" d="M172.8 100.9L163.5 93.2"/>
<path class="k24" d="M163.0 93.8L139.3 73.9"/>
<path class="k25" d="M163.0 93.8L139.3 73.9"/>
<path class="k26" d="M163.5 93.2L139.8 73.3"/>
<path class="k18" d="M184.3 90.5L173.7 81.6"/>
<path class="k19" d="M184.3 90.5L173.7 81.6"/>
<path class="k20" d="M184.8 89.9L174.2 81.0"/>
<path class="k24" d="M173.7 81.6L146.2 58.6"/>
<path class="k25" d="M173.7 81.6L146.2 58.6"/>
<path class="k26" d="M174.2 81.0L146.7 58.0"/>
<path class="k18" d="M175.4 95.1L165.8 87.1"/>
<path class="k19" d="M175.4 95.1L165.8 87.1"/>
<path class="k20" d="M175.9 94.5L166.3 86.5"/>
<path class="k24" d="M165.8 87.1L141.2 66.5"/>
<path class="k25" d="M165.8 87.1L141.2 66.5"/>
<path class="k26" d="M166.3 86.5L141.7 65.9"/>
<path class="k18" d="M185.4 82.9L176.1 75.1"/>
<path class="k19" d="M185.4 82.9L176.1 75.1"/>
<path class="k20" d="M185.9 82.4L176.5 74.5"/>
<path class="k27" d="M176.1 75.1L151.9 54.9"/>
<path class="k28" d="M176.1 75.1L151.9 54.9"/>
<path class="k29" d="M176.5 74.5L152.4 54.3"/>
<path class="k18" d="M178.3 87.1L169.9 80.1"/>
<path class="k19" d="M178.3 87.1L169.9 80.1"/>
<path class="k20" d="M178.8 86.6L170.4 79.6"/>
<path class="k24" d="M169.9 80.1L148.4 62.2"/>
<path class="k25" d="M169.9 80.1L148.4 62.2"/>
<path class="k26" d="M170.4 79.6L148.9 61.6"/>
<path class="k18" d="M179.2 94.3L169.4 86.1"/>
<path class="k19" d="M179.2 94.3L169.4 86.1"/>
<path class="k20" d="M179.7 93.7L169.9 85.5"/>
<path class="k24" d="M169.4 86.1L144.1 64.9"/>
<path class="k25" d="M169.4 86.1L144.1 64.9"/>
<path class="k26" d="M169.9 85.5L144.6 64.3"/>
<path class="k18" d="M175.4 90.0L166.2 82.3"/>
<path class="k19" d="M175.4 90.0L166.2 82.3"/>
<path class="k20" d="M175.9 89.4L166.7 81.7"/>
<path class="k24" d="M166.2 82.3L142.5 62.4"/>
<path class="k25" d="M166.2 82.3L142.5 62.4"/>
<path class="k26" d="M166.7 81.7L143.0 61.8"/>
<path class="k18" d="M183.4 85.2L173.8 77.2"/>
<path class="k19" d="M183.4 85.2L173.8 77.2"/>
<path class="k20" d="M183.9 84.6L174.3 76.6"/>
<path class="k24" d="M173.8 77.2L149.2 56.5"/>
<path class="k25" d="M173.8 77.2L149.2 56.5"/>
<path class="k26" d="M174.3 76.6L149.7 55.9"/>
<path class="k18" d="M183.3 85.9L174.5 78.5"/>
<path class="k19" d="M183.3 85.9L174.5 78.5"/>
<path class="k20" d="M183.8 85.3L175.0 77.9"/>
<path class="k24" d="M174.5 78.5L151.9 59.6"/>
<path class="k25" d="M174.5 78.5L151.9 59.6"/>
<path class="k26" d="M175.0 77.9L152.4 59.0"/>
<path class="k18" d="M184.1 90.7L173.4 81.8"/>
<path class="k19" d="M184.1 90.7L173.4 81.8"/>
<path class="k20" d="M184.6 90.1L173.9 81.2"/>
<path class="k24" d="M173.4 81.8L145.9 58.7"/>
<path class="k25" d="M173.4 81.8L145.9 58.7"/>
<path class="k26" d="M173.9 81.2L146.4 58.1"/>
<path class="k18" d="M175.4 87.1L167.0 80.1"/>
<path class="k19" d="M175.4 87.1L167.0 80.1"/>
<path class="k20" d="M175.9 86.5L167.5 79.5"/>
<path class="k27" d="M167.0 80.1L145.5 62.1"/>
<path class="k28" d="M167.0 80.1L145.5 62.1"/>
<path class="k29" d="M167.5 79.5L146.0 61.5"/>
<path class="k18" d="M175.7 87.3L166.8 79.8"/>
<path class="k19" d="M175.7 87.3L166.8 79.8"/>
<path class="k20" d="M176.2 86.7L167.3 79.2"/>
<path class="k27" d="M166.8 79.8L143.7 60.5"/>
<path class="k28" d="M166.8 79.8L143.7 60.5"/>
<path class="k29" d="M167.3 79.2L144.2 59.9"/>
<path class="k18" d="M195.0 85.4L183.8 76.0"/>
<path class="k19" d="M195.0 85.4L183.8 76.0"/>
<path class="k20" d="M195.5 84.8L184.3 75.4"/>
<path class="k24" d="M183.8 76.0L155.2 52.0"/>
<path class="k25" d="M183.8 76.0L155.2 52.0"/>
<path class="k26" d="M184.3 75.4L155.7 51.4"/>
<path class="k18" d="M186.8 92.1L176.1 83.2"/>
<path class="k19" d="M186.8 92.1L176.1 83.2"/>
<path class="k20" d="M187.3 91.5L176.6 82.6"/>
<path class="k24" d="M176.1 83.2L148.8 60.3"/>
<path class="k25" d="M176.1 83.2L148.8 60.3"/>
<path class="k26" d="M176.6 82.6L149.3 59.7"/>
<path class="k18" d="M182.5 86.1L173.5 78.6"/>
<path class="k19" d="M182.5 86.1L173.5 78.6"/>
<path class="k20" d="M183.0 85.5L174.0 78.0"/>
<path class="k24" d="M173.5 78.6L150.3 59.2"/>
<path class="k25" d="M173.5 78.6L150.3 59.2"/>
<path class="k26" d="M174.0 78.0L150.8 58.6"/>
<path class="k18" d="M178.5 102.2L168.2 93.6"/>
<path class="k19" d="M178.5 102.2L168.2 93.6"/>
<path class="k20" d="M178.9 101.6L168.7 93.0"/>
<path class="k27" d="M168.2 93.6L141.7 71.4"/>
<path class="k28" d="M168.2 93.6L141.7 71.4"/>
<path class="k29" d="M168.7 93.0L142.2 70.8"/>
<path class="k18" d="M179.3 93.9L168.7 85.0"/>
<path class="k19" d="M179.3 93.9L168.7 85.0"/>
<path class="k20" d="M179.8 93.3L169.2 84.4"/>
<path class="k27" d="M168.7 85.0L141.5 62.2"/>
<path class="k28" d="M168.7 85.0L141.5 62.2"/>
<path class="k29" d="M169.2 84.4L142.0 61.6"/>
<path class="k18" d="M179.3 89.4L170.1 81.7"/>
<path class="k19" d="M179.3 89.4L170.1 81.7"/>
<path class="k20" d="M179.8 88.8L170.6 81.1"/>
<path class="k24" d="M170.1 81.7L146.6 62.0"/>
<path class="k25" d="M170.1 81.7L146.6 62.0"/>
<path class="k26" d="M170.6 81.1L147.1 61.4"/>
<polygon points="209,93 213,94 214,106 213,119 210,120 208,107" fill="#ffffff"/>
<polygon points="209,148 213,151 212,172 196,179 199,165" fill="#ffffff"/>
<path class="k30" d="M221.0 172.0L195.0 187.0"/>
<path class="k31" d="M221.0 172.0L195.0 187.0"/>
<path class="k32" d="M220.5 171.1L194.5 186.1"/>
<path class="k30" d="M221.0 175.0L197.0 189.2"/>
<path class="k31" d="M221.0 175.0L197.0 189.2"/>
<path class="k32" d="M220.5 174.1L196.5 188.3"/>
<path class="k30" d="M221.0 178.0L199.0 191.4"/>
<path class="k31" d="M221.0 178.0L199.0 191.4"/>
<path class="k32" d="M220.5 177.1L198.5 190.5"/>
<path class="k30" d="M221.0 181.0L201.0 193.6"/>
<path class="k31" d="M221.0 181.0L201.0 193.6"/>
<path class="k32" d="M220.5 180.1L200.5 192.7"/>
<path class="k30" d="M221.0 184.0L203.0 195.8"/>
<path class="k31" d="M221.0 184.0L203.0 195.8"/>
<path class="k32" d="M220.4 183.1L202.4 194.9"/>
<path class="k0" d="M236.0 132.0L245.0 151.0"/>
<path class="k1" d="M236.0 132.0L245.0 151.0"/>
<path class="k2" d="M234.8 132.6L243.8 151.6"/>
<path class="k33" d="M245.0 151.0L259.0 172.0"/>
<path class="k34" d="M245.0 151.0L259.0 172.0"/>
<path class="k35" d="M243.9 151.8L257.9 172.8"/>
<path class="k33" d="M259.0 172.0L250.0 196.0"/>
<path class="k34" d="M259.0 172.0L250.0 196.0"/>
<path class="k35" d="M257.7 171.5L248.7 195.5"/>
<path class="k0" d="M250.0 196.0L244.0 211.0"/>
<path class="k1" d="M250.0 196.0L244.0 211.0"/>
<path class="k2" d="M248.7 195.5L242.7 210.5"/>
<path class="k0" d="M231.0 132.0L240.0 151.0"/>
<path class="k1" d="M231.0 132.0L240.0 151.0"/>
<path class="k2" d="M229.8 132.6L238.8 151.6"/>
<path class="k33" d="M240.0 151.0L254.0 172.0"/>
<path class="k34" d="M240.0 151.0L254.0 172.0"/>
<path class="k35" d="M238.9 151.8L252.9 172.8"/>
<path class="k33" d="M254.0 172.0L245.0 196.0"/>
<path class="k34" d="M254.0 172.0L245.0 196.0"/>
<path class="k35" d="M252.7 171.5L243.7 195.5"/>
<path class="k0" d="M245.0 196.0L239.0 211.0"/>
<path class="k1" d="M245.0 196.0L239.0 211.0"/>
<path class="k2" d="M243.7 195.5L237.7 210.5"/>
<path class="k0" d="M226.0 132.0L235.0 151.0"/>
<path class="k1" d="M226.0 132.0L235.0 151.0"/>
<path class="k2" d="M224.8 132.6L233.8 151.6"/>
<path class="k33" d="M235.0 151.0L249.0 172.0"/>
<path class="k34" d="M235.0 151.0L249.0 172.0"/>
<path class="k35" d="M233.9 151.8L247.9 172.8"/>
<path class="k33" d="M249.0 172.0L240.0 196.0"/>
<path class="k34" d="M249.0 172.0L240.0 196.0"/>
<path class="k35" d="M247.7 171.5L238.7 195.5"/>
<path class="k0" d="M240.0 196.0L234.0 211.0"/>
<path class="k1" d="M240.0 196.0L234.0 211.0"/>
<path class="k2" d="M238.7 195.5L232.7 210.5"/>
<path class="k0" d="M221.0 132.0L230.0 151.0"/>
<path class="k1" d="M221.0 132.0L230.0 151.0"/>
<path class="k2" d="M219.8 132.6L228.8 151.6"/>
<path class="k33" d="M230.0 151.0L244.0 172.0"/>
<path class="k34" d="M230.0 151.0L244.0 172.0"/>
<path class="k35" d="M228.9 151.8L242.9 172.8"/>
<path class="k33" d="M244.0 172.0L235.0 196.0"/>
<path class="k34" d="M244.0 172.0L235.0 196.0"/>
<path class="k35" d="M242.7 171.5L233.7 195.5"/>
<path class="k0" d="M235.0 196.0L229.0 211.0"/>
<path class="k1" d="M235.0 196.0L229.0 211.0"/>
<path class="k2" d="M233.7 195.5L227.7 210.5"/>
<path class="k0" d="M216.0 132.0L225.0 151.0"/>
<path class="k1" d="M216.0 132.0L225.0 151.0"/>
<path class="k2" d="M214.8 132.6L223.8 151.6"/>
<path class="k33" d="M225.0 151.0L239.0 172.0"/>
<path class="k34" d="M225.0 151.0L239.0 172.0"/>
<path class="k35" d="M223.9 151.8L237.9 172.8"/>
<path class="k33" d="M239.0 172.0L230.0 196.0"/>
<path class="k34" d="M239.0 172.0L230.0 196.0"/>
<path class="k35" d="M237.7 171.5L228.7 195.5"/>
<path class="k0" d="M230.0 196.0L224.0 211.0"/>
<path class="k1" d="M230.0 196.0L224.0 211.0"/>
<path class="k2" d="M228.7 195.5L222.7 210.5"/>
<path class="k0" d="M211.0 132.0L220.0 151.0"/>
<path class="k1" d="M211.0 132.0L220.0 151.0"/>
<path class="k2" d="M209.8 132.6L218.8 151.6"/>
<path class="k33" d="M220.0 151.0L234.0 172.0"/>
<path class="k34" d="M220.0 151.0L234.0 172.0"/>
<path class="k35" d="M218.9 151.8L232.9 172.8"/>
<path class="k33" d="M234.0 172.0L225.0 196.0"/>
<path class="k34" d="M234.0 172.0L225.0 196.0"/>
<path class="k35" d="M232.7 171.5L223.7 195.5"/>
<path class="k0" d="M225.0 196.0L219.0 211.0"/>
<path class="k1" d="M225.0 196.0L219.0 211.0"/>
<path class="k2" d="M223.7 195.5L217.7 210.5"/>
<path class="k18" d="M241.7 198.1L230.9 210.2"/>
<path class="k19" d="M241.7 198.1L230.9 210.2"/>
<path class="k20" d="M241.1 197.6L230.3 209.7"/>
<path class="k21" d="M230.9 210.2L205.7 238.5"/>
<path class="k22" d="M230.9 210.2L205.7 238.5"/>
<path class="k23" d="M230.3 209.7L205.1 238.0"/>
<path class="k18" d="M221.7 205.3L227.3 218.3"/>
<path class="k19" d="M221.7 205.3L227.3 218.3"/>
<path class="k20" d="M221.0 205.6L226.6 218.6"/>
<path class="k21" d="M227.3 218.3L240.3 248.8"/>
<path class="k22" d="M227.3 218.3L240.3 248.8"/>
<path class="k23" d="M226.6 218.6L239.6 249.1"/>
<path class="k18" d="M237.6 210.3L234.5 220.8"/>
<path class="k19" d="M237.6 210.3L234.5 220.8"/>
<path class="k20" d="M236.9 210.1L233.8 220.5"/>
<path class="k21" d="M234.5 220.8L227.3 245.1"/>
<path class="k22" d="M234.5 220.8L227.3 245.1"/>
<path class="k23" d="M233.8 220.5L226.5 244.8"/>
<path class="k18" d="M211.2 202.6L211.5 216.9"/>
<path class="k19" d="M211.2 202.6L211.5 216.9"/>
<path class="k20" d="M210.4 202.6L210.7 216.9"/>
<path class="k21" d="M211.5 216.9L212.3 250.4"/>
<path class="k22" d="M211.5 216.9L212.3 250.4"/>
<path class="k23" d="M210.7 216.9L211.5 250.4"/>
<path class="k18" d="M218.0 198.2L217.3 210.4"/>
<path class="k19" d="M218.0 198.2L217.3 210.4"/>
<path class="k20" d="M217.3 198.1L216.5 210.3"/>
<path class="k24" d="M217.3 210.4L215.5 238.9"/>
<path class="k25" d="M217.3 210.4L215.5 238.9"/>
<path class="k26" d="M216.5 210.3L214.7 238.8"/>
<path class="k18" d="M205.3 214.9L204.1 224.3"/>
<path class="k19" d="M205.3 214.9L204.1 224.3"/>
<path class="k20" d="M204.5 214.8L203.4 224.2"/>
<path class="k24" d="M204.1 224.3L201.4 246.1"/>
<path class="k25" d="M204.1 224.3L201.4 246.1"/>
<path class="k26" d="M203.4 224.2L200.6 246.0"/>
<path class="k18" d="M230.8 200.6L233.8 212.6"/>
<path class="k19" d="M230.8 200.6L233.8 212.6"/>
<path class="k20" d="M230.1 200.8L233.1 212.8"/>
<path class="k21" d="M233.8 212.6L240.9 240.5"/>
<path class="k22" d="M233.8 212.6L240.9 240.5"/>
<path class="k23" d="M233.1 212.8L240.2 240.7"/>
<path class="k18" d="M238.7 201.0L236.5 208.3"/>
<path class="k19" d="M238.7 201.0L236.5 208.3"/>
<path class="k20" d="M237.9 200.8L235.7 208.1"/>
<path class="k21" d="M236.5 208.3L231.3 225.3"/>
<path class="k22" d="M236.5 208.3L231.3 225.3"/>
<path class="k23" d="M235.7 208.1L230.6 225.1"/>
<path class="k18" d="M211.9 203.7L222.7 216.2"/>
<path class="k19" d="M211.9 203.7L222.7 216.2"/>
<path class="k20" d="M211.3 204.2L222.1 216.7"/>
<path class="k24" d="M222.7 216.2L247.8 245.5"/>
<path class="k25" d="M222.7 216.2L247.8 245.5"/>
<path class="k26" d="M222.1 216.7L247.2 246.0"/>
<path class="k18" d="M221.9 211.0L227.9 220.6"/>
<path class="k19" d="M221.9 211.0L227.9 220.6"/>
<path class="k20" d="M221.2 211.4L227.3 221.0"/>
<path class="k21" d="M227.9 220.6L242.0 242.8"/>
<path class="k22" d="M227.9 220.6L242.0 242.8"/>
<path class="k23" d="M227.3 221.0L241.4 243.2"/>
<path class="k18" d="M243.2 210.3L241.0 223.1"/>
<path class="k19" d="M243.2 210.3L241.0 223.1"/>
<path class="k20" d="M242.5 210.2L240.2 222.9"/>
<path class="k24" d="M241.0 223.1L235.8 252.9"/>
<path class="k25" d="M241.0 223.1L235.8 252.9"/>
<path class="k26" d="M240.2 222.9L235.0 252.8"/>
<path class="k18" d="M225.0 210.7L224.0 219.4"/>
<path class="k19" d="M225.0 210.7L224.0 219.4"/>
<path class="k20" d="M224.2 210.7L223.2 219.3"/>
<path class="k21" d="M224.0 219.4L221.8 239.5"/>
<path class="k22" d="M224.0 219.4L221.8 239.5"/>
<path class="k23" d="M223.2 219.3L221.0 239.4"/>
<path class="k18" d="M222.6 201.5L230.6 214.3"/>
<path class="k19" d="M222.6 201.5L230.6 214.3"/>
<path class="k20" d="M221.9 201.9L230.0 214.7"/>
<path class="k21" d="M230.6 214.3L249.4 244.2"/>
<path class="k22" d="M230.6 214.3L249.4 244.2"/>
<path class="k23" d="M230.0 214.7L248.7 244.6"/>
<path class="k18" d="M226.3 202.3L227.1 213.2"/>
<path class="k19" d="M226.3 202.3L227.1 213.2"/>
<path class="k20" d="M225.5 202.4L226.3 213.2"/>
<path class="k21" d="M227.1 213.2L228.9 238.5"/>
<path class="k22" d="M227.1 213.2L228.9 238.5"/>
<path class="k23" d="M226.3 213.2L228.2 238.6"/>
<path class="k18" d="M226.3 205.1L232.9 212.2"/>
<path class="k19" d="M226.3 205.1L232.9 212.2"/>
<path class="k20" d="M225.7 205.6L232.3 212.7"/>
<path class="k21" d="M232.9 212.2L248.4 228.8"/>
<path class="k22" d="M232.9 212.2L248.4 228.8"/>
<path class="k23" d="M232.3 212.7L247.8 229.3"/>
<path class="k18" d="M203.2 206.9L216.5 215.7"/>
<path class="k19" d="M203.2 206.9L216.5 215.7"/>
<path class="k20" d="M203.6 206.3L216.9 215.1"/>
<path class="k24" d="M216.5 215.7L247.6 236.3"/>
<path class="k25" d="M216.5 215.7L247.6 236.3"/>
<path class="k26" d="M216.9 215.1L248.0 235.6"/>
<path class="k18" d="M228.8 209.2L224.9 222.6"/>
<path class="k19" d="M228.8 209.2L224.9 222.6"/>
<path class="k20" d="M228.0 209.0L224.2 222.4"/>
<path class="k21" d="M224.9 222.6L216.0 253.8"/>
<path class="k22" d="M224.9 222.6L216.0 253.8"/>
<path class="k23" d="M224.2 222.4L215.3 253.6"/>
<path class="k18" d="M234.7 210.0L227.2 218.2"/>
<path class="k19" d="M234.7 210.0L227.2 218.2"/>
<path class="k20" d="M234.2 209.5L226.7 217.7"/>
<path class="k21" d="M227.2 218.2L209.7 237.3"/>
<path class="k22" d="M227.2 218.2L209.7 237.3"/>
<path class="k23" d="M226.7 217.7L209.1 236.8"/>
<path class="k18" d="M209.9 210.4L209.0 218.0"/>
<path class="k19" d="M209.9 210.4L209.0 218.0"/>
<path class="k20" d="M209.1 210.3L208.2 217.9"/>
<path class="k21" d="M209.0 218.0L206.9 235.6"/>
<path class="k22" d="M209.0 218.0L206.9 235.6"/>
<path class="k23" d="M208.2 217.9L206.1 235.6"/>
<path class="k18" d="M212.8 203.1L221.7 211.9"/>
<path class="k19" d="M212.8 203.1L221.7 211.9"/>
<path class="k20" d="M213.4 202.6L222.2 211.3"/>
<path class="k21" d="M221.7 211.9L242.2 232.3"/>
<path class="k22" d="M221.7 211.9L242.2 232.3"/>
<path class="k23" d="M222.2 211.3L242.8 231.7"/>
<path class="k18" d="M213.6 201.0L210.5 212.6"/>
<path class="k19" d="M213.6 201.0L210.5 212.6"/>
<path class="k20" d="M212.9 200.8L209.8 212.4"/>
<path class="k21" d="M210.5 212.6L203.3 239.6"/>
<path class="k22" d="M210.5 212.6L203.3 239.6"/>
<path class="k23" d="M209.8 212.4L202.6 239.4"/>
<path class="k18" d="M242.2 213.8L237.0 222.6"/>
<path class="k19" d="M242.2 213.8L237.0 222.6"/>
<path class="k20" d="M241.5 213.4L236.4 222.2"/>
<path class="k24" d="M237.0 222.6L224.9 243.0"/>
<path class="k25" d="M237.0 222.6L224.9 243.0"/>
<path class="k26" d="M236.4 222.2L224.3 242.6"/>
<path class="k18" d="M203.2 207.6L209.5 215.8"/>
<path class="k19" d="M203.2 207.6L209.5 215.8"/>
<path class="k20" d="M202.6 208.1L208.8 216.2"/>
<path class="k21" d="M209.5 215.8L224.0 234.7"/>
<path class="k22" d="M209.5 215.8L224.0 234.7"/>
<path class="k23" d="M208.8 216.2L223.4 235.2"/>
<path class="k18" d="M205.3 205.2L212.7 219.2"/>
<path class="k19" d="M205.3 205.2L212.7 219.2"/>
<path class="k20" d="M204.6 205.5L212.0 219.5"/>
<path class="k21" d="M212.7 219.2L229.9 251.8"/>
<path class="k22" d="M212.7 219.2L229.9 251.8"/>
<path class="k23" d="M212.0 219.5L229.3 252.2"/>
<path class="k18" d="M205.6 213.9L209.4 223.6"/>
<path class="k19" d="M205.6 213.9L209.4 223.6"/>
<path class="k20" d="M204.8 214.2L208.7 223.9"/>
<path class="k24" d="M209.4 223.6L218.4 246.3"/>
<path class="k25" d="M209.4 223.6L218.4 246.3"/>
<path class="k26" d="M208.7 223.9L217.6 246.6"/>
<path class="k18" d="M220.2 214.2L222.4 219.5"/>
<path class="k19" d="M220.2 214.2L222.4 219.5"/>
<path class="k20" d="M219.5 214.5L221.7 219.8"/>
<path class="k21" d="M222.4 219.5L227.4 231.6"/>
<path class="k22" d="M222.4 219.5L227.4 231.6"/>
<path class="k23" d="M221.7 219.8L226.7 231.9"/>
<path class="k18" d="M239.5 203.7L242.0 216.1"/>
<path class="k19" d="M239.5 203.7L242.0 216.1"/>
<path class="k20" d="M238.8 203.8L241.3 216.3"/>
<path class="k24" d="M242.0 216.1L247.9 245.3"/>
<path class="k25" d="M242.0 216.1L247.9 245.3"/>
<path class="k26" d="M241.3 216.3L247.2 245.4"/>
<path class="k18" d="M238.3 208.8L242.0 221.5"/>
<path class="k19" d="M238.3 208.8L242.0 221.5"/>
<path class="k20" d="M237.5 209.0L241.2 221.7"/>
<path class="k21" d="M242.0 221.5L250.6 251.1"/>
<path class="k22" d="M242.0 221.5L250.6 251.1"/>
<path class="k23" d="M241.2 221.7L249.9 251.3"/>
<path class="k18" d="M231.7 199.6L227.4 208.2"/>
<path class="k19" d="M231.7 199.6L227.4 208.2"/>
<path class="k20" d="M231.0 199.2L226.7 207.9"/>
<path class="k21" d="M227.4 208.2L217.3 228.5"/>
<path class="k22" d="M227.4 208.2L217.3 228.5"/>
<path class="k23" d="M226.7 207.9L216.6 228.1"/>
<path class="k18" d="M232.6 204.3L235.9 217.6"/>
<path class="k19" d="M232.6 204.3L235.9 217.6"/>
<path class="k20" d="M231.9 204.5L235.1 217.8"/>
<path class="k24" d="M235.9 217.6L243.5 248.7"/>
<path class="k25" d="M235.9 217.6L243.5 248.7"/>
<path class="k26" d="M235.1 217.8L242.7 248.9"/>
<path class="k18" d="M231.6 213.7L231.1 221.8"/>
<path class="k19" d="M231.6 213.7L231.1 221.8"/>
<path class="k20" d="M230.9 213.6L230.4 221.8"/>
<path class="k21" d="M231.1 221.8L229.9 240.9"/>
<path class="k22" d="M231.1 221.8L229.9 240.9"/>
<path class="k23" d="M230.4 221.8L229.2 240.8"/>
<path class="k18" d="M223.6 203.1L231.8 214.1"/>
<path class="k19" d="M223.6 203.1L231.8 214.1"/>
<path class="k20" d="M223.0 203.5L231.2 214.6"/>
<path class="k21" d="M231.8 214.1L250.9 239.9"/>
<path class="k22" d="M231.8 214.1L250.9 239.9"/>
<path class="k23" d="M231.2 214.6L250.3 240.4"/>
<path class="k18" d="M215.6 202.8L224.2 208.9"/>
<path class="k19" d="M215.6 202.8L224.2 208.9"/>
<path class="k20" d="M216.0 202.2L224.6 208.3"/>
<path class="k24" d="M224.2 208.9L244.2 223.2"/>
<path class="k25" d="M224.2 208.9L244.2 223.2"/>
<path class="k26" d="M224.6 208.3L244.7 222.6"/>
<path class="k18" d="M238.4 199.8L234.7 212.2"/>
<path class="k19" d="M238.4 199.8L234.7 212.2"/>
<path class="k20" d="M237.7 199.6L234.0 212.0"/>
<path class="k24" d="M234.7 212.2L226.3 241.1"/>
<path class="k25" d="M234.7 212.2L226.3 241.1"/>
<path class="k26" d="M234.0 212.0L225.5 240.9"/>
<path class="k18" d="M233.3 205.7L231.3 212.1"/>
<path class="k19" d="M233.3 205.7L231.3 212.1"/>
<path class="k20" d="M232.6 205.5L230.5 211.8"/>
<path class="k21" d="M231.3 212.1L226.5 226.8"/>
<path class="k22" d="M231.3 212.1L226.5 226.8"/>
<path class="k23" d="M230.5 211.8L225.8 226.5"/>
<path class="k18" d="M228.5 206.1L222.3 217.7"/>
<path class="k19" d="M228.5 206.1L222.3 217.7"/>
<path class="k20" d="M227.8 205.8L221.7 217.3"/>
<path class="k21" d="M222.3 217.7L208.0 244.7"/>
<path class="k22" d="M222.3 217.7L208.0 244.7"/>
<path class="k23" d="M221.7 217.3L207.4 244.4"/>
<path class="k18" d="M245.9 207.1L247.7 215.7"/>
<path class="k19" d="M245.9 207.1L247.7 215.7"/>
<path class="k20" d="M245.2 207.2L246.9 215.8"/>
<path class="k21" d="M247.7 215.7L251.7 235.8"/>
<path class="k22" d="M247.7 215.7L251.7 235.8"/>
<path class="k23" d="M246.9 215.8L251.0 236.0"/>
<path class="k18" d="M214.6 211.3L219.9 217.6"/>
<path class="k19" d="M214.6 211.3L219.9 217.6"/>
<path class="k20" d="M214.0 211.8L219.4 218.1"/>
<path class="k21" d="M219.9 217.6L232.4 232.3"/>
<path class="k22" d="M219.9 217.6L232.4 232.3"/>
<path class="k23" d="M219.4 218.1L231.9 232.8"/>
<path class="k18" d="M222.6 204.2L229.3 213.7"/>
<path class="k19" d="M222.6 204.2L229.3 213.7"/>
<path class="k20" d="M221.9 204.7L228.7 214.1"/>
<path class="k21" d="M229.3 213.7L245.1 235.7"/>
<path class="k22" d="M229.3 213.7L245.1 235.7"/>
<path class="k23" d="M228.7 214.1L244.5 236.1"/>
<path class="k18" d="M225.9 214.0L228.3 223.6"/>
<path class="k19" d="M225.9 214.0L228.3 223.6"/>
<path class="k20" d="M225.2 214.2L227.5 223.8"/>
<path class="k24" d="M228.3 223.6L233.8 246.1"/>
<path class="k25" d="M228.3 223.6L233.8 246.1"/>
<path class="k26" d="M227.5 223.8L233.0 246.3"/>
<path class="k18" d="M227.4 211.5L231.2 215.7"/>
<path class="k19" d="M227.4 211.5L231.2 215.7"/>
<path class="k20" d="M226.9 212.0L230.6 216.2"/>
<path class="k21" d="M231.2 215.7L239.9 225.4"/>
<path class="k22" d="M231.2 215.7L239.9 225.4"/>
<path class="k23" d="M230.6 216.2L239.4 226.0"/>
<path class="k18" d="M221.8 209.5L231.3 218.4"/>
<path class="k19" d="M221.8 209.5L231.3 218.4"/>
<path class="k20" d="M222.3 208.9L231.9 217.9"/>
<path class="k24" d="M231.3 218.4L253.7 239.3"/>
<path class="k25" d="M231.3 218.4L253.7 239.3"/>
<path class="k26" d="M231.9 217.9L254.2 238.8"/>
<path class="k18" d="M225.1 198.9L221.5 213.5"/>
<path class="k19" d="M225.1 198.9L221.5 213.5"/>
<path class="k20" d="M224.4 198.7L220.8 213.3"/>
<path class="k24" d="M221.5 213.5L213.0 247.3"/>
<path class="k25" d="M221.5 213.5L213.0 247.3"/>
<path class="k26" d="M220.8 213.3L212.2 247.1"/>
<path class="k18" d="M244.9 214.5L246.4 220.2"/>
<path class="k19" d="M244.9 214.5L246.4 220.2"/>
<path class="k20" d="M244.2 214.7L245.7 220.4"/>
<path class="k21" d="M246.4 220.2L249.9 233.7"/>
<path class="k22" d="M246.4 220.2L249.9 233.7"/>
<path class="k23" d="M245.7 220.4L249.1 233.9"/>
<path class="k18" d="M235.9 214.5L232.1 220.9"/>
<path class="k19" d="M235.9 214.5L232.1 220.9"/>
<path class="k20" d="M235.3 214.1L231.4 220.5"/>
<path class="k21" d="M232.1 220.9L223.1 236.0"/>
<path class="k22" d="M232.1 220.9L223.1 236.0"/>
<path class="k23" d="M231.4 220.5L222.5 235.6"/>
<path class="k18" d="M203.1 206.0L206.7 216.7"/>
<path class="k19" d="M203.1 206.0L206.7 216.7"/>
<path class="k20" d="M202.4 206.2L206.0 216.9"/>
<path class="k21" d="M206.7 216.7L215.0 241.7"/>
<path class="k22" d="M206.7 216.7L215.0 241.7"/>
<path class="k23" d="M206.0 216.9L214.3 241.9"/>
<path class="k18" d="M208.6 199.4L217.7 211.0"/>
<path class="k19" d="M208.6 199.4L217.7 211.0"/>
<path class="k20" d="M208.0 199.9L217.1 211.5"/>
<path class="k21" d="M217.7 211.0L239.1 238.1"/>
<path class="k22" d="M217.7 211.0L239.1 238.1"/>
<path class="k23" d="M217.1 211.5L238.5 238.6"/>
<path class="k18" d="M204.0 211.8L218.1 217.9"/>
<path class="k19" d="M204.0 211.8L218.1 217.9"/>
<path class="k20" d="M204.3 211.1L218.4 217.2"/>
<path class="k24" d="M218.1 217.9L250.9 232.2"/>
<path class="k25" d="M218.1 217.9L250.9 232.2"/>
<path class="k26" d="M218.4 217.2L251.2 231.5"/>
<path class="k18" d="M220.1 201.0L217.0 215.8"/>
<path class="k19" d="M220.1 201.0L217.0 215.8"/>
<path class="k20" d="M219.4 200.9L216.3 215.6"/>
<path class="k21" d="M217.0 215.8L209.8 250.1"/>
<path class="k22" d="M217.0 215.8L209.8 250.1"/>
<path class="k23" d="M216.3 215.6L209.1 250.0"/>
<path class="k18" d="M244.1 212.3L244.6 219.4"/>
<path class="k19" d="M244.1 212.3L244.6 219.4"/>
<path class="k20" d="M243.3 212.4L243.8 219.4"/>
<path class="k24" d="M244.6 219.4L245.7 235.8"/>
<path class="k25" d="M244.6 219.4L245.7 235.8"/>
<path class="k26" d="M243.8 219.4L244.9 235.9"/>
<path class="k18" d="M222.8 199.8L219.2 211.4"/>
<path class="k19" d="M222.8 199.8L219.2 211.4"/>
<path class="k20" d="M222.1 199.6L218.5 211.1"/>
<path class="k21" d="M219.2 211.4L210.8 238.2"/>
<path class="k22" d="M219.2 211.4L210.8 238.2"/>
<path class="k23" d="M218.5 211.1L210.0 238.0"/>
<path class="k18" d="M210.2 200.8L206.8 214.0"/>
<path class="k19" d="M210.2 200.8L206.8 214.0"/>
<path class="k20" d="M209.5 200.7L206.1 213.9"/>
<path class="k21" d="M206.8 214.0L198.9 244.9"/>
<path class="k22" d="M206.8 214.0L198.9 244.9"/>
<path class="k23" d="M206.1 213.9L198.1 244.7"/>
<path class="k18" d="M211.3 210.4L220.7 223.7"/>
<path class="k19" d="M211.3 210.4L220.7 223.7"/>
<path class="k20" d="M210.7 210.9L220.1 224.2"/>
<path class="k24" d="M220.7 223.7L242.7 254.8"/>
<path class="k25" d="M220.7 223.7L242.7 254.8"/>
<path class="k26" d="M220.1 224.2L242.1 255.3"/>
<path class="k18" d="M242.8 209.0L238.5 220.9"/>
<path class="k19" d="M242.8 209.0L238.5 220.9"/>
<path class="k20" d="M242.1 208.8L237.8 220.6"/>
<path class="k21" d="M238.5 220.9L228.6 248.4"/>
<path class="k22" d="M238.5 220.9L228.6 248.4"/>
<path class="k23" d="M237.8 220.6L227.9 248.2"/>
<path class="k18" d="M237.5 214.3L239.5 217.2"/>
<path class="k19" d="M237.5 214.3L239.5 217.2"/>
<path class="k20" d="M236.9 214.7L238.8 217.6"/>
<path class="k24" d="M239.5 217.2L244.0 224.0"/>
<path class="k25" d="M239.5 217.2L244.0 224.0"/>
<path class="k26" d="M238.8 217.6L243.4 224.4"/>
<path class="k18" d="M234.7 201.0L239.9 213.9"/>
<path class="k19" d="M234.7 201.0L239.9 213.9"/>
<path class="k20" d="M234.0 201.3L239.2 214.2"/>
<path class="k21" d="M239.9 213.9L251.8 244.0"/>
<path class="k22" d="M239.9 213.9L251.8 244.0"/>
<path class="k23" d="M239.2 214.2L251.1 244.3"/>
<path class="k18" d="M235.1 214.8L238.7 223.0"/>
<path class="k19" d="M235.1 214.8L238.7 223.0"/>
<path class="k20" d="M234.4 215.1L238.0 223.3"/>
<path class="k21" d="M238.7 223.0L247.0 242.0"/>
<path class="k22" d="M238.7 223.0L247.0 242.0"/>
<path class="k23" d="M238.0 223.3L246.3 242.3"/>
<path class="k18" d="M203.7 205.0L219.3 216.8"/>
<path class="k19" d="M203.7 205.0L219.3 216.8"/>
<path class="k20" d="M204.2 204.4L219.8 216.2"/>
<path class="k24" d="M219.3 216.8L255.7 244.3"/>
<path class="k25" d="M219.3 216.8L255.7 244.3"/>
<path class="k26" d="M219.8 216.2L256.1 243.7"/>
<path class="k18" d="M213.3 211.1L225.0 218.5"/>
<path class="k19" d="M213.3 211.1L225.0 218.5"/>
<path class="k20" d="M213.8 210.4L225.4 217.8"/>
<path class="k21" d="M225.0 218.5L252.3 235.8"/>
<path class="k22" d="M225.0 218.5L252.3 235.8"/>
<path class="k23" d="M225.4 217.8L252.7 235.2"/>
<path class="k18" d="M202.4 200.9L207.2 217.4"/>
<path class="k19" d="M202.4 200.9L207.2 217.4"/>
<path class="k20" d="M201.7 201.1L206.5 217.6"/>
<path class="k24" d="M207.2 217.4L218.4 255.9"/>
<path class="k25" d="M207.2 217.4L218.4 255.9"/>
<path class="k26" d="M206.5 217.6L217.7 256.1"/>
<path class="k0" d="M72.2 297.6L111.8 267.7"/>
<path class="k1" d="M72.2 297.6L111.8 267.7"/>
<path class="k2" d="M71.3 296.5L111.0 266.7"/>
<path class="k0" d="M111.8 267.7L151.3 231.6"/>
<path class="k1" d="M111.8 267.7L151.3 231.6"/>
<path class="k2" d="M110.9 266.7L150.4 230.5"/>
<path class="k0" d="M64.4 306.5L104.4 277.1"/>
<path class="k1" d="M64.4 306.5L104.4 277.1"/>
<path class="k2" d="M63.6 305.4L103.6 276.0"/>
<path class="k0" d="M104.4 277.1L143.7 239.9"/>
<path class="k1" d="M104.4 277.1L143.7 239.9"/>
<path class="k2" d="M103.5 276.1L142.7 238.9"/>
<path class="k0" d="M60.2 301.5L101.1 268.2"/>
<path class="k1" d="M60.2 301.5L101.1 268.2"/>
<path class="k2" d="M59.3 300.4L100.3 267.2"/>
<path class="k0" d="M101.1 268.2L139.9 233.2"/>
<path class="k1" d="M101.1 268.2L139.9 233.2"/>
<path class="k2" d="M100.2 267.2L139.0 232.2"/>
<path class="k0" d="M71.6 304.7L109.7 278.5"/>
<path class="k1" d="M71.6 304.7L109.7 278.5"/>
<path class="k2" d="M70.8 303.6L108.9 277.4"/>
<path class="k0" d="M109.7 278.5L150.9 243.6"/>
<path class="k1" d="M109.7 278.5L150.9 243.6"/>
<path class="k2" d="M108.8 277.5L150.0 242.6"/>
<path class="k0" d="M73.4 296.8L113.2 267.6"/>
<path class="k1" d="M73.4 296.8L113.2 267.6"/>
<path class="k2" d="M72.6 295.7L112.4 266.5"/>
<path class="k0" d="M113.2 267.6L153.2 233.0"/>
<path class="k1" d="M113.2 267.6L153.2 233.0"/>
<path class="k2" d="M112.3 266.6L152.4 232.0"/>
<path class="k0" d="M69.3 295.9L107.6 265.9"/>
<path class="k1" d="M69.3 295.9L107.6 265.9"/>
<path class="k2" d="M68.5 294.8L106.8 264.8"/>
<path class="k0" d="M107.6 265.9L144.5 230.4"/>
<path class="k1" d="M107.6 265.9L144.5 230.4"/>
<path class="k2" d="M106.7 264.9L143.5 229.4"/>
<path class="k0" d="M69.5 307.2L114.5 278.1"/>
<path class="k1" d="M69.5 307.2L114.5 278.1"/>
<path class="k2" d="M68.8 306.0L113.8 277.0"/>
<path class="k0" d="M114.5 278.1L151.5 241.9"/>
<path class="k1" d="M114.5 278.1L151.5 241.9"/>
<path class="k2" d="M113.6 277.1L150.6 241.0"/>
<path class="k0" d="M66.1 302.6L108.4 272.3"/>
<path class="k1" d="M66.1 302.6L108.4 272.3"/>
<path class="k2" d="M65.3 301.5L107.6 271.2"/>
<path class="k0" d="M108.4 272.3L145.1 234.9"/>
<path class="k1" d="M108.4 272.3L145.1 234.9"/>
<path class="k2" d="M107.4 271.3L144.1 233.9"/>
<path class="k0" d="M84.5 319.5L123.9 288.8"/>
<path class="k1" d="M84.5 319.5L123.9 288.8"/>
<path class="k2" d="M83.6 318.4L123.1 287.8"/>
<path class="k0" d="M123.9 288.8L166.9 249.1"/>
<path class="k1" d="M123.9 288.8L166.9 249.1"/>
<path class="k2" d="M123.0 287.8L166.0 248.1"/>
<path class="k0" d="M91.8 320.6L129.0 282.3"/>
<path class="k1" d="M91.8 320.6L129.0 282.3"/>
<path class="k2" d="M90.9 319.7L128.0 281.3"/>
<path class="k0" d="M129.0 282.3L169.7 248.7"/>
<path class="k1" d="M129.0 282.3L169.7 248.7"/>
<path class="k2" d="M128.1 281.2L168.9 247.6"/>
<path class="k0" d="M93.1 313.8L133.3 279.6"/>
<path class="k1" d="M93.1 313.8L133.3 279.6"/>
<path class="k2" d="M92.3 312.8L132.5 278.6"/>
<path class="k0" d="M133.3 279.6L177.1 249.3"/>
<path class="k1" d="M133.3 279.6L177.1 249.3"/>
<path class="k2" d="M132.6 278.5L176.3 248.2"/>
<path class="k0" d="M94.3 327.4L134.9 292.2"/>
<path class="k1" d="M94.3 327.4L134.9 292.2"/>
<path class="k2" d="M93.4 326.4L134.0 291.1"/>
<path class="k0" d="M134.9 292.2L172.0 260.2"/>
<path class="k1" d="M134.9 292.2L172.0 260.2"/>
<path class="k2" d="M134.0 291.1L171.1 259.1"/>
<path class="k0" d="M84.8 318.5L125.5 281.9"/>
<path class="k1" d="M84.8 318.5L125.5 281.9"/>
<path class="k2" d="M83.9 317.5L124.6 280.9"/>
<path class="k0" d="M125.5 281.9L166.2 246.4"/>
<path class="k1" d="M125.5 281.9L166.2 246.4"/>
<path class="k2" d="M124.6 280.9L165.3 245.3"/>
<path class="k0" d="M94.3 323.8L134.3 294.1"/>
<path class="k1" d="M94.3 323.8L134.3 294.1"/>
<path class="k2" d="M93.5 322.7L133.5 293.0"/>
<path class="k0" d="M134.3 294.1L178.5 254.0"/>
<path class="k1" d="M134.3 294.1L178.5 254.0"/>
<path class="k2" d="M133.4 293.1L177.6 253.0"/>
<path class="k36" d="M117.2 239.7L104.3 223.3"/>
<path class="k37" d="M117.2 239.7L104.3 223.3"/>
<path class="k38" d="M116.7 240.1L103.7 223.7"/>
<path class="k39" d="M92.0 216.4L77.8 206.1"/>
<path class="k40" d="M92.0 216.4L77.8 206.1"/>
<path class="k41" d="M92.3 215.9L78.1 205.6"/>
<path class="k42" d="M113.3 252.2L96.0 229.3"/>
<path class="k43" d="M113.3 252.2L96.0 229.3"/>
<path class="k38" d="M112.8 252.6L95.5 229.7"/>
<path class="k44" d="M96.4 218.4L84.2 205.8"/>
<path class="k45" d="M96.4 218.4L84.2 205.8"/>
<path class="k38" d="M96.0 218.8L83.8 206.3"/>
<path class="k46" d="M108.3 225.8L94.7 210.8"/>
<path class="k47" d="M108.3 225.8L94.7 210.8"/>
<path class="k38" d="M107.7 226.2L94.2 211.3"/>
<path class="k44" d="M113.5 234.8L97.7 202.9"/>
<path class="k45" d="M113.5 234.8L97.7 202.9"/>
<path class="k38" d="M112.9 235.1L97.2 203.2"/>
<path class="k42" d="M121.2 237.5L104.1 217.8"/>
<path class="k43" d="M121.2 237.5L104.1 217.8"/>
<path class="k38" d="M120.8 237.9L103.6 218.2"/>
<path class="k48" d="M115.5 251.8L89.9 238.8"/>
<path class="k49" d="M115.5 251.8L89.9 238.8"/>
<path class="k50" d="M115.8 251.2L90.2 238.2"/>
<path class="k51" d="M108.4 248.4L69.0 220.0"/>
<path class="k52" d="M108.4 248.4L69.0 220.0"/>
<path class="k41" d="M108.8 247.9L69.3 219.5"/>
<path class="k53" d="M137.6 258.2L101.9 247.5"/>
<path class="k54" d="M137.6 258.2L101.9 247.5"/>
<path class="k41" d="M137.8 257.6L102.1 246.9"/>
<path class="k39" d="M109.7 238.1L97.9 228.7"/>
<path class="k40" d="M109.7 238.1L97.9 228.7"/>
<path class="k41" d="M110.1 237.6L98.3 228.2"/>
<path class="k55" d="M100.8 237.7L68.3 215.1"/>
<path class="k56" d="M100.8 237.7L68.3 215.1"/>
<path class="k50" d="M101.2 237.1L68.7 214.5"/>
<path class="k55" d="M112.4 241.0L93.9 225.3"/>
<path class="k56" d="M112.4 241.0L93.9 225.3"/>
<path class="k50" d="M112.9 240.5L94.3 224.8"/>
<path class="k36" d="M99.2 234.8L75.5 214.2"/>
<path class="k37" d="M99.2 234.8L75.5 214.2"/>
<path class="k38" d="M99.6 234.3L76.0 213.7"/>
<path class="k42" d="M114.1 248.5L87.3 225.2"/>
<path class="k43" d="M114.1 248.5L87.3 225.2"/>
<path class="k38" d="M114.6 248.1L87.7 224.7"/>
<path class="k51" d="M137.1 249.5L106.3 241.9"/>
<path class="k52" d="M137.1 249.5L106.3 241.9"/>
<path class="k41" d="M137.3 249.0L106.4 241.3"/>
<path class="k55" d="M120.6 237.9L104.1 223.4"/>
<path class="k56" d="M120.6 237.9L104.1 223.4"/>
<path class="k50" d="M121.1 237.4L104.6 222.9"/>
<path class="k53" d="M92.0 222.1L80.7 205.7"/>
<path class="k54" d="M92.0 222.1L80.7 205.7"/>
<path class="k41" d="M91.5 222.4L80.2 206.0"/>
<path class="k44" d="M97.3 225.9L85.9 214.6"/>
<path class="k45" d="M97.3 225.9L85.9 214.6"/>
<path class="k38" d="M97.7 225.5L86.3 214.1"/>
<path class="k44" d="M115.2 221.2L91.6 206.0"/>
<path class="k45" d="M115.2 221.2L91.6 206.0"/>
<path class="k38" d="M115.5 220.7L92.0 205.4"/>
<path class="k44" d="M113.6 287.9L111.6 240.6"/>
<path class="k45" d="M113.6 287.9L111.6 240.6"/>
<path class="k38" d="M112.9 288.0L111.0 240.6"/>
<path class="k39" d="M98.0 229.4L74.5 203.1"/>
<path class="k40" d="M98.0 229.4L74.5 203.1"/>
<path class="k41" d="M97.5 229.8L74.1 203.5"/>
<path class="k44" d="M108.5 240.5L79.4 208.9"/>
<path class="k45" d="M108.5 240.5L79.4 208.9"/>
<path class="k38" d="M108.0 240.9L79.0 209.3"/>
<path class="k48" d="M107.9 239.4L80.0 227.1"/>
<path class="k49" d="M107.9 239.4L80.0 227.1"/>
<path class="k50" d="M108.2 238.8L80.3 226.4"/>
<path class="k39" d="M113.6 263.4L76.0 234.6"/>
<path class="k40" d="M113.6 263.4L76.0 234.6"/>
<path class="k41" d="M114.0 262.9L76.4 234.1"/>
<path class="k36" d="M121.1 247.5L82.9 229.6"/>
<path class="k37" d="M121.1 247.5L82.9 229.6"/>
<path class="k38" d="M121.4 246.9L83.2 229.0"/>
<path class="k51" d="M116.1 236.3L99.5 231.3"/>
<path class="k52" d="M116.1 236.3L99.5 231.3"/>
<path class="k41" d="M116.3 235.8L99.7 230.7"/>
<path class="k53" d="M111.8 237.8L89.4 225.2"/>
<path class="k54" d="M111.8 237.8L89.4 225.2"/>
<path class="k41" d="M112.1 237.3L89.7 224.7"/>
<path class="k39" d="M108.3 253.2L76.8 225.9"/>
<path class="k40" d="M108.3 253.2L76.8 225.9"/>
<path class="k41" d="M108.7 252.7L77.2 225.4"/>
<path class="k51" d="M126.7 241.3L100.9 230.6"/>
<path class="k52" d="M126.7 241.3L100.9 230.6"/>
<path class="k41" d="M126.9 240.7L101.1 230.0"/>
<path class="k36" d="M77.1 223.9L62.4 213.7"/>
<path class="k37" d="M77.1 223.9L62.4 213.7"/>
<path class="k38" d="M77.4 223.4L62.8 213.1"/>
<path class="k53" d="M114.3 270.1L92.1 230.2"/>
<path class="k54" d="M114.3 270.1L92.1 230.2"/>
<path class="k41" d="M113.8 270.4L91.6 230.5"/>
<path class="k48" d="M135.5 256.3L90.7 239.8"/>
<path class="k49" d="M135.5 256.3L90.7 239.8"/>
<path class="k50" d="M135.8 255.6L90.9 239.1"/>
<path class="k44" d="M80.7 229.7L62.6 211.9"/>
<path class="k45" d="M80.7 229.7L62.6 211.9"/>
<path class="k38" d="M81.1 229.2L63.0 211.5"/>
<path class="k51" d="M124.7 241.4L79.5 234.4"/>
<path class="k52" d="M124.7 241.4L79.5 234.4"/>
<path class="k41" d="M124.8 240.8L79.6 233.8"/>
<path class="k53" d="M101.4 243.0L94.6 229.3"/>
<path class="k54" d="M101.4 243.0L94.6 229.3"/>
<path class="k41" d="M100.9 243.3L94.1 229.5"/>
<path class="k48" d="M128.0 241.6L102.1 209.4"/>
<path class="k49" d="M128.0 241.6L102.1 209.4"/>
<path class="k50" d="M127.4 242.0L101.5 209.9"/>
<path class="k55" d="M118.9 224.7L100.8 211.4"/>
<path class="k56" d="M118.9 224.7L100.8 211.4"/>
<path class="k50" d="M119.3 224.1L101.2 210.9"/>
<path class="k36" d="M139.9 237.9L110.8 232.3"/>
<path class="k37" d="M139.9 237.9L110.8 232.3"/>
<path class="k38" d="M140.1 237.3L110.9 231.7"/>
<path class="k55" d="M109.9 238.8L88.6 205.5"/>
<path class="k56" d="M109.9 238.8L88.6 205.5"/>
<path class="k50" d="M109.3 239.2L88.0 205.9"/>
<polygon points="103,200 119,194 133,202 154,219 171,233 185,244 188,252 180,266 172,272 150,252 126,231 104,214" fill="#2a2ab8"/>
<path class="k57" d="M123.4 236.4L137.7 267.3"/>
<path class="k58" d="M123.4 236.4L137.7 267.3"/>
<path class="k59" d="M121.8 237.1L136.2 268.0"/>
<path class="k60" d="M109.0 205.4L123.4 236.4"/>
<path class="k61" d="M109.0 205.4L123.4 236.4"/>
<path class="k62" d="M107.4 206.1L121.8 237.1"/>
<path class="k57" d="M121.1 234.9L131.1 258.0"/>
<path class="k58" d="M121.1 234.9L131.1 258.0"/>
<path class="k59" d="M119.5 235.6L129.6 258.7"/>
<path class="k60" d="M111.1 211.8L121.1 234.9"/>
<path class="k61" d="M111.1 211.8L121.1 234.9"/>
<path class="k62" d="M109.5 212.4L119.5 235.6"/>
<path class="k57" d="M127.0 238.5L135.5 257.4"/>
<path class="k58" d="M127.0 238.5L135.5 257.4"/>
<path class="k59" d="M125.5 239.2L134.0 258.1"/>
<path class="k60" d="M118.5 219.6L127.0 238.5"/>
<path class="k61" d="M118.5 219.6L127.0 238.5"/>
<path class="k62" d="M117.0 220.3L125.5 239.2"/>
<path class="k57" d="M127.3 238.5L125.7 254.4"/>
<path class="k58" d="M127.3 238.5L125.7 254.4"/>
<path class="k59" d="M125.7 238.3L124.0 254.3"/>
<path class="k60" d="M129.0 222.5L127.3 238.5"/>
<path class="k61" d="M129.0 222.5L127.3 238.5"/>
<path class="k62" d="M127.3 222.3L125.7 238.3"/>
<path class="k57" d="M131.5 243.7L124.5 259.5"/>
<path class="k58" d="M131.5 243.7L124.5 259.5"/>
<path class="k59" d="M129.9 243.0L122.9 258.8"/>
<path class="k60" d="M138.5 227.8L131.5 243.7"/>
<path class="k61" d="M138.5 227.8L131.5 243.7"/>
<path class="k62" d="M137.0 227.1L129.9 243.0"/>
<path class="k57" d="M137.8 245.8L130.1 257.5"/>
<path class="k58" d="M137.8 245.8L130.1 257.5"/>
<path class="k59" d="M136.4 244.8L128.7 256.6"/>
<path class="k60" d="M145.6 234.0L137.8 245.8"/>
<path class="k61" d="M145.6 234.0L137.8 245.8"/>
<path class="k62" d="M144.1 233.1L136.4 244.8"/>
<path class="k57" d="M143.9 253.1L137.7 264.9"/>
<path class="k58" d="M143.9 253.1L137.7 264.9"/>
<path class="k59" d="M142.4 252.3L136.2 264.1"/>
<path class="k60" d="M150.0 241.3L143.9 253.1"/>
<path class="k61" d="M150.0 241.3L143.9 253.1"/>
<path class="k62" d="M148.5 240.5L142.4 252.3"/>
<path class="k57" d="M146.3 249.4L136.1 256.5"/>
<path class="k58" d="M146.3 249.4L136.1 256.5"/>
<path class="k59" d="M145.3 248.0L135.2 255.1"/>
<path class="k60" d="M156.5 242.4L146.3 249.4"/>
<path class="k61" d="M156.5 242.4L146.3 249.4"/>
<path class="k62" d="M155.5 241.0L145.3 248.0"/>
<path class="k57" d="M152.3 252.4L138.7 254.2"/>
<path class="k58" d="M152.3 252.4L138.7 254.2"/>
<path class="k59" d="M152.1 250.7L138.5 252.5"/>
<path class="k60" d="M165.9 250.7L152.3 252.4"/>
<path class="k61" d="M165.9 250.7L152.3 252.4"/>
<path class="k62" d="M165.7 249.0L152.1 250.7"/>
<path class="k57" d="M149.9 255.6L124.6 254.1"/>
<path class="k58" d="M149.9 255.6L124.6 254.1"/>
<path class="k59" d="M150.0 253.9L124.7 252.4"/>
<path class="k60" d="M175.2 257.1L149.9 255.6"/>
<path class="k61" d="M175.2 257.1L149.9 255.6"/>
<path class="k62" d="M175.3 255.4L150.0 253.9"/>
<path class="k57" d="M156.7 260.2L133.1 260.1"/>
<path class="k58" d="M156.7 260.2L133.1 260.1"/>
<path class="k59" d="M156.7 258.5L133.1 258.4"/>
<path class="k60" d="M180.3 260.3L156.7 260.2"/>
<path class="k61" d="M180.3 260.3L156.7 260.2"/>
<path class="k62" d="M180.3 258.6L156.7 258.5"/>
<path class="k57" d="M122.6 191.4L136.2 177.5"/>
<path class="k58" d="M122.6 191.4L136.2 177.5"/>
<path class="k59" d="M121.3 190.3L135.0 176.3"/>
<path class="k60" d="M109.0 205.4L122.6 191.4"/>
<path class="k61" d="M109.0 205.4L122.6 191.4"/>
<path class="k62" d="M107.7 204.2L121.3 190.3"/>
<path class="k57" d="M123.7 205.3L136.4 198.7"/>
<path class="k58" d="M123.7 205.3L136.4 198.7"/>
<path class="k59" d="M123.0 203.7L135.7 197.2"/>
<path class="k60" d="M111.1 211.8L123.7 205.3"/>
<path class="k61" d="M111.1 211.8L123.7 205.3"/>
<path class="k62" d="M110.3 210.3L123.0 203.7"/>
<path class="k57" d="M139.0 211.9L159.4 204.3"/>
<path class="k58" d="M139.0 211.9L159.4 204.3"/>
<path class="k59" d="M138.4 210.4L158.8 202.7"/>
<path class="k60" d="M118.5 219.6L139.0 211.9"/>
<path class="k61" d="M118.5 219.6L139.0 211.9"/>
<path class="k62" d="M117.9 218.0L138.4 210.4"/>
<path class="k57" d="M143.9 213.6L158.8 204.7"/>
<path class="k58" d="M143.9 213.6L158.8 204.7"/>
<path class="k59" d="M143.0 212.1L158.0 203.2"/>
<path class="k60" d="M129.0 222.5L143.9 213.6"/>
<path class="k61" d="M129.0 222.5L143.9 213.6"/>
<path class="k62" d="M128.1 221.0L143.0 212.1"/>
<path class="k57" d="M156.0 221.7L173.5 215.5"/>
<path class="k58" d="M156.0 221.7L173.5 215.5"/>
<path class="k59" d="M155.5 220.1L173.0 213.9"/>
<path class="k60" d="M138.5 227.8L156.0 221.7"/>
<path class="k61" d="M138.5 227.8L156.0 221.7"/>
<path class="k62" d="M138.0 226.2L155.5 220.1"/>
<path class="k57" d="M162.7 224.3L179.8 214.6"/>
<path class="k58" d="M162.7 224.3L179.8 214.6"/>
<path class="k59" d="M161.9 222.8L179.0 213.1"/>
<path class="k60" d="M145.6 234.0L162.7 224.3"/>
<path class="k61" d="M145.6 234.0L162.7 224.3"/>
<path class="k62" d="M144.7 232.5L161.9 222.8"/>
<path class="k57" d="M162.6 229.9L175.1 218.4"/>
<path class="k58" d="M162.6 229.9L175.1 218.4"/>
<path class="k59" d="M161.4 228.6L174.0 217.1"/>
<path class="k60" d="M150.0 241.3L162.6 229.9"/>
<path class="k61" d="M150.0 241.3L162.6 229.9"/>
<path class="k62" d="M148.9 240.1L161.4 228.6"/>
<path class="k57" d="M171.5 233.7L186.5 225.0"/>
<path class="k58" d="M171.5 233.7L186.5 225.0"/>
<path class="k59" d="M170.6 232.2L185.6 223.5"/>
<path class="k60" d="M156.5 242.4L171.5 233.7"/>
<path class="k61" d="M156.5 242.4L171.5 233.7"/>
<path class="k62" d="M155.6 240.9L170.6 232.2"/>
<path class="k57" d="M180.7 237.9L195.6 225.2"/>
<path class="k58" d="M180.7 237.9L195.6 225.2"/>
<path class="k59" d="M179.6 236.6L194.5 223.9"/>
<path class="k60" d="M165.9 250.7L180.7 237.9"/>
<path class="k61" d="M165.9 250.7L180.7 237.9"/>
<path class="k62" d="M164.8 249.4L179.6 236.6"/>
<path class="k57" d="M188.1 250.0L201.0 242.8"/>
<path class="k58" d="M188.1 250.0L201.0 242.8"/>
<path class="k59" d="M187.3 248.5L200.1 241.4"/>
<path class="k60" d="M175.2 257.1L188.1 250.0"/>
<path class="k61" d="M175.2 257.1L188.1 250.0"/>
<path class="k62" d="M174.4 255.6L187.3 248.5"/>
<path class="k57" d="M195.2 247.4L210.0 234.5"/>
<path class="k58" d="M195.2 247.4L210.0 234.5"/>
<path class="k59" d="M194.1 246.1L208.9 233.2"/>
<path class="k60" d="M180.3 260.3L195.2 247.4"/>
<path class="k61" d="M180.3 260.3L195.2 247.4"/>
<path class="k62" d="M179.2 259.0L194.1 246.1"/>
<path class="k63" d="M133.6 261.1L139.9 271.4"/>
<path class="k64" d="M133.6 261.1L139.9 271.4"/>
<path class="k65" d="M133.1 261.5L139.3 271.8"/>
<path class="k63" d="M147.2 264.2L135.3 275.2"/>
<path class="k64" d="M147.2 264.2L135.3 275.2"/>
<path class="k65" d="M146.8 263.8L134.9 274.7"/>
<path class="k44" d="M126.9 255.4L144.9 255.5"/>
<path class="k45" d="M126.9 255.4L144.9 255.5"/>
<path class="k38" d="M126.9 254.7L144.9 254.8"/>
<path class="k63" d="M130.7 263.0L127.1 271.1"/>
<path class="k64" d="M130.7 263.0L127.1 271.1"/>
<path class="k65" d="M130.1 262.7L126.5 270.9"/>
<path class="k44" d="M124.4 265.4L130.9 274.8"/>
<path class="k45" d="M124.4 265.4L130.9 274.8"/>
<path class="k38" d="M123.8 265.8L130.4 275.2"/>
<path class="k44" d="M138.5 259.9L147.1 272.5"/>
<path class="k45" d="M138.5 259.9L147.1 272.5"/>
<path class="k38" d="M138.0 260.3L146.6 272.9"/>
<path class="k44" d="M144.0 269.6L151.2 261.8"/>
<path class="k45" d="M144.0 269.6L151.2 261.8"/>
<path class="k38" d="M143.6 269.2L150.8 261.3"/>
<path class="k44" d="M126.7 260.9L136.1 273.9"/>
<path class="k45" d="M126.7 260.9L136.1 273.9"/>
<path class="k38" d="M126.2 261.3L135.6 274.3"/>
<path class="k44" d="M137.8 262.1L129.1 272.7"/>
<path class="k45" d="M137.8 262.1L129.1 272.7"/>
<path class="k38" d="M137.3 261.7L128.6 272.3"/>
<path class="k63" d="M135.7 262.3L145.0 258.0"/>
<path class="k64" d="M135.7 262.3L145.0 258.0"/>
<path class="k65" d="M135.4 261.7L144.8 257.4"/>
<path class="k44" d="M137.7 252.8L127.0 250.4"/>
<path class="k45" d="M137.7 252.8L127.0 250.4"/>
<path class="k38" d="M137.8 252.2L127.1 249.8"/>
<path class="k63" d="M131.1 262.3L146.2 256.6"/>
<path class="k64" d="M131.1 262.3L146.2 256.6"/>
<path class="k65" d="M130.9 261.7L146.0 256.0"/>
<path class="k44" d="M132.8 256.1L117.8 260.3"/>
<path class="k45" d="M132.8 256.1L117.8 260.3"/>
<path class="k38" d="M132.6 255.5L117.6 259.7"/>
<path class="k44" d="M131.0 271.7L142.3 275.9"/>
<path class="k45" d="M131.0 271.7L142.3 275.9"/>
<path class="k38" d="M131.2 271.1L142.5 275.3"/>
<path class="k63" d="M134.3 258.8L142.9 269.5"/>
<path class="k64" d="M134.3 258.8L142.9 269.5"/>
<path class="k65" d="M133.7 259.2L142.4 269.9"/>
<path class="k44" d="M135.5 273.7L147.2 270.8"/>
<path class="k45" d="M135.5 273.7L147.2 270.8"/>
<path class="k38" d="M135.3 273.0L147.1 270.2"/>
<path class="k63" d="M139.2 276.4L148.1 277.0"/>
<path class="k64" d="M139.2 276.4L148.1 277.0"/>
<path class="k65" d="M139.2 275.8L148.2 276.3"/>
<path class="k63" d="M122.9 253.2L114.2 252.2"/>
<path class="k64" d="M122.9 253.2L114.2 252.2"/>
<path class="k65" d="M123.0 252.5L114.3 251.6"/>
<path class="k44" d="M144.1 260.0L132.6 250.5"/>
<path class="k45" d="M144.1 260.0L132.6 250.5"/>
<path class="k38" d="M144.5 259.5L133.1 250.0"/>
<path class="k63" d="M134.4 253.8L120.6 253.7"/>
<path class="k64" d="M134.4 253.8L120.6 253.7"/>
<path class="k65" d="M134.4 253.1L120.6 253.0"/>
<path class="k44" d="M138.1 265.0L133.9 272.8"/>
<path class="k45" d="M138.1 265.0L133.9 272.8"/>
<path class="k38" d="M137.6 264.7L133.4 272.5"/>
<path class="k44" d="M130.6 269.1L136.3 275.4"/>
<path class="k45" d="M130.6 269.1L136.3 275.4"/>
<path class="k38" d="M130.1 269.5L135.8 275.9"/>
<path class="k63" d="M131.2 253.7L144.4 253.6"/>
<path class="k64" d="M131.2 253.7L144.4 253.6"/>
<path class="k65" d="M131.2 253.1L144.4 253.0"/>
<path class="k63" d="M138.1 258.2L127.2 264.6"/>
<path class="k64" d="M138.1 258.2L127.2 264.6"/>
<path class="k65" d="M137.8 257.6L126.9 264.1"/>
<path class="k63" d="M141.3 263.3L155.6 274.0"/>
<path class="k64" d="M141.3 263.3L155.6 274.0"/>
<path class="k65" d="M141.7 262.7L156.0 273.5"/>
<path class="k44" d="M131.8 265.9L145.2 261.4"/>
<path class="k45" d="M131.8 265.9L145.2 261.4"/>
<path class="k38" d="M131.5 265.3L144.9 260.8"/>
<path class="k63" d="M128.9 249.3L130.8 265.8"/>
<path class="k64" d="M128.9 249.3L130.8 265.8"/>
<path class="k65" d="M128.3 249.4L130.1 265.9"/>
<path class="k63" d="M133.6 270.1L140.8 277.9"/>
<path class="k64" d="M133.6 270.1L140.8 277.9"/>
<path class="k65" d="M133.1 270.6L140.3 278.3"/>
<path class="k44" d="M121.6 255.9L115.8 263.5"/>
<path class="k45" d="M121.6 255.9L115.8 263.5"/>
<path class="k38" d="M121.1 255.5L115.3 263.1"/>
<path class="k44" d="M143.1 259.4L143.2 268.9"/>
<path class="k45" d="M143.1 259.4L143.2 268.9"/>
<path class="k38" d="M142.4 259.5L142.6 268.9"/>
<path class="k44" d="M126.1 265.5L123.4 257.8"/>
<path class="k45" d="M126.1 265.5L123.4 257.8"/>
<path class="k38" d="M125.5 265.7L122.8 258.0"/>
<path class="k63" d="M123.4 272.7L113.6 263.3"/>
<path class="k64" d="M123.4 272.7L113.6 263.3"/>
<path class="k65" d="M123.9 272.2L114.1 262.8"/>
<path class="k44" d="M128.5 258.4L135.2 266.8"/>
<path class="k45" d="M128.5 258.4L135.2 266.8"/>
<path class="k38" d="M128.0 258.8L134.7 267.2"/>
<path class="k44" d="M143.3 272.3L156.0 274.9"/>
<path class="k45" d="M143.3 272.3L156.0 274.9"/>
<path class="k38" d="M143.4 271.7L156.1 274.2"/>
<path class="k63" d="M131.1 269.4L144.1 271.0"/>
<path class="k64" d="M131.1 269.4L144.1 271.0"/>
<path class="k65" d="M131.2 268.7L144.2 270.3"/>
<path class="k63" d="M147.1 261.0L150.3 273.2"/>
<path class="k64" d="M147.1 261.0L150.3 273.2"/>
<path class="k65" d="M146.5 261.2L149.7 273.3"/>
<path class="k63" d="M133.1 254.1L128.6 261.6"/>
<path class="k64" d="M133.1 254.1L128.6 261.6"/>
<path class="k65" d="M132.5 253.8L128.0 261.3"/>
<path class="k63" d="M138.0 265.1L142.8 271.6"/>
<path class="k64" d="M138.0 265.1L142.8 271.6"/>
<path class="k65" d="M137.4 265.5L142.2 272.0"/>
<path class="k44" d="M141.3 272.2L156.4 274.6"/>
<path class="k45" d="M141.3 272.2L156.4 274.6"/>
<path class="k38" d="M141.4 271.5L156.5 273.9"/>
<path class="k44" d="M142.7 261.8L148.6 272.5"/>
<path class="k45" d="M142.7 261.8L148.6 272.5"/>
<path class="k38" d="M142.1 262.1L148.0 272.8"/>
<path class="k44" d="M154.0 291.5L167.1 325.3"/>
<path class="k45" d="M154.0 291.5L167.1 325.3"/>
<path class="k38" d="M153.4 291.7L166.5 325.5"/>
<path class="k51" d="M156.4 274.8L185.9 302.5"/>
<path class="k52" d="M156.4 274.8L185.9 302.5"/>
<path class="k41" d="M156.8 274.3L186.3 302.0"/>
<path class="k36" d="M139.9 280.0L158.3 314.2"/>
<path class="k37" d="M139.9 280.0L158.3 314.2"/>
<path class="k38" d="M139.3 280.3L157.7 314.5"/>
<path class="k46" d="M151.9 263.2L161.0 300.9"/>
<path class="k47" d="M151.9 263.2L161.0 300.9"/>
<path class="k38" d="M151.2 263.3L160.3 301.0"/>
<path class="k44" d="M154.5 282.2L170.3 318.5"/>
<path class="k45" d="M154.5 282.2L170.3 318.5"/>
<path class="k38" d="M153.9 282.4L169.7 318.7"/>
<path class="k46" d="M144.3 273.3L181.2 289.9"/>
<path class="k47" d="M144.3 273.3L181.2 289.9"/>
<path class="k38" d="M144.5 272.7L181.5 289.2"/>
<path class="k48" d="M162.5 297.2L175.2 312.4"/>
<path class="k49" d="M162.5 297.2L175.2 312.4"/>
<path class="k50" d="M162.0 297.7L174.7 312.8"/>
<path class="k44" d="M141.6 284.9L176.8 308.6"/>
<path class="k45" d="M141.6 284.9L176.8 308.6"/>
<path class="k38" d="M142.0 284.3L177.2 308.1"/>
<path class="k51" d="M151.2 268.0L182.4 296.6"/>
<path class="k52" d="M151.2 268.0L182.4 296.6"/>
<path class="k41" d="M151.6 267.6L182.8 296.2"/>
<path class="k36" d="M169.6 306.1L177.7 329.4"/>
<path class="k37" d="M169.6 306.1L177.7 329.4"/>
<path class="k38" d="M169.0 306.3L177.1 329.6"/>
<path class="k51" d="M157.2 275.6L182.1 305.7"/>
<path class="k52" d="M157.2 275.6L182.1 305.7"/>
<path class="k41" d="M156.8 276.0L181.7 306.0"/>
<path class="k48" d="M136.7 277.1L150.9 299.6"/>
<path class="k49" d="M136.7 277.1L150.9 299.6"/>
<path class="k50" d="M136.1 277.5L150.3 300.0"/>
<path class="k36" d="M157.9 266.6L178.4 298.6"/>
<path class="k37" d="M157.9 266.6L178.4 298.6"/>
<path class="k38" d="M157.3 267.0L177.9 298.9"/>
<path class="k46" d="M142.9 282.5L166.2 303.9"/>
<path class="k47" d="M142.9 282.5L166.2 303.9"/>
<path class="k38" d="M143.4 282.0L166.7 303.4"/>
<path class="k53" d="M167.4 300.3L181.7 315.4"/>
<path class="k54" d="M167.4 300.3L181.7 315.4"/>
<path class="k41" d="M166.9 300.7L181.3 315.8"/>
<path class="k46" d="M136.4 292.3L164.8 325.7"/>
<path class="k47" d="M136.4 292.3L164.8 325.7"/>
<path class="k38" d="M135.8 292.7L164.3 326.2"/>
<path class="k36" d="M152.0 304.9L169.2 329.5"/>
<path class="k37" d="M152.0 304.9L169.2 329.5"/>
<path class="k38" d="M151.5 305.3L168.7 329.9"/>
<path class="k36" d="M146.4 283.7L156.8 309.6"/>
<path class="k37" d="M146.4 283.7L156.8 309.6"/>
<path class="k38" d="M145.8 284.0L156.2 309.8"/>
<path class="k44" d="M145.4 253.7L164.2 293.3"/>
<path class="k45" d="M145.4 253.7L164.2 293.3"/>
<path class="k38" d="M144.8 254.0L163.6 293.6"/>
<path class="k53" d="M158.3 303.8L180.0 324.7"/>
<path class="k54" d="M158.3 303.8L180.0 324.7"/>
<path class="k41" d="M158.7 303.4L180.4 324.2"/>
<path class="k55" d="M149.6 278.6L165.3 303.4"/>
<path class="k56" d="M149.6 278.6L165.3 303.4"/>
<path class="k50" d="M149.0 279.0L164.7 303.8"/>
<path class="k42" d="M153.4 276.4L169.8 301.3"/>
<path class="k43" d="M153.4 276.4L169.8 301.3"/>
<path class="k38" d="M152.9 276.7L169.2 301.6"/>
<path class="k46" d="M147.9 283.9L159.6 310.3"/>
<path class="k47" d="M147.9 283.9L159.6 310.3"/>
<path class="k38" d="M147.2 284.2L159.0 310.6"/>
<path class="k46" d="M164.0 290.7L173.7 306.4"/>
<path class="k47" d="M164.0 290.7L173.7 306.4"/>
<path class="k38" d="M163.4 291.1L173.1 306.7"/>
<path class="k44" d="M140.1 268.6L172.4 293.8"/>
<path class="k45" d="M140.1 268.6L172.4 293.8"/>
<path class="k38" d="M140.5 268.1L172.8 293.3"/>
<path class="k36" d="M158.1 266.0L167.8 296.8"/>
<path class="k37" d="M158.1 266.0L167.8 296.8"/>
<path class="k38" d="M157.5 266.2L167.1 297.0"/>
<path class="k44" d="M137.2 276.3L166.9 299.3"/>
<path class="k45" d="M137.2 276.3L166.9 299.3"/>
<path class="k38" d="M137.6 275.8L167.3 298.7"/>
<path class="k48" d="M128.7 275.2L158.6 283.9"/>
<path class="k49" d="M128.7 275.2L158.6 283.9"/>
<path class="k50" d="M128.9 274.5L158.8 283.2"/>
<path class="k53" d="M158.9 287.8L173.4 306.6"/>
<path class="k54" d="M158.9 287.8L173.4 306.6"/>
<path class="k41" d="M158.4 288.1L172.9 306.9"/>
<path class="k44" d="M148.8 299.2L171.2 331.0"/>
<path class="k45" d="M148.8 299.2L171.2 331.0"/>
<path class="k38" d="M148.2 299.5L170.7 331.4"/>
<path class="k48" d="M172.8 306.8L184.7 323.3"/>
<path class="k49" d="M172.8 306.8L184.7 323.3"/>
<path class="k50" d="M172.2 307.2L184.2 323.7"/>
<path class="k44" d="M156.1 274.0L178.5 301.9"/>
<path class="k45" d="M156.1 274.0L178.5 301.9"/>
<path class="k38" d="M155.6 274.4L178.0 302.3"/>
<path class="k46" d="M161.9 290.4L184.1 305.0"/>
<path class="k47" d="M161.9 290.4L184.1 305.0"/>
<path class="k38" d="M162.2 289.8L184.5 304.4"/>
<path class="k53" d="M151.8 265.0L169.5 294.5"/>
<path class="k54" d="M151.8 265.0L169.5 294.5"/>
<path class="k41" d="M151.3 265.3L169.0 294.8"/>
<path class="k36" d="M139.4 274.5L160.7 309.4"/>
<path class="k37" d="M139.4 274.5L160.7 309.4"/>
<path class="k38" d="M138.8 274.9L160.2 309.8"/>
<path class="k39" d="M143.2 275.5L165.0 302.3"/>
<path class="k40" d="M143.2 275.5L165.0 302.3"/>
<path class="k41" d="M142.7 275.8L164.5 302.6"/>
<path class="k44" d="M136.2 270.0L163.3 289.3"/>
<path class="k45" d="M136.2 270.0L163.3 289.3"/>
<path class="k38" d="M136.6 269.5L163.7 288.8"/>
<path class="k46" d="M153.5 289.8L173.6 320.4"/>
<path class="k47" d="M153.5 289.8L173.6 320.4"/>
<path class="k38" d="M152.9 290.2L173.1 320.8"/>
<path class="k66" d="M801.9 300.2L768.1 295.9"/>
<path class="k67" d="M801.9 300.2L768.1 295.9"/>
<path class="k68" d="M802.0 299.4L768.2 295.1"/>
<path class="k69" d="M802.1 298.7L768.3 294.5"/>
<path class="k66" d="M768.1 295.9L733.4 332.9"/>
<path class="k67" d="M768.1 295.9L733.4 332.9"/>
<path class="k68" d="M767.5 295.4L732.8 332.3"/>
<path class="k69" d="M767.0 294.9L732.3 331.9"/>
<path class="k66" d="M733.4 332.9L743.2 367.1"/>
<path class="k67" d="M733.4 332.9L743.2 367.1"/>
<path class="k68" d="M732.6 333.1L742.4 367.4"/>
<path class="k69" d="M732.0 333.3L741.8 367.5"/>
<path class="k66" d="M743.2 367.1L778.5 372.0"/>
<path class="k67" d="M743.2 367.1L778.5 372.0"/>
<path class="k68" d="M743.3 366.3L778.6 371.2"/>
<path class="k69" d="M743.4 365.7L778.7 370.5"/>
<path class="k66" d="M778.5 372.0L806.2 343.1"/>
<path class="k67" d="M778.5 372.0L806.2 343.1"/>
<path class="k68" d="M777.9 371.4L805.6 342.6"/>
<path class="k69" d="M777.4 371.0L805.2 342.1"/>
<path class="k66" d="M806.2 343.1L801.9 300.2"/>
<path class="k67" d="M806.2 343.1L801.9 300.2"/>
<path class="k68" d="M805.4 343.2L801.1 300.3"/>
<path class="k69" d="M804.7 343.3L800.4 300.3"/>
<path class="k66" d="M801.9 300.2L831.2 262.6"/>
<path class="k67" d="M801.9 300.2L831.2 262.6"/>
<path class="k68" d="M801.3 299.7L830.5 262.1"/>
<path class="k69" d="M800.7 299.3L830.0 261.7"/>
<path class="k70" d="M831.2 262.6L848.4 266.9"/>
<path class="k71" d="M831.2 262.6L848.4 266.9"/>
<path class="k72" d="M831.3 262.1L848.5 266.4"/>
<path class="k73" d="M831.4 261.8L848.5 266.1"/>
<path class="k74" d="M848.4 266.9L865.5 271.2"/>
<path class="k75" d="M848.4 266.9L865.5 271.2"/>
<path class="k76" d="M848.5 266.4L865.6 270.8"/>
<path class="k77" d="M848.5 266.1L865.7 270.4"/>
<path class="k66" d="M831.2 262.6L828.6 245.2"/>
<path class="k67" d="M831.2 262.6L828.6 245.2"/>
<path class="k68" d="M830.4 262.7L827.8 245.4"/>
<path class="k69" d="M829.7 262.8L827.1 245.5"/>
<path class="k78" d="M828.6 245.2L826.0 227.9"/>
<path class="k79" d="M828.6 245.2L826.0 227.9"/>
<path class="k80" d="M827.8 245.4L825.2 228.1"/>
<path class="k81" d="M827.1 245.5L824.5 228.2"/>
<path class="k78" d="M826.0 227.9L836.0 210.0"/>
<path class="k79" d="M826.0 227.9L836.0 210.0"/>
<path class="k80" d="M825.3 227.5L835.3 209.6"/>
<path class="k81" d="M824.7 227.2L834.7 209.3"/>
<path class="k66" d="M836.0 210.0L846.0 192.1"/>
<path class="k67" d="M836.0 210.0L846.0 192.1"/>
<path class="k68" d="M835.3 209.6L845.3 191.7"/>
<path class="k69" d="M834.7 209.3L844.7 191.4"/>
<path class="k66" d="M846.0 192.1L835.1 154.4"/>
<path class="k67" d="M846.0 192.1L835.1 154.4"/>
<path class="k68" d="M845.2 192.3L834.3 154.6"/>
<path class="k69" d="M844.6 192.5L833.7 154.8"/>
<path class="k70" d="M835.1 154.4L821.8 160.4"/>
<path class="k71" d="M835.1 154.4L821.8 160.4"/>
<path class="k72" d="M835.0 154.0L821.6 159.9"/>
<path class="k73" d="M834.8 153.7L821.5 159.6"/>
<path class="k82" d="M821.8 160.4L808.5 166.3"/>
<path class="k83" d="M821.8 160.4L808.5 166.3"/>
<path class="k84" d="M821.6 159.9L808.3 165.9"/>
<path class="k85" d="M821.5 159.6L808.1 165.6"/>
<path class="k66" d="M835.1 154.4L843.4 134.2"/>
<path class="k67" d="M835.1 154.4L843.4 134.2"/>
<path class="k68" d="M834.4 154.1L842.6 133.9"/>
<path class="k69" d="M833.8 153.8L842.0 133.7"/>
<path class="k86" d="M843.4 134.2L851.7 114.0"/>
<path class="k87" d="M843.4 134.2L851.7 114.0"/>
<path class="k88" d="M842.6 133.9L850.9 113.7"/>
<path class="k89" d="M842.0 133.7L850.3 113.5"/>
<path class="k86" d="M851.7 114.0L869.5 112.2"/>
<path class="k87" d="M851.7 114.0L869.5 112.2"/>
<path class="k88" d="M851.6 113.2L869.4 111.4"/>
<path class="k89" d="M851.5 112.6L869.4 110.7"/>
<path class="k66" d="M869.5 112.2L887.4 110.3"/>
<path class="k67" d="M869.5 112.2L887.4 110.3"/>
<path class="k68" d="M869.4 111.4L887.3 109.5"/>
<path class="k69" d="M869.4 110.7L887.2 108.8"/>
<path class="k66" d="M887.4 110.3L898.9 139.2"/>
<path class="k67" d="M887.4 110.3L898.9 139.2"/>
<path class="k68" d="M886.6 110.6L898.1 139.5"/>
<path class="k69" d="M886.0 110.9L897.5 139.7"/>
<path class="k66" d="M898.9 139.2L881.1 184.9"/>
<path class="k67" d="M898.9 139.2L881.1 184.9"/>
<path class="k68" d="M898.1 138.9L880.4 184.6"/>
<path class="k69" d="M897.5 138.6L879.8 184.4"/>
<path class="k66" d="M881.1 184.9L846.0 192.1"/>
<path class="k67" d="M881.1 184.9L846.0 192.1"/>
<path class="k68" d="M881.0 184.1L845.8 191.3"/>
<path class="k69" d="M880.8 183.5L845.7 190.6"/>
<path class="k66" d="M887.4 110.3L901.4 63.2"/>
<path class="k67" d="M887.4 110.3L901.4 63.2"/>
<path class="k68" d="M886.6 110.1L900.6 63.0"/>
<path class="k69" d="M886.0 109.9L900.0 62.8"/>
<path class="k66" d="M901.4 63.2L955.1 63.2"/>
<path class="k67" d="M901.4 63.2L955.1 63.2"/>
<path class="k68" d="M901.4 62.4L955.1 62.4"/>
<path class="k69" d="M901.4 61.7L955.1 61.7"/>
<path class="k66" d="M955.1 63.2L945.6 94.8"/>
<path class="k67" d="M955.1 63.2L945.6 94.8"/>
<path class="k68" d="M954.4 63.0L944.8 94.6"/>
<path class="k69" d="M953.7 62.8L944.2 94.4"/>
<path class="k66" d="M945.6 94.8L934.0 126.3"/>
<path class="k67" d="M945.6 94.8L934.0 126.3"/>
<path class="k68" d="M944.9 94.6L933.2 126.0"/>
<path class="k69" d="M944.2 94.3L932.6 125.8"/>
<path class="k66" d="M934.0 126.3L898.9 139.2"/>
<path class="k67" d="M934.0 126.3L898.9 139.2"/>
<path class="k68" d="M933.7 125.5L898.6 138.4"/>
<path class="k69" d="M933.5 124.9L898.4 137.8"/>
<path class="k70" d="M934.0 126.3L939.7 133.4"/>
<path class="k71" d="M934.0 126.3L939.7 133.4"/>
<path class="k72" d="M933.6 126.6L939.4 133.7"/>
<path class="k73" d="M933.3 126.8L939.1 133.9"/>
<path class="k74" d="M939.7 133.4L962.8 161.7"/>
<path class="k75" d="M939.7 133.4L962.8 161.7"/>
<path class="k76" d="M939.4 133.7L962.5 162.0"/>
<path class="k77" d="M939.1 133.9L962.2 162.2"/>
<path class="k66" d="M803.1 299.3L767.2 297.5"/>
<path class="k67" d="M803.1 299.3L767.2 297.5"/>
<path class="k68" d="M803.1 298.5L767.3 296.6"/>
<path class="k69" d="M803.2 297.8L767.3 296.0"/>
<path class="k66" d="M767.2 297.5L739.3 332.9"/>
<path class="k67" d="M767.2 297.5L739.3 332.9"/>
<path class="k68" d="M766.6 297.0L738.6 332.4"/>
<path class="k69" d="M766.1 296.5L738.1 332.0"/>
<path class="k66" d="M739.3 332.9L745.6 368.0"/>
<path class="k67" d="M739.3 332.9L745.6 368.0"/>
<path class="k68" d="M738.5 333.1L744.8 368.1"/>
<path class="k69" d="M737.8 333.2L744.1 368.2"/>
<path class="k66" d="M745.6 368.0L775.9 375.0"/>
<path class="k67" d="M745.6 368.0L775.9 375.0"/>
<path class="k68" d="M745.8 367.2L776.1 374.2"/>
<path class="k69" d="M745.9 366.5L776.3 373.6"/>
<path class="k66" d="M775.9 375.0L806.6 341.6"/>
<path class="k67" d="M775.9 375.0L806.6 341.6"/>
<path class="k68" d="M775.3 374.5L806.0 341.0"/>
<path class="k69" d="M774.8 374.0L805.5 340.6"/>
<path class="k66" d="M806.6 341.6L803.1 299.3"/>
<path class="k67" d="M806.6 341.6L803.1 299.3"/>
<path class="k68" d="M805.8 341.6L802.3 299.4"/>
<path class="k69" d="M805.2 341.7L801.6 299.4"/>
<path class="k66" d="M803.1 299.3L832.0 262.2"/>
<path class="k67" d="M803.1 299.3L832.0 262.2"/>
<path class="k68" d="M802.5 298.8L831.3 261.7"/>
<path class="k69" d="M801.9 298.4L830.8 261.3"/>
<path class="k70" d="M832.0 262.2L849.6 267.0"/>
<path class="k71" d="M832.0 262.2L849.6 267.0"/>
<path class="k72" d="M832.1 261.7L849.7 266.6"/>
<path class="k73" d="M832.2 261.4L849.8 266.2"/>
<path class="k74" d="M849.6 267.0L867.1 271.9"/>
<path class="k75" d="M849.6 267.0L867.1 271.9"/>
<path class="k76" d="M849.7 266.6L867.2 271.4"/>
<path class="k77" d="M849.8 266.2L867.3 271.1"/>
<path class="k66" d="M832.0 262.2L829.9 244.8"/>
<path class="k67" d="M832.0 262.2L829.9 244.8"/>
<path class="k68" d="M831.2 262.3L829.1 244.9"/>
<path class="k69" d="M830.5 262.4L828.4 245.0"/>
<path class="k78" d="M829.9 244.8L827.8 227.4"/>
<path class="k79" d="M829.9 244.8L827.8 227.4"/>
<path class="k80" d="M829.1 244.9L826.9 227.5"/>
<path class="k81" d="M828.4 245.0L826.3 227.6"/>
<path class="k78" d="M827.8 227.4L838.3 208.5"/>
<path class="k79" d="M827.8 227.4L838.3 208.5"/>
<path class="k80" d="M827.0 227.0L837.6 208.1"/>
<path class="k81" d="M826.5 226.7L837.0 207.8"/>
<path class="k66" d="M838.3 208.5L848.9 189.6"/>
<path class="k67" d="M838.3 208.5L848.9 189.6"/>
<path class="k68" d="M837.6 208.1L848.2 189.2"/>
<path class="k69" d="M837.0 207.8L847.6 188.9"/>
<path class="k66" d="M848.9 189.6L837.0 152.6"/>
<path class="k67" d="M848.9 189.6L837.0 152.6"/>
<path class="k68" d="M848.1 189.9L836.2 152.9"/>
<path class="k69" d="M847.5 190.1L835.6 153.1"/>
<path class="k70" d="M837.0 152.6L824.7 158.3"/>
<path class="k71" d="M837.0 152.6L824.7 158.3"/>
<path class="k72" d="M836.8 152.2L824.5 157.9"/>
<path class="k73" d="M836.7 151.9L824.4 157.6"/>
<path class="k82" d="M824.7 158.3L812.4 164.0"/>
<path class="k83" d="M824.7 158.3L812.4 164.0"/>
<path class="k84" d="M824.5 157.9L812.3 163.6"/>
<path class="k85" d="M824.4 157.6L812.1 163.2"/>
<path class="k66" d="M837.0 152.6L846.8 133.4"/>
<path class="k67" d="M837.0 152.6L846.8 133.4"/>
<path class="k68" d="M836.3 152.2L846.1 133.0"/>
<path class="k69" d="M835.7 151.9L845.5 132.7"/>
<path class="k86" d="M846.8 133.4L856.6 114.1"/>
<path class="k87" d="M846.8 133.4L856.6 114.1"/>
<path class="k88" d="M846.1 133.0L855.8 113.7"/>
<path class="k89" d="M845.5 132.7L855.3 113.4"/>
<path class="k86" d="M856.6 114.1L873.0 111.7"/>
<path class="k87" d="M856.6 114.1L873.0 111.7"/>
<path class="k88" d="M856.4 113.3L872.9 110.9"/>
<path class="k89" d="M856.4 112.6L872.8 110.2"/>
<path class="k66" d="M873.0 111.7L889.4 109.3"/>
<path class="k67" d="M873.0 111.7L889.4 109.3"/>
<path class="k68" d="M872.9 110.9L889.3 108.5"/>
<path class="k69" d="M872.8 110.2L889.2 107.8"/>
<path class="k66" d="M889.4 109.3L901.5 137.1"/>
<path class="k67" d="M889.4 109.3L901.5 137.1"/>
<path class="k68" d="M888.6 109.6L900.7 137.4"/>
<path class="k69" d="M888.0 109.9L900.1 137.7"/>
<path class="k66" d="M901.5 137.1L884.0 183.3"/>
<path class="k67" d="M901.5 137.1L884.0 183.3"/>
<path class="k68" d="M900.7 136.8L883.3 183.0"/>
<path class="k69" d="M900.1 136.6L882.7 182.8"/>
<path class="k66" d="M884.0 183.3L848.9 189.6"/>
<path class="k67" d="M884.0 183.3L848.9 189.6"/>
<path class="k68" d="M883.9 182.5L848.7 188.8"/>
<path class="k69" d="M883.8 181.9L848.6 188.2"/>
<path class="k66" d="M889.4 109.3L906.6 61.6"/>
<path class="k67" d="M889.4 109.3L906.6 61.6"/>
<path class="k68" d="M888.6 109.0L905.9 61.3"/>
<path class="k69" d="M888.0 108.8L905.2 61.1"/>
<path class="k66" d="M906.6 61.6L952.3 64.9"/>
<path class="k67" d="M906.6 61.6L952.3 64.9"/>
<path class="k68" d="M906.7 60.8L952.3 64.1"/>
<path class="k69" d="M906.7 60.1L952.4 63.4"/>
<path class="k66" d="M952.3 64.9L955.5 96.3"/>
<path class="k67" d="M952.3 64.9L955.5 96.3"/>
<path class="k68" d="M951.4 65.0L954.7 96.4"/>
<path class="k69" d="M950.8 65.1L954.1 96.5"/>
<path class="k66" d="M955.5 96.3L936.9 125.9"/>
<path class="k67" d="M955.5 96.3L936.9 125.9"/>
<path class="k68" d="M954.8 95.9L936.2 125.4"/>
<path class="k69" d="M954.3 95.5L935.6 125.1"/>
<path class="k66" d="M936.9 125.9L901.5 137.1"/>
<path class="k67" d="M936.9 125.9L901.5 137.1"/>
<path class="k68" d="M936.6 125.1L901.2 136.3"/>
<path class="k69" d="M936.4 124.5L901.0 135.7"/>
<path class="k70" d="M936.9 125.9L942.9 133.3"/>
<path class="k71" d="M936.9 125.9L942.9 133.3"/>
<path class="k72" d="M936.5 126.2L942.6 133.5"/>
<path class="k73" d="M936.2 126.4L942.3 133.8"/>
<path class="k74" d="M942.9 133.3L967.2 162.8"/>
<path class="k75" d="M942.9 133.3L967.2 162.8"/>
<path class="k76" d="M942.6 133.5L966.8 163.1"/>
<path class="k77" d="M942.3 133.8L966.5 163.3"/>
<path class="k66" d="M805.1 297.7L773.4 298.5"/>
<path class="k67" d="M805.1 297.7L773.4 298.5"/>
<path class="k68" d="M805.1 296.9L773.4 297.7"/>
<path class="k69" d="M805.0 296.2L773.4 297.0"/>
<path class="k66" d="M773.4 298.5L743.7 329.3"/>
<path class="k67" d="M773.4 298.5L743.7 329.3"/>
<path class="k68" d="M772.9 297.9L743.1 328.8"/>
<path class="k69" d="M772.4 297.5L742.6 328.3"/>
<path class="k66" d="M743.7 329.3L747.8 363.8"/>
<path class="k67" d="M743.7 329.3L747.8 363.8"/>
<path class="k68" d="M742.9 329.4L747.0 363.9"/>
<path class="k69" d="M742.2 329.5L746.3 363.9"/>
<path class="k66" d="M747.8 363.8L779.5 370.3"/>
<path class="k67" d="M747.8 363.8L779.5 370.3"/>
<path class="k68" d="M747.9 363.0L779.7 369.5"/>
<path class="k69" d="M748.1 362.3L779.8 368.8"/>
<path class="k66" d="M779.5 370.3L810.1 341.0"/>
<path class="k67" d="M779.5 370.3L810.1 341.0"/>
<path class="k68" d="M779.0 369.7L809.5 340.4"/>
<path class="k69" d="M778.5 369.2L809.0 339.9"/>
<path class="k66" d="M810.1 341.0L805.1 297.7"/>
<path class="k67" d="M810.1 341.0L805.1 297.7"/>
<path class="k68" d="M809.3 341.1L804.3 297.8"/>
<path class="k69" d="M808.6 341.2L803.6 297.8"/>
<path class="k66" d="M805.1 297.7L834.1 261.3"/>
<path class="k67" d="M805.1 297.7L834.1 261.3"/>
<path class="k68" d="M804.4 297.2L833.5 260.8"/>
<path class="k69" d="M803.9 296.8L833.0 260.4"/>
<path class="k70" d="M834.1 261.3L853.5 265.4"/>
<path class="k71" d="M834.1 261.3L853.5 265.4"/>
<path class="k72" d="M834.2 260.9L853.6 265.0"/>
<path class="k73" d="M834.3 260.5L853.7 264.6"/>
<path class="k74" d="M853.5 265.4L872.9 269.6"/>
<path class="k75" d="M853.5 265.4L872.9 269.6"/>
<path class="k76" d="M853.6 265.0L873.0 269.1"/>
<path class="k77" d="M853.7 264.6L873.0 268.8"/>
<path class="k66" d="M834.1 261.3L831.9 243.6"/>
<path class="k67" d="M834.1 261.3L831.9 243.6"/>
<path class="k68" d="M833.3 261.4L831.1 243.7"/>
<path class="k69" d="M832.7 261.5L830.4 243.8"/>
<path class="k78" d="M831.9 243.6L829.6 225.8"/>
<path class="k79" d="M831.9 243.6L829.6 225.8"/>
<path class="k80" d="M831.1 243.7L828.8 226.0"/>
<path class="k81" d="M830.4 243.8L828.1 226.0"/>
<path class="k78" d="M829.6 225.8L839.8 207.5"/>
<path class="k79" d="M829.6 225.8L839.8 207.5"/>
<path class="k80" d="M828.9 225.4L839.1 207.1"/>
<path class="k81" d="M828.3 225.1L838.5 206.8"/>
<path class="k66" d="M839.8 207.5L850.0 189.1"/>
<path class="k67" d="M839.8 207.5L850.0 189.1"/>
<path class="k68" d="M839.1 207.1L849.3 188.7"/>
<path class="k69" d="M838.5 206.8L848.7 188.4"/>
<path class="k66" d="M850.0 189.1L838.9 152.5"/>
<path class="k67" d="M850.0 189.1L838.9 152.5"/>
<path class="k68" d="M849.2 189.3L838.1 152.7"/>
<path class="k69" d="M848.6 189.5L837.5 152.9"/>
<path class="k70" d="M838.9 152.5L827.4 158.6"/>
<path class="k71" d="M838.9 152.5L827.4 158.6"/>
<path class="k72" d="M838.7 152.1L827.2 158.2"/>
<path class="k73" d="M838.5 151.7L827.0 157.9"/>
<path class="k82" d="M827.4 158.6L815.9 164.8"/>
<path class="k83" d="M827.4 158.6L815.9 164.8"/>
<path class="k84" d="M827.2 158.2L815.7 164.4"/>
<path class="k85" d="M827.0 157.9L815.5 164.1"/>
<path class="k66" d="M838.9 152.5L847.5 131.5"/>
<path class="k67" d="M838.9 152.5L847.5 131.5"/>
<path class="k68" d="M838.1 152.1L846.7 131.2"/>
<path class="k69" d="M837.5 151.9L846.1 131.0"/>
<path class="k86" d="M847.5 131.5L856.1 110.6"/>
<path class="k87" d="M847.5 131.5L856.1 110.6"/>
<path class="k88" d="M846.7 131.2L855.3 110.3"/>
<path class="k89" d="M846.1 131.0L854.7 110.1"/>
<path class="k86" d="M856.1 110.6L874.1 109.0"/>
<path class="k87" d="M856.1 110.6L874.1 109.0"/>
<path class="k88" d="M856.0 109.8L874.0 108.2"/>
<path class="k89" d="M856.0 109.2L874.0 107.6"/>
<path class="k66" d="M874.1 109.0L892.1 107.5"/>
<path class="k67" d="M874.1 109.0L892.1 107.5"/>
<path class="k68" d="M874.0 108.2L892.0 106.6"/>
<path class="k69" d="M874.0 107.6L892.0 106.0"/>
<path class="k66" d="M892.1 107.5L903.3 135.5"/>
<path class="k67" d="M892.1 107.5L903.3 135.5"/>
<path class="k68" d="M891.3 107.8L902.6 135.8"/>
<path class="k69" d="M890.7 108.0L901.9 136.1"/>
<path class="k66" d="M903.3 135.5L885.2 182.6"/>
<path class="k67" d="M903.3 135.5L885.2 182.6"/>
<path class="k68" d="M902.6 135.2L884.5 182.3"/>
<path class="k69" d="M901.9 135.0L883.9 182.1"/>
<path class="k66" d="M885.2 182.6L850.0 189.1"/>
<path class="k67" d="M885.2 182.6L850.0 189.1"/>
<path class="k68" d="M885.1 181.8L849.9 188.3"/>
<path class="k69" d="M885.0 181.2L849.8 187.7"/>
<path class="k66" d="M892.1 107.5L906.6 64.4"/>
<path class="k67" d="M892.1 107.5L906.6 64.4"/>
<path class="k68" d="M891.3 107.2L905.8 64.2"/>
<path class="k69" d="M890.7 107.0L905.2 63.9"/>
<path class="k66" d="M906.6 64.4L953.5 58.6"/>
<path class="k67" d="M906.6 64.4L953.5 58.6"/>
<path class="k68" d="M906.5 63.6L953.4 57.8"/>
<path class="k69" d="M906.4 62.9L953.4 57.1"/>
<path class="k66" d="M953.5 58.6L950.1 92.9"/>
<path class="k67" d="M953.5 58.6L950.1 92.9"/>
<path class="k68" d="M952.7 58.5L949.3 92.8"/>
<path class="k69" d="M952.1 58.4L948.7 92.7"/>
<path class="k66" d="M950.1 92.9L938.5 124.9"/>
<path class="k67" d="M950.1 92.9L938.5 124.9"/>
<path class="k68" d="M949.3 92.6L937.8 124.7"/>
<path class="k69" d="M948.7 92.4L937.1 124.4"/>
<path class="k66" d="M938.5 124.9L903.3 135.5"/>
<path class="k67" d="M938.5 124.9L903.3 135.5"/>
<path class="k68" d="M938.3 124.1L903.1 134.7"/>
<path class="k69" d="M938.1 123.5L902.9 134.1"/>
<path class="k70" d="M938.5 124.9L945.0 132.4"/>
<path class="k71" d="M938.5 124.9L945.0 132.4"/>
<path class="k72" d="M938.2 125.2L944.6 132.7"/>
<path class="k73" d="M937.9 125.5L944.4 132.9"/>
<path class="k74" d="M945.0 132.4L970.8 162.1"/>
<path class="k75" d="M945.0 132.4L970.8 162.1"/>
<path class="k76" d="M944.6 132.7L970.4 162.4"/>
<path class="k77" d="M944.4 132.9L970.2 162.6"/>
<path class="k66" d="M806.3 297.0L773.4 295.7"/>
<path class="k67" d="M806.3 297.0L773.4 295.7"/>
<path class="k68" d="M806.3 296.2L773.4 294.9"/>
<path class="k69" d="M806.3 295.5L773.4 294.3"/>
<path class="k66" d="M773.4 295.7L744.8 329.0"/>
<path class="k67" d="M773.4 295.7L744.8 329.0"/>
<path class="k68" d="M772.8 295.2L744.2 328.5"/>
<path class="k69" d="M772.3 294.8L743.7 328.1"/>
<path class="k66" d="M744.8 329.0L750.7 367.6"/>
<path class="k67" d="M744.8 329.0L750.7 367.6"/>
<path class="k68" d="M744.0 329.1L749.9 367.7"/>
<path class="k69" d="M743.3 329.2L749.2 367.8"/>
<path class="k66" d="M750.7 367.6L782.6 371.0"/>
<path class="k67" d="M750.7 367.6L782.6 371.0"/>
<path class="k68" d="M750.8 366.8L782.7 370.2"/>
<path class="k69" d="M750.8 366.1L782.7 369.5"/>
<path class="k66" d="M782.6 371.0L810.8 340.8"/>
<path class="k67" d="M782.6 371.0L810.8 340.8"/>
<path class="k68" d="M782.0 370.4L810.2 340.2"/>
<path class="k69" d="M781.5 370.0L809.7 339.8"/>
<path class="k66" d="M810.8 340.8L806.3 297.0"/>
<path class="k67" d="M810.8 340.8L806.3 297.0"/>
<path class="k68" d="M810.0 340.9L805.5 297.1"/>
<path class="k69" d="M809.3 341.0L804.8 297.2"/>
<path class="k66" d="M806.3 297.0L836.8 259.6"/>
<path class="k67" d="M806.3 297.0L836.8 259.6"/>
<path class="k68" d="M805.6 296.5L836.2 259.1"/>
<path class="k69" d="M805.1 296.1L835.7 258.6"/>
<path class="k70" d="M836.8 259.6L854.3 262.9"/>
<path class="k71" d="M836.8 259.6L854.3 262.9"/>
<path class="k72" d="M836.9 259.1L854.4 262.5"/>
<path class="k73" d="M837.0 258.8L854.4 262.1"/>
<path class="k74" d="M854.3 262.9L871.8 266.2"/>
<path class="k75" d="M854.3 262.9L871.8 266.2"/>
<path class="k76" d="M854.4 262.5L871.8 265.8"/>
<path class="k77" d="M854.4 262.1L871.9 265.4"/>
<path class="k66" d="M836.8 259.6L834.1 242.8"/>
<path class="k67" d="M836.8 259.6L834.1 242.8"/>
<path class="k68" d="M836.0 259.7L833.3 243.0"/>
<path class="k69" d="M835.4 259.8L832.7 243.1"/>
<path class="k78" d="M834.1 242.8L831.5 226.1"/>
<path class="k79" d="M834.1 242.8L831.5 226.1"/>
<path class="k80" d="M833.3 243.0L830.7 226.2"/>
<path class="k81" d="M832.7 243.1L830.0 226.3"/>
<path class="k78" d="M831.5 226.1L842.1 207.0"/>
<path class="k79" d="M831.5 226.1L842.1 207.0"/>
<path class="k80" d="M830.7 225.7L841.4 206.6"/>
<path class="k81" d="M830.2 225.4L840.8 206.2"/>
<path class="k66" d="M842.1 207.0L852.7 187.8"/>
<path class="k67" d="M842.1 207.0L852.7 187.8"/>
<path class="k68" d="M841.4 206.6L852.0 187.4"/>
<path class="k69" d="M840.8 206.2L851.5 187.1"/>
<path class="k66" d="M852.7 187.8L841.4 152.3"/>
<path class="k67" d="M852.7 187.8L841.4 152.3"/>
<path class="k68" d="M852.0 188.1L840.6 152.6"/>
<path class="k69" d="M851.3 188.3L840.0 152.8"/>
<path class="k70" d="M841.4 152.3L827.1 154.7"/>
<path class="k71" d="M841.4 152.3L827.1 154.7"/>
<path class="k72" d="M841.3 151.9L827.1 154.3"/>
<path class="k73" d="M841.2 151.5L827.0 153.9"/>
<path class="k82" d="M827.1 154.7L812.9 157.2"/>
<path class="k83" d="M827.1 154.7L812.9 157.2"/>
<path class="k84" d="M827.1 154.3L812.8 156.7"/>
<path class="k85" d="M827.0 153.9L812.8 156.4"/>
<path class="k66" d="M841.4 152.3L850.4 132.2"/>
<path class="k67" d="M841.4 152.3L850.4 132.2"/>
<path class="k68" d="M840.6 152.0L849.6 131.9"/>
<path class="k69" d="M840.0 151.7L849.0 131.6"/>
<path class="k86" d="M850.4 132.2L859.4 112.1"/>
<path class="k87" d="M850.4 132.2L859.4 112.1"/>
<path class="k88" d="M849.6 131.9L858.6 111.7"/>
<path class="k89" d="M849.0 131.6L858.0 111.5"/>
<path class="k86" d="M859.4 112.1L876.7 109.8"/>
<path class="k87" d="M859.4 112.1L876.7 109.8"/>
<path class="k88" d="M859.3 111.3L876.6 109.0"/>
<path class="k89" d="M859.2 110.6L876.5 108.4"/>
<path class="k66" d="M876.7 109.8L894.1 107.6"/>
<path class="k67" d="M876.7 109.8L894.1 107.6"/>
<path class="k68" d="M876.6 109.0L893.9 106.7"/>
<path class="k69" d="M876.5 108.4L893.9 106.1"/>
<path class="k66" d="M894.1 107.6L904.8 135.7"/>
<path class="k67" d="M894.1 107.6L904.8 135.7"/>
<path class="k68" d="M893.3 107.9L904.0 136.0"/>
<path class="k69" d="M892.7 108.1L903.4 136.2"/>
<path class="k66" d="M904.8 135.7L887.8 181.7"/>
<path class="k67" d="M904.8 135.7L887.8 181.7"/>
<path class="k68" d="M904.0 135.4L887.0 181.5"/>
<path class="k69" d="M903.4 135.2L886.4 181.2"/>
<path class="k66" d="M887.8 181.7L852.7 187.8"/>
<path class="k67" d="M887.8 181.7L852.7 187.8"/>
<path class="k68" d="M887.6 180.9L852.6 187.0"/>
<path class="k69" d="M887.5 180.3L852.5 186.4"/>
<path class="k66" d="M894.1 107.6L909.9 61.4"/>
<path class="k67" d="M894.1 107.6L909.9 61.4"/>
<path class="k68" d="M893.3 107.3L909.2 61.1"/>
<path class="k69" d="M892.7 107.1L908.5 60.9"/>
<path class="k66" d="M909.9 61.4L960.0 63.7"/>
<path class="k67" d="M909.9 61.4L960.0 63.7"/>
<path class="k68" d="M910.0 60.6L960.1 62.9"/>
<path class="k69" d="M910.0 59.9L960.1 62.2"/>
<path class="k66" d="M960.0 63.7L956.0 92.6"/>
<path class="k67" d="M960.0 63.7L956.0 92.6"/>
<path class="k68" d="M959.2 63.6L955.2 92.5"/>
<path class="k69" d="M958.6 63.5L954.6 92.4"/>
<path class="k66" d="M956.0 92.6L939.6 124.5"/>
<path class="k67" d="M956.0 92.6L939.6 124.5"/>
<path class="k68" d="M955.3 92.2L938.8 124.1"/>
<path class="k69" d="M954.7 91.9L938.2 123.8"/>
<path class="k66" d="M939.6 124.5L904.8 135.7"/>
<path class="k67" d="M939.6 124.5L904.8 135.7"/>
<path class="k68" d="M939.3 123.7L904.5 134.9"/>
<path class="k69" d="M939.1 123.1L904.3 134.3"/>
<path class="k70" d="M939.6 124.5L947.1 130.3"/>
<path class="k71" d="M939.6 124.5L947.1 130.3"/>
<path class="k72" d="M939.8 124.2L947.3 130.0"/>
<path class="k73" d="M940.0 123.9L947.6 129.7"/>
<path class="k74" d="M947.1 130.3L977.2 153.5"/>
<path class="k75" d="M947.1 130.3L977.2 153.5"/>
<path class="k76" d="M947.3 130.0L977.4 153.2"/>
<path class="k77" d="M947.6 129.7L977.7 152.9"/>
<path class="k66" d="M808.9 296.5L775.4 293.4"/>
<path class="k67" d="M808.9 296.5L775.4 293.4"/>
<path class="k68" d="M809.0 295.7L775.5 292.5"/>
<path class="k69" d="M809.0 295.0L775.6 291.9"/>
<path class="k66" d="M775.4 293.4L747.6 329.5"/>
<path class="k67" d="M775.4 293.4L747.6 329.5"/>
<path class="k68" d="M774.8 292.8L746.9 329.0"/>
<path class="k69" d="M774.3 292.4L746.4 328.6"/>
<path class="k66" d="M747.6 329.5L752.0 363.7"/>
<path class="k67" d="M747.6 329.5L752.0 363.7"/>
<path class="k68" d="M746.8 329.6L751.2 363.8"/>
<path class="k69" d="M746.1 329.7L750.5 363.9"/>
<path class="k66" d="M752.0 363.7L785.7 369.9"/>
<path class="k67" d="M752.0 363.7L785.7 369.9"/>
<path class="k68" d="M752.1 362.9L785.8 369.1"/>
<path class="k69" d="M752.2 362.3L785.9 368.5"/>
<path class="k66" d="M785.7 369.9L814.0 339.4"/>
<path class="k67" d="M785.7 369.9L814.0 339.4"/>
<path class="k68" d="M785.1 369.4L813.4 338.8"/>
<path class="k69" d="M784.6 368.9L812.9 338.4"/>
<path class="k66" d="M814.0 339.4L808.9 296.5"/>
<path class="k67" d="M814.0 339.4L808.9 296.5"/>
<path class="k68" d="M813.2 339.5L808.1 296.6"/>
<path class="k69" d="M812.6 339.6L807.4 296.7"/>
<path class="k66" d="M808.9 296.5L838.7 259.8"/>
<path class="k67" d="M808.9 296.5L838.7 259.8"/>
<path class="k68" d="M808.3 296.0L838.1 259.3"/>
<path class="k69" d="M807.7 295.6L837.6 258.8"/>
<path class="k70" d="M838.7 259.8L856.9 262.7"/>
<path class="k71" d="M838.7 259.8L856.9 262.7"/>
<path class="k72" d="M838.8 259.3L857.0 262.3"/>
<path class="k73" d="M838.9 259.0L857.0 261.9"/>
<path class="k74" d="M856.9 262.7L875.1 265.7"/>
<path class="k75" d="M856.9 262.7L875.1 265.7"/>
<path class="k76" d="M857.0 262.3L875.2 265.2"/>
<path class="k77" d="M857.0 261.9L875.2 264.9"/>
<path class="k66" d="M838.7 259.8L836.2 242.0"/>
<path class="k67" d="M838.7 259.8L836.2 242.0"/>
<path class="k68" d="M837.9 259.9L835.4 242.1"/>
<path class="k69" d="M837.3 260.0L834.8 242.2"/>
<path class="k78" d="M836.2 242.0L833.8 224.2"/>
<path class="k79" d="M836.2 242.0L833.8 224.2"/>
<path class="k80" d="M835.4 242.1L833.0 224.3"/>
<path class="k81" d="M834.8 242.2L832.3 224.4"/>
<path class="k78" d="M833.8 224.2L844.0 205.7"/>
<path class="k79" d="M833.8 224.2L844.0 205.7"/>
<path class="k80" d="M833.0 223.8L843.3 205.3"/>
<path class="k81" d="M832.5 223.5L842.7 205.0"/>
<path class="k66" d="M844.0 205.7L854.2 187.2"/>
<path class="k67" d="M844.0 205.7L854.2 187.2"/>
<path class="k68" d="M843.3 205.3L853.5 186.8"/>
<path class="k69" d="M842.7 205.0L852.9 186.5"/>
<path class="k66" d="M854.2 187.2L842.0 150.4"/>
<path class="k67" d="M854.2 187.2L842.0 150.4"/>
<path class="k68" d="M853.5 187.4L841.2 150.6"/>
<path class="k69" d="M852.8 187.6L840.6 150.8"/>
<path class="k70" d="M842.0 150.4L828.3 155.6"/>
<path class="k71" d="M842.0 150.4L828.3 155.6"/>
<path class="k72" d="M841.8 150.0L828.1 155.2"/>
<path class="k73" d="M841.7 149.6L828.0 154.8"/>
<path class="k82" d="M828.3 155.6L814.5 160.8"/>
<path class="k83" d="M828.3 155.6L814.5 160.8"/>
<path class="k84" d="M828.1 155.2L814.4 160.4"/>
<path class="k85" d="M828.0 154.8L814.3 160.0"/>
<path class="k66" d="M842.0 150.4L850.6 130.8"/>
<path class="k67" d="M842.0 150.4L850.6 130.8"/>
<path class="k68" d="M841.3 150.0L849.9 130.5"/>
<path class="k69" d="M840.7 149.8L849.3 130.2"/>
<path class="k86" d="M850.6 130.8L859.2 111.3"/>
<path class="k87" d="M850.6 130.8L859.2 111.3"/>
<path class="k88" d="M849.9 130.5L858.5 110.9"/>
<path class="k89" d="M849.3 130.2L857.9 110.7"/>
<path class="k86" d="M859.2 111.3L877.4 108.7"/>
<path class="k87" d="M859.2 111.3L877.4 108.7"/>
<path class="k88" d="M859.1 110.5L877.2 107.9"/>
<path class="k89" d="M859.0 109.8L877.2 107.3"/>
<path class="k66" d="M877.4 108.7L895.5 106.2"/>
<path class="k67" d="M877.4 108.7L895.5 106.2"/>
<path class="k68" d="M877.2 107.9L895.4 105.4"/>
<path class="k69" d="M877.2 107.3L895.3 104.7"/>
<path class="k66" d="M895.5 106.2L906.9 134.2"/>
<path class="k67" d="M895.5 106.2L906.9 134.2"/>
<path class="k68" d="M894.7 106.5L906.2 134.5"/>
<path class="k69" d="M894.1 106.8L905.6 134.8"/>
<path class="k66" d="M906.9 134.2L889.3 180.3"/>
<path class="k67" d="M906.9 134.2L889.3 180.3"/>
<path class="k68" d="M906.2 133.9L888.5 180.0"/>
<path class="k69" d="M905.6 133.7L887.9 179.7"/>
<path class="k66" d="M889.3 180.3L854.2 187.2"/>
<path class="k67" d="M889.3 180.3L854.2 187.2"/>
<path class="k68" d="M889.1 179.5L854.1 186.4"/>
<path class="k69" d="M889.0 178.8L854.0 185.7"/>
<path class="k66" d="M895.5 106.2L912.5 58.8"/>
<path class="k67" d="M895.5 106.2L912.5 58.8"/>
<path class="k68" d="M894.7 105.9L911.8 58.5"/>
<path class="k69" d="M894.1 105.7L911.1 58.3"/>
<path class="k66" d="M912.5 58.8L955.3 63.7"/>
<path class="k67" d="M912.5 58.8L955.3 63.7"/>
<path class="k68" d="M912.6 58.0L955.4 62.9"/>
<path class="k69" d="M912.7 57.4L955.5 62.2"/>
<path class="k66" d="M955.3 63.7L959.7 91.3"/>
<path class="k67" d="M955.3 63.7L959.7 91.3"/>
<path class="k68" d="M954.5 63.8L958.9 91.4"/>
<path class="k69" d="M953.8 63.9L958.3 91.5"/>
<path class="k66" d="M959.7 91.3L942.1 122.4"/>
<path class="k67" d="M959.7 91.3L942.1 122.4"/>
<path class="k68" d="M959.0 90.9L941.4 122.0"/>
<path class="k69" d="M958.4 90.6L940.9 121.6"/>
<path class="k66" d="M942.1 122.4L906.9 134.2"/>
<path class="k67" d="M942.1 122.4L906.9 134.2"/>
<path class="k68" d="M941.9 121.6L906.7 133.5"/>
<path class="k69" d="M941.7 121.0L906.5 132.8"/>
<path class="k70" d="M942.1 122.4L949.8 128.5"/>
<path class="k71" d="M942.1 122.4L949.8 128.5"/>
<path class="k72" d="M942.4 122.0L950.0 128.2"/>
<path class="k73" d="M942.6 121.7L950.3 127.9"/>
<path class="k74" d="M949.8 128.5L980.2 153.0"/>
<path class="k75" d="M949.8 128.5L980.2 153.0"/>
<path class="k76" d="M950.0 128.2L980.5 152.7"/>
<path class="k77" d="M950.3 127.9L980.7 152.4"/>
<path class="k66" d="M810.8 296.0L778.8 292.3"/>
<path class="k67" d="M810.8 296.0L778.8 292.3"/>
<path class="k68" d="M810.9 295.2L778.9 291.5"/>
<path class="k69" d="M811.0 294.6L779.0 290.8"/>
<path class="k66" d="M778.8 292.3L746.8 329.3"/>
<path class="k67" d="M778.8 292.3L746.8 329.3"/>
<path class="k68" d="M778.2 291.8L746.2 328.8"/>
<path class="k69" d="M777.7 291.3L745.7 328.3"/>
<path class="k66" d="M746.8 329.3L754.2 364.6"/>
<path class="k67" d="M746.8 329.3L754.2 364.6"/>
<path class="k68" d="M746.0 329.5L753.4 364.8"/>
<path class="k69" d="M745.4 329.6L752.8 364.9"/>
<path class="k66" d="M754.2 364.6L787.4 371.3"/>
<path class="k67" d="M754.2 364.6L787.4 371.3"/>
<path class="k68" d="M754.4 363.8L787.6 370.5"/>
<path class="k69" d="M754.5 363.1L787.7 369.9"/>
<path class="k66" d="M787.4 371.3L815.4 338.4"/>
<path class="k67" d="M787.4 371.3L815.4 338.4"/>
<path class="k68" d="M786.8 370.8L814.8 337.8"/>
<path class="k69" d="M786.3 370.3L814.3 337.4"/>
<path class="k66" d="M815.4 338.4L810.8 296.0"/>
<path class="k67" d="M815.4 338.4L810.8 296.0"/>
<path class="k68" d="M814.6 338.5L810.0 296.1"/>
<path class="k69" d="M813.9 338.5L809.4 296.2"/>
<path class="k66" d="M810.8 296.0L840.7 258.9"/>
<path class="k67" d="M810.8 296.0L840.7 258.9"/>
<path class="k68" d="M810.2 295.5L840.0 258.4"/>
<path class="k69" d="M809.7 295.1L839.5 258.0"/>
<path class="k70" d="M840.7 258.9L858.8 263.3"/>
<path class="k71" d="M840.7 258.9L858.8 263.3"/>
<path class="k72" d="M840.8 258.5L858.9 262.9"/>
<path class="k73" d="M840.9 258.1L859.0 262.5"/>
<path class="k74" d="M858.8 263.3L877.0 267.7"/>
<path class="k75" d="M858.8 263.3L877.0 267.7"/>
<path class="k76" d="M858.9 262.9L877.1 267.3"/>
<path class="k77" d="M859.0 262.5L877.2 266.9"/>
<path class="k66" d="M840.7 258.9L838.3 241.3"/>
<path class="k67" d="M840.7 258.9L838.3 241.3"/>
<path class="k68" d="M839.9 259.0L837.5 241.5"/>
<path class="k69" d="M839.2 259.1L836.9 241.5"/>
<path class="k78" d="M838.3 241.3L836.0 223.8"/>
<path class="k79" d="M838.3 241.3L836.0 223.8"/>
<path class="k80" d="M837.5 241.5L835.1 223.9"/>
<path class="k81" d="M836.9 241.5L834.5 224.0"/>
<path class="k78" d="M836.0 223.8L846.3 205.0"/>
<path class="k79" d="M836.0 223.8L846.3 205.0"/>
<path class="k80" d="M835.2 223.4L845.5 204.6"/>
<path class="k81" d="M834.7 223.1L845.0 204.3"/>
<path class="k66" d="M846.3 205.0L856.6 186.3"/>
<path class="k67" d="M846.3 205.0L856.6 186.3"/>
<path class="k68" d="M845.5 204.6L855.8 185.9"/>
<path class="k69" d="M845.0 204.3L855.3 185.6"/>
<path class="k66" d="M856.6 186.3L844.5 148.8"/>
<path class="k67" d="M856.6 186.3L844.5 148.8"/>
<path class="k68" d="M855.8 186.5L843.7 149.0"/>
<path class="k69" d="M855.2 186.7L843.1 149.2"/>
<path class="k70" d="M844.5 148.8L832.9 154.9"/>
<path class="k71" d="M844.5 148.8L832.9 154.9"/>
<path class="k72" d="M844.3 148.4L832.7 154.5"/>
<path class="k73" d="M844.1 148.1L832.5 154.2"/>
<path class="k82" d="M832.9 154.9L821.3 161.0"/>
<path class="k83" d="M832.9 154.9L821.3 161.0"/>
<path class="k84" d="M832.7 154.5L821.1 160.6"/>
<path class="k85" d="M832.5 154.2L820.9 160.3"/>
<path class="k66" d="M844.5 148.8L854.1 129.7"/>
<path class="k67" d="M844.5 148.8L854.1 129.7"/>
<path class="k68" d="M843.8 148.4L853.4 129.3"/>
<path class="k69" d="M843.2 148.1L852.8 129.0"/>
<path class="k86" d="M854.1 129.7L863.7 110.6"/>
<path class="k87" d="M854.1 129.7L863.7 110.6"/>
<path class="k88" d="M853.4 129.3L863.0 110.3"/>
<path class="k89" d="M852.8 129.0L862.4 110.0"/>
<path class="k86" d="M863.7 110.6L881.0 107.8"/>
<path class="k87" d="M863.7 110.6L881.0 107.8"/>
<path class="k88" d="M863.6 109.8L880.8 107.0"/>
<path class="k89" d="M863.5 109.2L880.7 106.3"/>
<path class="k66" d="M881.0 107.8L898.3 105.0"/>
<path class="k67" d="M881.0 107.8L898.3 105.0"/>
<path class="k68" d="M880.8 107.0L898.1 104.2"/>
<path class="k69" d="M880.7 106.3L898.0 103.5"/>
<path class="k66" d="M898.3 105.0L908.4 134.6"/>
<path class="k67" d="M898.3 105.0L908.4 134.6"/>
<path class="k68" d="M897.5 105.2L907.6 134.9"/>
<path class="k69" d="M896.9 105.4L907.0 135.1"/>
<path class="k66" d="M908.4 134.6L890.0 180.5"/>
<path class="k67" d="M908.4 134.6L890.0 180.5"/>
<path class="k68" d="M907.6 134.3L889.2 180.2"/>
<path class="k69" d="M907.0 134.0L888.6 180.0"/>
<path class="k66" d="M890.0 180.5L856.6 186.3"/>
<path class="k67" d="M890.0 180.5L856.6 186.3"/>
<path class="k68" d="M889.8 179.7L856.4 185.5"/>
<path class="k69" d="M889.7 179.1L856.3 184.8"/>
<path class="k66" d="M898.3 105.0L913.9 58.3"/>
<path class="k67" d="M898.3 105.0L913.9 58.3"/>
<path class="k68" d="M897.5 104.7L913.2 58.1"/>
<path class="k69" d="M896.9 104.5L912.5 57.9"/>
<path class="k66" d="M913.9 58.3L958.4 61.6"/>
<path class="k67" d="M913.9 58.3L958.4 61.6"/>
<path class="k68" d="M914.0 57.5L958.5 60.8"/>
<path class="k69" d="M914.0 56.9L958.5 60.1"/>
<path class="k66" d="M958.4 61.6L961.3 88.0"/>
<path class="k67" d="M958.4 61.6L961.3 88.0"/>
<path class="k68" d="M957.6 61.7L960.5 88.1"/>
<path class="k69" d="M957.0 61.8L959.8 88.2"/>
<path class="k66" d="M961.3 88.0L943.8 121.1"/>
<path class="k67" d="M961.3 88.0L943.8 121.1"/>
<path class="k68" d="M960.6 87.7L943.1 120.7"/>
<path class="k69" d="M960.0 87.4L942.5 120.4"/>
<path class="k66" d="M943.8 121.1L908.4 134.6"/>
<path class="k67" d="M943.8 121.1L908.4 134.6"/>
<path class="k68" d="M943.5 120.4L908.1 133.8"/>
<path class="k69" d="M943.3 119.7L907.9 133.2"/>
<path class="k70" d="M943.8 121.1L952.5 127.5"/>
<path class="k71" d="M943.8 121.1L952.5 127.5"/>
<path class="k72" d="M944.1 120.8L952.7 127.1"/>
<path class="k73" d="M944.3 120.5L953.0 126.9"/>
<path class="k74" d="M952.5 127.5L987.1 153.0"/>
<path class="k75" d="M952.5 127.5L987.1 153.0"/>
<path class="k76" d="M952.7 127.1L987.4 152.7"/>
<path class="k77" d="M953.0 126.9L987.6 152.4"/>
<path class="k90" d="M953.1 61.4L900.5 34.2"/>
<path class="k91" d="M953.1 61.4L900.5 34.2"/>
<path class="k92" d="M953.5 60.6L900.9 33.4"/>
<path class="k93" d="M953.8 59.9L901.3 32.8"/>
<path class="k90" d="M958.3 63.3L914.5 24.3"/>
<path class="k91" d="M958.3 63.3L914.5 24.3"/>
<path class="k92" d="M958.9 62.6L915.1 23.6"/>
<path class="k93" d="M959.4 62.1L915.6 23.1"/>
<path class="k90" d="M954.6 62.9L929.8 32.2"/>
<path class="k91" d="M954.6 62.9L929.8 32.2"/>
<path class="k92" d="M953.9 63.5L929.1 32.7"/>
<path class="k93" d="M953.3 63.9L928.5 33.2"/>
<path class="k90" d="M953.7 60.5L940.7 27.9"/>
<path class="k91" d="M953.7 60.5L940.7 27.9"/>
<path class="k92" d="M952.9 60.8L939.9 28.2"/>
<path class="k93" d="M952.2 61.1L939.2 28.5"/>
<path class="k90" d="M955.3 64.6L958.7 7.0"/>
<path class="k91" d="M955.3 64.6L958.7 7.0"/>
<path class="k92" d="M954.4 64.5L957.8 6.9"/>
<path class="k93" d="M953.6 64.5L957.1 6.9"/>
<path class="k90" d="M956.9 61.1L968.9 13.6"/>
<path class="k91" d="M956.9 61.1L968.9 13.6"/>
<path class="k92" d="M956.0 60.9L968.0 13.4"/>
<path class="k93" d="M955.3 60.7L967.3 13.2"/>
<path class="k90" d="M958.0 64.0L978.0 18.1"/>
<path class="k91" d="M958.0 64.0L978.0 18.1"/>
<path class="k92" d="M957.1 63.6L977.2 17.8"/>
<path class="k93" d="M956.5 63.3L976.6 17.5"/>
<path class="k90" d="M955.7 59.7L986.2 27.5"/>
<path class="k91" d="M955.7 59.7L986.2 27.5"/>
<path class="k92" d="M955.0 59.1L985.6 26.9"/>
<path class="k93" d="M954.5 58.6L985.1 26.4"/>
<path class="k90" d="M956.7 59.4L991.4 64.4"/>
<path class="k91" d="M956.7 59.4L991.4 64.4"/>
<path class="k92" d="M956.8 58.5L991.5 63.6"/>
<path class="k93" d="M956.9 57.8L991.6 62.8"/>
<path class="k90" d="M957.1 59.8L990.5 76.9"/>
<path class="k91" d="M957.1 59.8L990.5 76.9"/>
<path class="k92" d="M957.5 59.0L990.9 76.1"/>
<path class="k93" d="M957.8 58.3L991.2 75.5"/>
<path class="k94" d="M952.8 57.3L970.8 92.1"/>
<path class="k95" d="M952.8 57.3L970.8 92.1"/>
<path class="k96" d="M952.2 57.6L970.2 92.5"/>
<path class="k97" d="M951.7 57.9L969.7 92.7"/>
<path class="k94" d="M976.2 91.0L947.9 119.4"/>
<path class="k95" d="M976.2 91.0L947.9 119.4"/>
<path class="k96" d="M975.8 90.5L947.4 118.9"/>
<path class="k97" d="M975.4 90.1L947.0 118.5"/>
<path class="k94" d="M953.3 57.8L976.9 87.2"/>
<path class="k95" d="M953.3 57.8L976.9 87.2"/>
<path class="k96" d="M952.8 58.3L976.3 87.6"/>
<path class="k97" d="M952.3 58.6L975.9 88.0"/>
<path class="k94" d="M978.4 85.5L945.1 117.5"/>
<path class="k95" d="M978.4 85.5L945.1 117.5"/>
<path class="k96" d="M977.9 85.0L944.6 117.0"/>
<path class="k97" d="M977.5 84.6L944.2 116.6"/>
<path class="k94" d="M950.2 57.3L969.2 87.1"/>
<path class="k95" d="M950.2 57.3L969.2 87.1"/>
<path class="k96" d="M949.6 57.7L968.6 87.5"/>
<path class="k97" d="M949.2 58.0L968.1 87.8"/>
<path class="k94" d="M973.6 92.6L942.3 122.9"/>
<path class="k95" d="M973.6 92.6L942.3 122.9"/>
<path class="k96" d="M973.1 92.1L941.9 122.4"/>
<path class="k97" d="M972.7 91.7L941.5 122.0"/>
<path class="k94" d="M950.6 61.0L973.3 84.9"/>
<path class="k95" d="M950.6 61.0L973.3 84.9"/>
<path class="k96" d="M950.1 61.5L972.8 85.4"/>
<path class="k97" d="M949.7 61.8L972.4 85.8"/>
<path class="k94" d="M976.3 86.3L942.1 117.8"/>
<path class="k95" d="M976.3 86.3L942.1 117.8"/>
<path class="k96" d="M975.9 85.8L941.7 117.3"/>
<path class="k97" d="M975.5 85.3L941.3 116.9"/>
<path class="k94" d="M954.1 60.3L980.9 85.0"/>
<path class="k95" d="M954.1 60.3L980.9 85.0"/>
<path class="k96" d="M954.5 59.8L981.4 84.5"/>
<path class="k97" d="M954.9 59.4L981.8 84.1"/>
<path class="k94" d="M978.2 86.1L946.1 118.7"/>
<path class="k95" d="M978.2 86.1L946.1 118.7"/>
<path class="k96" d="M977.7 85.6L945.6 118.2"/>
<path class="k97" d="M977.3 85.2L945.2 117.8"/>
</g>
<g fill="#a9a9a9" stroke="#5c5c5c" stroke-width="0.8">
<rect x="439.03" y="311.32" width="5.78" height="0.98"/><rect x="444.81" y="307.32" width="5.78" height="4.98"/><rect x="450.59" y="303.46" width="5.78" height="8.84"/><rect x="456.37" y="300.33" width="5.78" height="11.97"/><rect x="462.14" y="298.13" width="5.78" height="14.17"/><rect x="467.92" y="301.60" width="5.78" height="10.70"/><rect x="473.70" y="307.15" width="5.78" height="5.15"/><rect x="479.48" y="304.56" width="5.78" height="7.74"/><rect x="485.26" y="298.47" width="5.78" height="13.83"/><rect x="491.03" y="282.50" width="5.78" height="29.80"/><rect x="496.81" y="267.59" width="5.78" height="44.71"/><rect x="502.59" y="268.57" width="5.78" height="43.73"/><rect x="508.37" y="248.78" width="5.78" height="63.52"/><rect x="514.14" y="207.25" width="5.78" height="105.05"/><rect x="519.92" y="97.32" width="5.78" height="214.98"/><rect x="525.70" y="68.00" width="5.78" height="244.30"/><rect x="531.48" y="207.25" width="5.78" height="105.05"/><rect x="537.26" y="247.32" width="5.78" height="64.98"/><rect x="543.03" y="259.29" width="5.78" height="53.01"/><rect x="548.81" y="262.46" width="5.78" height="49.84"/><rect x="554.59" y="280.30" width="5.78" height="32.00"/><rect x="560.37" y="299.84" width="5.78" height="12.46"/><rect x="566.14" y="302.53" width="5.78" height="9.77"/><rect x="571.92" y="304.48" width="5.78" height="7.82"/><rect x="577.70" y="303.51" width="5.78" height="8.79"/><rect x="583.48" y="294.95" width="5.78" height="17.35"/><rect x="589.26" y="299.84" width="5.78" height="12.46"/><rect x="595.03" y="302.04" width="5.78" height="10.26"/><rect x="600.81" y="308.64" width="5.78" height="3.66"/><rect x="606.59" y="311.08" width="5.78" height="1.22"/>
</g>
<path d="M421.70,312.30 L422.28,312.30 L422.86,312.30 L423.43,312.30 L424.01,312.30 L424.59,312.30 L425.17,312.30 L425.74,312.30 L426.32,312.30 L426.90,312.30 L427.48,312.30 L428.06,312.30 L428.63,312.30 L429.21,312.30 L429.79,312.30 L430.37,312.30 L430.94,312.30 L431.52,312.30 L432.10,312.30 L432.68,312.30 L433.26,312.30 L433.83,312.30 L434.41,312.30 L434.99,312.30 L435.57,312.30 L436.14,312.30 L436.72,312.30 L437.30,312.30 L437.88,312.30 L438.46,312.30 L439.03,312.30 L439.61,312.30 L440.19,312.30 L440.77,312.30 L441.34,312.30 L441.92,312.30 L442.50,312.30 L443.08,312.30 L443.66,312.30 L444.23,312.30 L444.81,312.30 L445.39,312.30 L445.97,312.30 L446.54,312.30 L447.12,312.30 L447.70,312.30 L448.28,312.30 L448.86,312.30 L449.43,312.30 L450.01,312.30 L450.59,312.30 L451.17,312.30 L451.74,312.30 L452.32,312.30 L452.90,312.30 L453.48,312.30 L454.06,312.30 L454.63,312.30 L455.21,312.30 L455.79,312.30 L456.37,312.30 L456.94,312.30 L457.52,312.30 L458.10,312.30 L458.68,312.30 L459.26,312.30 L459.83,312.30 L460.41,312.30 L460.99,312.30 L461.57,312.30 L462.14,312.30 L462.72,312.30 L463.30,312.30 L463.88,312.30 L464.46,312.30 L465.03,312.30 L465.61,312.30 L466.19,312.30 L466.77,312.30 L467.34,312.30 L467.92,312.30 L468.50,312.30 L469.08,312.30 L469.66,312.30 L470.23,312.30 L470.81,312.30 L471.39,312.30 L471.97,312.30 L472.54,312.30 L473.12,312.30 L473.70,312.30 L474.28,312.30 L474.86,312.30 L475.43,312.30 L476.01,312.30 L476.59,312.30 L477.17,312.30 L477.74,312.30 L478.32,312.30 L478.90,312.30 L479.48,312.30 L480.06,312.30 L480.63,312.30 L481.21,312.30 L481.79,312.30 L482.37,312.30 L482.94,312.30 L483.52,312.30 L484.10,312.30 L484.68,312.29 L485.26,312.29 L485.83,312.29 L486.41,312.29 L486.99,312.28 L487.57,312.28 L488.14,312.27 L488.72,312.26 L489.30,312.25 L489.88,312.23 L490.46,312.21 L491.03,312.19 L491.61,312.16 L492.19,312.11 L492.77,312.06 L493.34,312.00 L493.92,311.92 L494.50,311.82 L495.08,311.69 L495.66,311.54 L496.23,311.36 L496.81,311.13 L497.39,310.85 L497.97,310.52 L498.54,310.12 L499.12,309.64 L499.70,309.07 L500.28,308.39 L500.86,307.59 L501.43,306.66 L502.01,305.56 L502.59,304.29 L503.17,302.82 L503.74,301.12 L504.32,299.18 L504.90,296.96 L505.48,294.45 L506.06,291.62 L506.63,288.44 L507.21,284.88 L507.79,280.93 L508.37,276.57 L508.94,271.77 L509.52,266.52 L510.10,260.81 L510.68,254.64 L511.26,248.01 L511.83,240.91 L512.41,233.38 L512.99,225.41 L513.57,217.06 L514.14,208.34 L514.72,199.31 L515.30,190.01 L515.88,180.52 L516.46,170.90 L517.03,161.22 L517.61,151.57 L518.19,142.02 L518.77,132.68 L519.34,123.64 L519.92,114.98 L520.50,106.81 L521.08,99.21 L521.66,92.28 L522.23,86.08 L522.81,80.70 L523.39,76.21 L523.97,72.65 L524.54,70.08 L525.12,68.52 L525.70,68.00 L526.28,68.52 L526.86,70.08 L527.43,72.65 L528.01,76.21 L528.59,80.70 L529.17,86.08 L529.74,92.28 L530.32,99.21 L530.90,106.81 L531.48,114.98 L532.06,123.64 L532.63,132.68 L533.21,142.02 L533.79,151.57 L534.37,161.22 L534.94,170.90 L535.52,180.52 L536.10,190.01 L536.68,199.31 L537.26,208.34 L537.83,217.06 L538.41,225.41 L538.99,233.38 L539.57,240.91 L540.14,248.01 L540.72,254.64 L541.30,260.81 L541.88,266.52 L542.46,271.77 L543.03,276.57 L543.61,280.93 L544.19,284.88 L544.77,288.44 L545.34,291.62 L545.92,294.45 L546.50,296.96 L547.08,299.18 L547.66,301.12 L548.23,302.82 L548.81,304.29 L549.39,305.56 L549.97,306.66 L550.54,307.59 L551.12,308.39 L551.70,309.07 L552.28,309.64 L552.86,310.12 L553.43,310.52 L554.01,310.85 L554.59,311.13 L555.17,311.36 L555.74,311.54 L556.32,311.69 L556.90,311.82 L557.48,311.92 L558.06,312.00 L558.63,312.06 L559.21,312.11 L559.79,312.16 L560.37,312.19 L560.94,312.21 L561.52,312.23 L562.10,312.25 L562.68,312.26 L563.26,312.27 L563.83,312.28 L564.41,312.28 L564.99,312.29 L565.57,312.29 L566.14,312.29 L566.72,312.29 L567.30,312.30 L567.88,312.30 L568.46,312.30 L569.03,312.30 L569.61,312.30 L570.19,312.30 L570.77,312.30 L571.34,312.30 L571.92,312.30 L572.50,312.30 L573.08,312.30 L573.66,312.30 L574.23,312.30 L574.81,312.30 L575.39,312.30 L575.97,312.30 L576.54,312.30 L577.12,312.30 L577.70,312.30 L578.28,312.30 L578.86,312.30 L579.43,312.30 L580.01,312.30 L580.59,312.30 L581.17,312.30 L581.74,312.30 L582.32,312.30 L582.90,312.30 L583.48,312.30 L584.06,312.30 L584.63,312.30 L585.21,312.30 L585.79,312.30 L586.37,312.30 L586.94,312.30 L587.52,312.30 L588.10,312.30 L588.68,312.30 L589.26,312.30 L589.83,312.30 L590.41,312.30 L590.99,312.30 L591.57,312.30 L592.14,312.30 L592.72,312.30 L593.30,312.30 L593.88,312.30 L594.46,312.30 L595.03,312.30 L595.61,312.30 L596.19,312.30 L596.77,312.30 L597.34,312.30 L597.92,312.30 L598.50,312.30 L599.08,312.30 L599.66,312.30 L600.23,312.30 L600.81,312.30 L601.39,312.30 L601.97,312.30 L602.54,312.30 L603.12,312.30 L603.70,312.30 L604.28,312.30 L604.86,312.30 L605.43,312.30 L606.01,312.30 L606.59,312.30 L607.17,312.30 L607.74,312.30 L608.32,312.30 L608.90,312.30 L609.48,312.30 L610.06,312.30 L610.63,312.30 L611.21,312.30 L611.79,312.30 L612.37,312.30 L612.94,312.30 L613.52,312.30 L614.10,312.30 L614.68,312.30 L615.26,312.30 L615.83,312.30 L616.41,312.30 L616.99,312.30 L617.57,312.30 L618.14,312.30 L618.72,312.30 L619.30,312.30 L619.88,312.30 L620.46,312.30 L621.03,312.30 L621.61,312.30 L622.19,312.30 L622.77,312.30 L623.34,312.30 L623.92,312.30 L624.50,312.30 L625.08,312.30 L625.66,312.30 L626.23,312.30 L626.81,312.30 L627.39,312.30 L627.97,312.30 L628.54,312.30 L629.12,312.30 L629.70,312.30" fill="none" stroke="#f00000" stroke-width="2.2" stroke-linejoin="round"/>
<g stroke="#222" stroke-width="0.8"><line x1="456.37" y1="312.3" x2="456.37" y2="308.3"/><line x1="456.37" y1="68.0" x2="456.37" y2="72.0"/><line x1="491.03" y1="312.3" x2="491.03" y2="308.3"/><line x1="491.03" y1="68.0" x2="491.03" y2="72.0"/><line x1="525.70" y1="312.3" x2="525.70" y2="308.3"/><line x1="525.70" y1="68.0" x2="525.70" y2="72.0"/><line x1="560.37" y1="312.3" x2="560.37" y2="308.3"/><line x1="560.37" y1="68.0" x2="560.37" y2="72.0"/><line x1="595.03" y1="312.3" x2="595.03" y2="308.3"/><line x1="595.03" y1="68.0" x2="595.03" y2="72.0"/><line x1="421.7" y1="263.44" x2="425.7" y2="263.44"/><line x1="629.7" y1="263.44" x2="625.7" y2="263.44"/><line x1="421.7" y1="214.58" x2="425.7" y2="214.58"/><line x1="629.7" y1="214.58" x2="625.7" y2="214.58"/><line x1="421.7" y1="165.72" x2="425.7" y2="165.72"/><line x1="629.7" y1="165.72" x2="625.7" y2="165.72"/><line x1="421.7" y1="116.86" x2="425.7" y2="116.86"/><line x1="629.7" y1="116.86" x2="625.7" y2="116.86"/></g>
<rect x="421.7" y="68.0" width="208.00" height="244.30" fill="none" stroke="#1a1a1a" stroke-width="1.3"/>
<g class="s"><text x="416.7" y="317.80" text-anchor="end">0.0</text><text x="416.7" y="268.94" text-anchor="end">0.2</text><text x="416.7" y="220.08" text-anchor="end">0.4</text><text x="416.7" y="171.22" text-anchor="end">0.6</text><text x="416.7" y="122.36" text-anchor="end">0.8</text><text x="416.7" y="73.50" text-anchor="end">1.0</text><text x="421.70" y="329.3" text-anchor="middle">0</text><text x="456.37" y="329.3" text-anchor="middle">60</text><text x="491.03" y="329.3" text-anchor="middle">120</text><text x="525.70" y="329.3" text-anchor="middle">180</text><text x="560.37" y="329.3" text-anchor="middle">240</text><text x="595.03" y="329.3" text-anchor="middle">300</text><text x="629.70" y="329.3" text-anchor="middle">360</text></g>
<text class="s" transform="translate(387,189) rotate(-90)" text-anchor="middle">Probability</text>
<text class="t" x="31" y="424">Distance Geometry</text>
<text class="t" x="364.5" y="387.5">Experimental Torsional-</text>
<text class="t" x="398.5" y="419.5">Angle Preferences</text>
<text class="t" x="809" y="424.5" style="font-weight:bold">ETKDG</text>
<g fill="#000">
<rect x="323.2" y="193.4" width="23.7" height="5.8"/>
<rect x="332" y="184.4" width="6" height="23.4"/>
<rect x="706" y="188.2" width="23.3" height="5.8"/>
<rect x="706" y="198" width="23.3" height="5.8"/>
</g>
</svg>
</body></html>
